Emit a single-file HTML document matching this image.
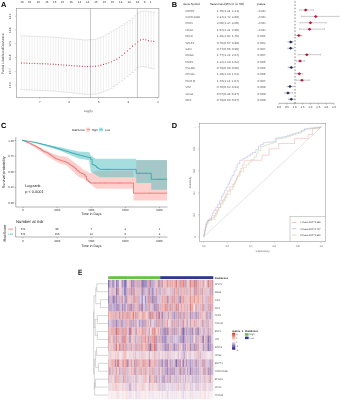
<!DOCTYPE html>
<html><head><meta charset="utf-8"><title>Figure</title>
<style>html,body{margin:0;padding:0;background:#fff;} svg{display:block;}</style></head>
<body><svg width="340" height="400" viewBox="0 0 340 400" text-rendering="geometricPrecision" style="font-family:'Liberation Sans','DejaVu Sans',sans-serif">
<rect x="0" y="0" width="340" height="400" fill="#fff"/>
<text x="0.90" y="7.10" font-size="7.4" text-anchor="start" fill="#000" font-weight="bold">A</text>
<text x="171.70" y="6.90" font-size="7.4" text-anchor="start" fill="#000" font-weight="bold">B</text>
<text x="1.10" y="127.80" font-size="7.4" text-anchor="start" fill="#000" font-weight="bold">C</text>
<text x="171.80" y="128.10" font-size="7.4" text-anchor="start" fill="#000" font-weight="bold">D</text>
<text x="77.90" y="274.80" font-size="7.8" text-anchor="start" fill="#111" font-weight="bold" textLength="4.3" lengthAdjust="spacingAndGlyphs">E</text>
<line x1="21.50" y1="35.75" x2="21.50" y2="89.60" stroke="#d8d8d8" stroke-width="0.4"/>
<line x1="20.20" y1="35.75" x2="22.80" y2="35.75" stroke="#c8c8c8" stroke-width="0.45"/>
<line x1="20.20" y1="89.60" x2="22.80" y2="89.60" stroke="#c8c8c8" stroke-width="0.45"/>
<line x1="24.14" y1="35.87" x2="24.14" y2="89.71" stroke="#d8d8d8" stroke-width="0.4"/>
<line x1="22.84" y1="35.87" x2="25.45" y2="35.87" stroke="#c8c8c8" stroke-width="0.45"/>
<line x1="22.84" y1="89.71" x2="25.45" y2="89.71" stroke="#c8c8c8" stroke-width="0.45"/>
<line x1="26.79" y1="35.98" x2="26.79" y2="89.82" stroke="#d8d8d8" stroke-width="0.4"/>
<line x1="25.49" y1="35.98" x2="28.09" y2="35.98" stroke="#c8c8c8" stroke-width="0.45"/>
<line x1="25.49" y1="89.82" x2="28.09" y2="89.82" stroke="#c8c8c8" stroke-width="0.45"/>
<line x1="29.44" y1="36.10" x2="29.44" y2="89.93" stroke="#d8d8d8" stroke-width="0.4"/>
<line x1="28.14" y1="36.10" x2="30.74" y2="36.10" stroke="#c8c8c8" stroke-width="0.45"/>
<line x1="28.14" y1="89.93" x2="30.74" y2="89.93" stroke="#c8c8c8" stroke-width="0.45"/>
<line x1="32.08" y1="36.21" x2="32.08" y2="90.05" stroke="#d8d8d8" stroke-width="0.4"/>
<line x1="30.78" y1="36.21" x2="33.38" y2="36.21" stroke="#c8c8c8" stroke-width="0.45"/>
<line x1="30.78" y1="90.05" x2="33.38" y2="90.05" stroke="#c8c8c8" stroke-width="0.45"/>
<line x1="34.73" y1="36.33" x2="34.73" y2="90.16" stroke="#d8d8d8" stroke-width="0.4"/>
<line x1="33.43" y1="36.33" x2="36.02" y2="36.33" stroke="#c8c8c8" stroke-width="0.45"/>
<line x1="33.43" y1="90.16" x2="36.02" y2="90.16" stroke="#c8c8c8" stroke-width="0.45"/>
<line x1="37.37" y1="36.45" x2="37.37" y2="90.27" stroke="#d8d8d8" stroke-width="0.4"/>
<line x1="36.07" y1="36.45" x2="38.67" y2="36.45" stroke="#c8c8c8" stroke-width="0.45"/>
<line x1="36.07" y1="90.27" x2="38.67" y2="90.27" stroke="#c8c8c8" stroke-width="0.45"/>
<line x1="40.02" y1="36.56" x2="40.02" y2="90.38" stroke="#d8d8d8" stroke-width="0.4"/>
<line x1="38.72" y1="36.56" x2="41.31" y2="36.56" stroke="#c8c8c8" stroke-width="0.45"/>
<line x1="38.72" y1="90.38" x2="41.31" y2="90.38" stroke="#c8c8c8" stroke-width="0.45"/>
<line x1="42.66" y1="36.68" x2="42.66" y2="90.49" stroke="#d8d8d8" stroke-width="0.4"/>
<line x1="41.36" y1="36.68" x2="43.96" y2="36.68" stroke="#c8c8c8" stroke-width="0.45"/>
<line x1="41.36" y1="90.49" x2="43.96" y2="90.49" stroke="#c8c8c8" stroke-width="0.45"/>
<line x1="45.30" y1="36.79" x2="45.30" y2="90.60" stroke="#d8d8d8" stroke-width="0.4"/>
<line x1="44.01" y1="36.79" x2="46.60" y2="36.79" stroke="#c8c8c8" stroke-width="0.45"/>
<line x1="44.01" y1="90.60" x2="46.60" y2="90.60" stroke="#c8c8c8" stroke-width="0.45"/>
<line x1="47.95" y1="36.91" x2="47.95" y2="90.71" stroke="#d8d8d8" stroke-width="0.4"/>
<line x1="46.65" y1="36.91" x2="49.25" y2="36.91" stroke="#c8c8c8" stroke-width="0.45"/>
<line x1="46.65" y1="90.71" x2="49.25" y2="90.71" stroke="#c8c8c8" stroke-width="0.45"/>
<line x1="50.59" y1="37.04" x2="50.59" y2="90.85" stroke="#d8d8d8" stroke-width="0.4"/>
<line x1="49.30" y1="37.04" x2="51.89" y2="37.04" stroke="#c8c8c8" stroke-width="0.45"/>
<line x1="49.30" y1="90.85" x2="51.89" y2="90.85" stroke="#c8c8c8" stroke-width="0.45"/>
<line x1="53.24" y1="37.24" x2="53.24" y2="91.08" stroke="#d8d8d8" stroke-width="0.4"/>
<line x1="51.94" y1="37.24" x2="54.54" y2="37.24" stroke="#c8c8c8" stroke-width="0.45"/>
<line x1="51.94" y1="91.08" x2="54.54" y2="91.08" stroke="#c8c8c8" stroke-width="0.45"/>
<line x1="55.88" y1="37.44" x2="55.88" y2="91.30" stroke="#d8d8d8" stroke-width="0.4"/>
<line x1="54.59" y1="37.44" x2="57.18" y2="37.44" stroke="#c8c8c8" stroke-width="0.45"/>
<line x1="54.59" y1="91.30" x2="57.18" y2="91.30" stroke="#c8c8c8" stroke-width="0.45"/>
<line x1="58.53" y1="37.64" x2="58.53" y2="91.53" stroke="#d8d8d8" stroke-width="0.4"/>
<line x1="57.23" y1="37.64" x2="59.83" y2="37.64" stroke="#c8c8c8" stroke-width="0.45"/>
<line x1="57.23" y1="91.53" x2="59.83" y2="91.53" stroke="#c8c8c8" stroke-width="0.45"/>
<line x1="61.17" y1="37.84" x2="61.17" y2="91.75" stroke="#d8d8d8" stroke-width="0.4"/>
<line x1="59.88" y1="37.84" x2="62.47" y2="37.84" stroke="#c8c8c8" stroke-width="0.45"/>
<line x1="59.88" y1="91.75" x2="62.47" y2="91.75" stroke="#c8c8c8" stroke-width="0.45"/>
<line x1="63.82" y1="38.04" x2="63.82" y2="91.97" stroke="#d8d8d8" stroke-width="0.4"/>
<line x1="62.52" y1="38.04" x2="65.12" y2="38.04" stroke="#c8c8c8" stroke-width="0.45"/>
<line x1="62.52" y1="91.97" x2="65.12" y2="91.97" stroke="#c8c8c8" stroke-width="0.45"/>
<line x1="66.47" y1="38.23" x2="66.47" y2="92.20" stroke="#d8d8d8" stroke-width="0.4"/>
<line x1="65.17" y1="38.23" x2="67.77" y2="38.23" stroke="#c8c8c8" stroke-width="0.45"/>
<line x1="65.17" y1="92.20" x2="67.77" y2="92.20" stroke="#c8c8c8" stroke-width="0.45"/>
<line x1="69.11" y1="38.43" x2="69.11" y2="92.42" stroke="#d8d8d8" stroke-width="0.4"/>
<line x1="67.81" y1="38.43" x2="70.41" y2="38.43" stroke="#c8c8c8" stroke-width="0.45"/>
<line x1="67.81" y1="92.42" x2="70.41" y2="92.42" stroke="#c8c8c8" stroke-width="0.45"/>
<line x1="71.75" y1="38.68" x2="71.75" y2="92.71" stroke="#d8d8d8" stroke-width="0.4"/>
<line x1="70.45" y1="38.68" x2="73.05" y2="38.68" stroke="#c8c8c8" stroke-width="0.45"/>
<line x1="70.45" y1="92.71" x2="73.05" y2="92.71" stroke="#c8c8c8" stroke-width="0.45"/>
<line x1="74.40" y1="38.94" x2="74.40" y2="93.03" stroke="#d8d8d8" stroke-width="0.4"/>
<line x1="73.10" y1="38.94" x2="75.70" y2="38.94" stroke="#c8c8c8" stroke-width="0.45"/>
<line x1="73.10" y1="93.03" x2="75.70" y2="93.03" stroke="#c8c8c8" stroke-width="0.45"/>
<line x1="77.05" y1="39.20" x2="77.05" y2="93.35" stroke="#d8d8d8" stroke-width="0.4"/>
<line x1="75.75" y1="39.20" x2="78.34" y2="39.20" stroke="#c8c8c8" stroke-width="0.45"/>
<line x1="75.75" y1="93.35" x2="78.34" y2="93.35" stroke="#c8c8c8" stroke-width="0.45"/>
<line x1="79.69" y1="39.47" x2="79.69" y2="93.66" stroke="#d8d8d8" stroke-width="0.4"/>
<line x1="78.39" y1="39.47" x2="80.99" y2="39.47" stroke="#c8c8c8" stroke-width="0.45"/>
<line x1="78.39" y1="93.66" x2="80.99" y2="93.66" stroke="#c8c8c8" stroke-width="0.45"/>
<line x1="82.34" y1="39.73" x2="82.34" y2="93.98" stroke="#d8d8d8" stroke-width="0.4"/>
<line x1="81.04" y1="39.73" x2="83.64" y2="39.73" stroke="#c8c8c8" stroke-width="0.45"/>
<line x1="81.04" y1="93.98" x2="83.64" y2="93.98" stroke="#c8c8c8" stroke-width="0.45"/>
<line x1="84.98" y1="40.00" x2="84.98" y2="94.30" stroke="#d8d8d8" stroke-width="0.4"/>
<line x1="83.68" y1="40.00" x2="86.28" y2="40.00" stroke="#c8c8c8" stroke-width="0.45"/>
<line x1="83.68" y1="94.30" x2="86.28" y2="94.30" stroke="#c8c8c8" stroke-width="0.45"/>
<line x1="87.62" y1="39.82" x2="87.62" y2="94.30" stroke="#d8d8d8" stroke-width="0.4"/>
<line x1="86.33" y1="39.82" x2="88.92" y2="39.82" stroke="#c8c8c8" stroke-width="0.45"/>
<line x1="86.33" y1="94.30" x2="88.92" y2="94.30" stroke="#c8c8c8" stroke-width="0.45"/>
<line x1="90.27" y1="39.63" x2="90.27" y2="94.30" stroke="#d8d8d8" stroke-width="0.4"/>
<line x1="88.97" y1="39.63" x2="91.57" y2="39.63" stroke="#c8c8c8" stroke-width="0.45"/>
<line x1="88.97" y1="94.30" x2="91.57" y2="94.30" stroke="#c8c8c8" stroke-width="0.45"/>
<line x1="92.92" y1="39.45" x2="92.92" y2="94.30" stroke="#d8d8d8" stroke-width="0.4"/>
<line x1="91.62" y1="39.45" x2="94.22" y2="39.45" stroke="#c8c8c8" stroke-width="0.45"/>
<line x1="91.62" y1="94.30" x2="94.22" y2="94.30" stroke="#c8c8c8" stroke-width="0.45"/>
<line x1="95.56" y1="39.12" x2="95.56" y2="94.16" stroke="#d8d8d8" stroke-width="0.4"/>
<line x1="94.26" y1="39.12" x2="96.86" y2="39.12" stroke="#c8c8c8" stroke-width="0.45"/>
<line x1="94.26" y1="94.16" x2="96.86" y2="94.16" stroke="#c8c8c8" stroke-width="0.45"/>
<line x1="98.20" y1="38.25" x2="98.20" y2="93.48" stroke="#d8d8d8" stroke-width="0.4"/>
<line x1="96.91" y1="38.25" x2="99.50" y2="38.25" stroke="#c8c8c8" stroke-width="0.45"/>
<line x1="96.91" y1="93.48" x2="99.50" y2="93.48" stroke="#c8c8c8" stroke-width="0.45"/>
<line x1="100.85" y1="37.38" x2="100.85" y2="92.80" stroke="#d8d8d8" stroke-width="0.4"/>
<line x1="99.55" y1="37.38" x2="102.15" y2="37.38" stroke="#c8c8c8" stroke-width="0.45"/>
<line x1="99.55" y1="92.80" x2="102.15" y2="92.80" stroke="#c8c8c8" stroke-width="0.45"/>
<line x1="103.50" y1="36.22" x2="103.50" y2="91.90" stroke="#d8d8d8" stroke-width="0.4"/>
<line x1="102.20" y1="36.22" x2="104.80" y2="36.22" stroke="#c8c8c8" stroke-width="0.45"/>
<line x1="102.20" y1="91.90" x2="104.80" y2="91.90" stroke="#c8c8c8" stroke-width="0.45"/>
<line x1="106.14" y1="34.83" x2="106.14" y2="90.84" stroke="#d8d8d8" stroke-width="0.4"/>
<line x1="104.84" y1="34.83" x2="107.44" y2="34.83" stroke="#c8c8c8" stroke-width="0.45"/>
<line x1="104.84" y1="90.84" x2="107.44" y2="90.84" stroke="#c8c8c8" stroke-width="0.45"/>
<line x1="108.78" y1="33.44" x2="108.78" y2="89.79" stroke="#d8d8d8" stroke-width="0.4"/>
<line x1="107.48" y1="33.44" x2="110.08" y2="33.44" stroke="#c8c8c8" stroke-width="0.45"/>
<line x1="107.48" y1="89.79" x2="110.08" y2="89.79" stroke="#c8c8c8" stroke-width="0.45"/>
<line x1="111.43" y1="31.93" x2="111.43" y2="88.29" stroke="#d8d8d8" stroke-width="0.4"/>
<line x1="110.13" y1="31.93" x2="112.73" y2="31.93" stroke="#c8c8c8" stroke-width="0.45"/>
<line x1="110.13" y1="88.29" x2="112.73" y2="88.29" stroke="#c8c8c8" stroke-width="0.45"/>
<line x1="114.08" y1="30.32" x2="114.08" y2="86.43" stroke="#d8d8d8" stroke-width="0.4"/>
<line x1="112.78" y1="30.32" x2="115.38" y2="30.32" stroke="#c8c8c8" stroke-width="0.45"/>
<line x1="112.78" y1="86.43" x2="115.38" y2="86.43" stroke="#c8c8c8" stroke-width="0.45"/>
<line x1="116.72" y1="28.71" x2="116.72" y2="84.57" stroke="#d8d8d8" stroke-width="0.4"/>
<line x1="115.42" y1="28.71" x2="118.02" y2="28.71" stroke="#c8c8c8" stroke-width="0.45"/>
<line x1="115.42" y1="84.57" x2="118.02" y2="84.57" stroke="#c8c8c8" stroke-width="0.45"/>
<line x1="119.36" y1="27.11" x2="119.36" y2="82.71" stroke="#d8d8d8" stroke-width="0.4"/>
<line x1="118.06" y1="27.11" x2="120.66" y2="27.11" stroke="#c8c8c8" stroke-width="0.45"/>
<line x1="118.06" y1="82.71" x2="120.66" y2="82.71" stroke="#c8c8c8" stroke-width="0.45"/>
<line x1="122.01" y1="25.50" x2="122.01" y2="80.84" stroke="#d8d8d8" stroke-width="0.4"/>
<line x1="120.71" y1="25.50" x2="123.31" y2="25.50" stroke="#c8c8c8" stroke-width="0.45"/>
<line x1="120.71" y1="80.84" x2="123.31" y2="80.84" stroke="#c8c8c8" stroke-width="0.45"/>
<line x1="124.66" y1="23.85" x2="124.66" y2="78.78" stroke="#d8d8d8" stroke-width="0.4"/>
<line x1="123.36" y1="23.85" x2="125.95" y2="23.85" stroke="#c8c8c8" stroke-width="0.45"/>
<line x1="123.36" y1="78.78" x2="125.95" y2="78.78" stroke="#c8c8c8" stroke-width="0.45"/>
<line x1="127.30" y1="22.19" x2="127.30" y2="76.66" stroke="#d8d8d8" stroke-width="0.4"/>
<line x1="126.00" y1="22.19" x2="128.60" y2="22.19" stroke="#c8c8c8" stroke-width="0.45"/>
<line x1="126.00" y1="76.66" x2="128.60" y2="76.66" stroke="#c8c8c8" stroke-width="0.45"/>
<line x1="129.94" y1="20.53" x2="129.94" y2="74.54" stroke="#d8d8d8" stroke-width="0.4"/>
<line x1="128.64" y1="20.53" x2="131.25" y2="20.53" stroke="#c8c8c8" stroke-width="0.45"/>
<line x1="128.64" y1="74.54" x2="131.25" y2="74.54" stroke="#c8c8c8" stroke-width="0.45"/>
<line x1="132.59" y1="18.43" x2="132.59" y2="72.43" stroke="#d8d8d8" stroke-width="0.4"/>
<line x1="131.29" y1="18.43" x2="133.89" y2="18.43" stroke="#c8c8c8" stroke-width="0.45"/>
<line x1="131.29" y1="72.43" x2="133.89" y2="72.43" stroke="#c8c8c8" stroke-width="0.45"/>
<line x1="135.24" y1="15.80" x2="135.24" y2="70.15" stroke="#d8d8d8" stroke-width="0.4"/>
<line x1="133.94" y1="15.80" x2="136.54" y2="15.80" stroke="#c8c8c8" stroke-width="0.45"/>
<line x1="133.94" y1="70.15" x2="136.54" y2="70.15" stroke="#c8c8c8" stroke-width="0.45"/>
<line x1="137.88" y1="13.00" x2="137.88" y2="67.74" stroke="#d8d8d8" stroke-width="0.4"/>
<line x1="136.58" y1="13.00" x2="139.18" y2="13.00" stroke="#c8c8c8" stroke-width="0.45"/>
<line x1="136.58" y1="67.74" x2="139.18" y2="67.74" stroke="#c8c8c8" stroke-width="0.45"/>
<line x1="140.53" y1="11.64" x2="140.53" y2="66.67" stroke="#d8d8d8" stroke-width="0.4"/>
<line x1="139.22" y1="11.64" x2="141.83" y2="11.64" stroke="#c8c8c8" stroke-width="0.45"/>
<line x1="139.22" y1="66.67" x2="141.83" y2="66.67" stroke="#c8c8c8" stroke-width="0.45"/>
<line x1="143.17" y1="11.27" x2="143.17" y2="66.55" stroke="#d8d8d8" stroke-width="0.4"/>
<line x1="141.87" y1="11.27" x2="144.47" y2="11.27" stroke="#c8c8c8" stroke-width="0.45"/>
<line x1="141.87" y1="66.55" x2="144.47" y2="66.55" stroke="#c8c8c8" stroke-width="0.45"/>
<line x1="145.81" y1="11.11" x2="145.81" y2="67.12" stroke="#d8d8d8" stroke-width="0.4"/>
<line x1="144.51" y1="11.11" x2="147.12" y2="11.11" stroke="#c8c8c8" stroke-width="0.45"/>
<line x1="144.51" y1="67.12" x2="147.12" y2="67.12" stroke="#c8c8c8" stroke-width="0.45"/>
<line x1="148.46" y1="11.44" x2="148.46" y2="67.70" stroke="#d8d8d8" stroke-width="0.4"/>
<line x1="147.16" y1="11.44" x2="149.76" y2="11.44" stroke="#c8c8c8" stroke-width="0.45"/>
<line x1="147.16" y1="67.70" x2="149.76" y2="67.70" stroke="#c8c8c8" stroke-width="0.45"/>
<line x1="151.10" y1="11.80" x2="151.10" y2="68.27" stroke="#d8d8d8" stroke-width="0.4"/>
<line x1="149.80" y1="11.80" x2="152.41" y2="11.80" stroke="#c8c8c8" stroke-width="0.45"/>
<line x1="149.80" y1="68.27" x2="152.41" y2="68.27" stroke="#c8c8c8" stroke-width="0.45"/>
<line x1="153.75" y1="12.17" x2="153.75" y2="68.85" stroke="#d8d8d8" stroke-width="0.4"/>
<line x1="152.45" y1="12.17" x2="155.05" y2="12.17" stroke="#c8c8c8" stroke-width="0.45"/>
<line x1="152.45" y1="68.85" x2="155.05" y2="68.85" stroke="#c8c8c8" stroke-width="0.45"/>
<ellipse cx="21.50" cy="63.00" rx="0.5" ry="0.65" fill="#c42a3a"/>
<ellipse cx="24.14" cy="63.09" rx="0.5" ry="0.65" fill="#c42a3a"/>
<ellipse cx="26.79" cy="63.19" rx="0.5" ry="0.65" fill="#c42a3a"/>
<ellipse cx="29.44" cy="63.28" rx="0.5" ry="0.65" fill="#c42a3a"/>
<ellipse cx="32.08" cy="63.37" rx="0.5" ry="0.65" fill="#c42a3a"/>
<ellipse cx="34.73" cy="63.46" rx="0.5" ry="0.65" fill="#c42a3a"/>
<ellipse cx="37.37" cy="63.56" rx="0.5" ry="0.65" fill="#c42a3a"/>
<ellipse cx="40.02" cy="63.65" rx="0.5" ry="0.65" fill="#c42a3a"/>
<ellipse cx="42.66" cy="63.74" rx="0.5" ry="0.65" fill="#c42a3a"/>
<ellipse cx="45.30" cy="63.84" rx="0.5" ry="0.65" fill="#c42a3a"/>
<ellipse cx="47.95" cy="63.93" rx="0.5" ry="0.65" fill="#c42a3a"/>
<ellipse cx="50.59" cy="64.04" rx="0.5" ry="0.65" fill="#c42a3a"/>
<ellipse cx="53.24" cy="64.24" rx="0.5" ry="0.65" fill="#c42a3a"/>
<ellipse cx="55.88" cy="64.44" rx="0.5" ry="0.65" fill="#c42a3a"/>
<ellipse cx="58.53" cy="64.64" rx="0.5" ry="0.65" fill="#c42a3a"/>
<ellipse cx="61.17" cy="64.84" rx="0.5" ry="0.65" fill="#c42a3a"/>
<ellipse cx="63.82" cy="65.04" rx="0.5" ry="0.65" fill="#c42a3a"/>
<ellipse cx="66.47" cy="65.23" rx="0.5" ry="0.65" fill="#c42a3a"/>
<ellipse cx="69.11" cy="65.43" rx="0.5" ry="0.65" fill="#c42a3a"/>
<ellipse cx="71.75" cy="65.63" rx="0.5" ry="0.65" fill="#c42a3a"/>
<ellipse cx="74.40" cy="65.82" rx="0.5" ry="0.65" fill="#c42a3a"/>
<ellipse cx="77.05" cy="66.02" rx="0.5" ry="0.65" fill="#c42a3a"/>
<ellipse cx="79.69" cy="66.21" rx="0.5" ry="0.65" fill="#c42a3a"/>
<ellipse cx="82.34" cy="66.40" rx="0.5" ry="0.65" fill="#c42a3a"/>
<ellipse cx="84.98" cy="66.60" rx="0.5" ry="0.65" fill="#c42a3a"/>
<ellipse cx="87.62" cy="66.52" rx="0.5" ry="0.65" fill="#c42a3a"/>
<ellipse cx="90.27" cy="66.44" rx="0.5" ry="0.65" fill="#c42a3a"/>
<ellipse cx="92.92" cy="66.36" rx="0.5" ry="0.65" fill="#c42a3a"/>
<ellipse cx="95.56" cy="66.21" rx="0.5" ry="0.65" fill="#c42a3a"/>
<ellipse cx="98.20" cy="65.79" rx="0.5" ry="0.65" fill="#c42a3a"/>
<ellipse cx="100.85" cy="65.25" rx="0.5" ry="0.65" fill="#c42a3a"/>
<ellipse cx="103.50" cy="64.45" rx="0.5" ry="0.65" fill="#c42a3a"/>
<ellipse cx="106.14" cy="63.66" rx="0.5" ry="0.65" fill="#c42a3a"/>
<ellipse cx="108.78" cy="62.86" rx="0.5" ry="0.65" fill="#c42a3a"/>
<ellipse cx="111.43" cy="61.78" rx="0.5" ry="0.65" fill="#c42a3a"/>
<ellipse cx="114.08" cy="60.46" rx="0.5" ry="0.65" fill="#c42a3a"/>
<ellipse cx="116.72" cy="59.14" rx="0.5" ry="0.65" fill="#c42a3a"/>
<ellipse cx="119.36" cy="57.32" rx="0.5" ry="0.65" fill="#c42a3a"/>
<ellipse cx="122.01" cy="55.29" rx="0.5" ry="0.65" fill="#c42a3a"/>
<ellipse cx="124.66" cy="53.26" rx="0.5" ry="0.65" fill="#c42a3a"/>
<ellipse cx="127.30" cy="50.95" rx="0.5" ry="0.65" fill="#c42a3a"/>
<ellipse cx="129.94" cy="48.58" rx="0.5" ry="0.65" fill="#c42a3a"/>
<ellipse cx="132.59" cy="46.23" rx="0.5" ry="0.65" fill="#c42a3a"/>
<ellipse cx="135.24" cy="44.05" rx="0.5" ry="0.65" fill="#c42a3a"/>
<ellipse cx="137.88" cy="41.78" rx="0.5" ry="0.65" fill="#c42a3a"/>
<ellipse cx="140.53" cy="39.99" rx="0.5" ry="0.65" fill="#c42a3a"/>
<ellipse cx="143.17" cy="39.31" rx="0.5" ry="0.65" fill="#c42a3a"/>
<ellipse cx="145.81" cy="39.80" rx="0.5" ry="0.65" fill="#c42a3a"/>
<ellipse cx="148.46" cy="40.73" rx="0.5" ry="0.65" fill="#c42a3a"/>
<ellipse cx="151.10" cy="41.04" rx="0.5" ry="0.65" fill="#c42a3a"/>
<ellipse cx="153.75" cy="41.40" rx="0.5" ry="0.65" fill="#c42a3a"/>
<line x1="90.50" y1="8.40" x2="90.50" y2="97.40" stroke="#888" stroke-width="0.45"/>
<line x1="137.40" y1="8.40" x2="137.40" y2="97.40" stroke="#888" stroke-width="0.45"/>
<rect x="16.30" y="8.40" width="142.60" height="89.00" fill="none" stroke="#888" stroke-width="0.55"/>
<text x="22.10" y="3.10" font-size="3.0" text-anchor="middle" fill="#333">16</text>
<text x="29.60" y="3.10" font-size="3.0" text-anchor="middle" fill="#333">16</text>
<text x="38.20" y="3.10" font-size="3.0" text-anchor="middle" fill="#333">16</text>
<text x="46.80" y="3.10" font-size="3.0" text-anchor="middle" fill="#333">15</text>
<text x="54.70" y="3.10" font-size="3.0" text-anchor="middle" fill="#333">15</text>
<text x="62.40" y="3.10" font-size="3.0" text-anchor="middle" fill="#333">15</text>
<text x="71.10" y="3.10" font-size="3.0" text-anchor="middle" fill="#333">15</text>
<text x="79.50" y="3.10" font-size="3.0" text-anchor="middle" fill="#333">14</text>
<text x="87.50" y="3.10" font-size="3.0" text-anchor="middle" fill="#333">14</text>
<text x="96.00" y="3.10" font-size="3.0" text-anchor="middle" fill="#333">15</text>
<text x="104.40" y="3.10" font-size="3.0" text-anchor="middle" fill="#333">15</text>
<text x="112.60" y="3.10" font-size="3.0" text-anchor="middle" fill="#333">15</text>
<text x="120.70" y="3.10" font-size="3.0" text-anchor="middle" fill="#333">14</text>
<text x="129.10" y="3.10" font-size="3.0" text-anchor="middle" fill="#333">14</text>
<text x="137.50" y="3.10" font-size="3.0" text-anchor="middle" fill="#333">12</text>
<text x="144.60" y="3.10" font-size="3.0" text-anchor="middle" fill="#333">3</text>
<text x="150.50" y="3.10" font-size="3.0" text-anchor="middle" fill="#333">1</text>
<line x1="14.80" y1="16.25" x2="16.30" y2="16.25" stroke="#888" stroke-width="0.4"/>
<text x="11.10" y="16.25" font-size="3.0" text-anchor="middle" fill="#333" transform="rotate(-90 11.1 16.25)">13.1</text>
<line x1="14.80" y1="30.00" x2="16.30" y2="30.00" stroke="#888" stroke-width="0.4"/>
<text x="11.10" y="30.00" font-size="3.0" text-anchor="middle" fill="#333" transform="rotate(-90 11.1 30.0)">13.0</text>
<line x1="14.80" y1="43.75" x2="16.30" y2="43.75" stroke="#888" stroke-width="0.4"/>
<text x="11.10" y="43.75" font-size="3.0" text-anchor="middle" fill="#333" transform="rotate(-90 11.1 43.75)">12.9</text>
<line x1="14.80" y1="57.50" x2="16.30" y2="57.50" stroke="#888" stroke-width="0.4"/>
<text x="11.10" y="57.50" font-size="3.0" text-anchor="middle" fill="#333" transform="rotate(-90 11.1 57.5)">12.8</text>
<line x1="14.80" y1="71.25" x2="16.30" y2="71.25" stroke="#888" stroke-width="0.4"/>
<text x="11.10" y="71.25" font-size="3.0" text-anchor="middle" fill="#333" transform="rotate(-90 11.1 71.25)">12.7</text>
<line x1="14.80" y1="85.00" x2="16.30" y2="85.00" stroke="#888" stroke-width="0.4"/>
<text x="11.10" y="85.00" font-size="3.0" text-anchor="middle" fill="#333" transform="rotate(-90 11.1 85.0)">12.6</text>
<text x="4.20" y="53.80" font-size="3.4" text-anchor="middle" fill="#333" transform="rotate(-90 4.2 53.8)">Partial Likelihood Deviance</text>
<line x1="39.40" y1="97.40" x2="39.40" y2="98.90" stroke="#888" stroke-width="0.4"/>
<text x="39.40" y="102.90" font-size="2.9" text-anchor="middle" fill="#333">-7</text>
<line x1="68.90" y1="97.40" x2="68.90" y2="98.90" stroke="#888" stroke-width="0.4"/>
<text x="68.90" y="102.90" font-size="2.9" text-anchor="middle" fill="#333">-6</text>
<line x1="98.40" y1="97.40" x2="98.40" y2="98.90" stroke="#888" stroke-width="0.4"/>
<text x="98.40" y="102.90" font-size="2.9" text-anchor="middle" fill="#333">-5</text>
<line x1="127.90" y1="97.40" x2="127.90" y2="98.90" stroke="#888" stroke-width="0.4"/>
<text x="127.90" y="102.90" font-size="2.9" text-anchor="middle" fill="#333">-4</text>
<line x1="157.40" y1="97.40" x2="157.40" y2="98.90" stroke="#888" stroke-width="0.4"/>
<text x="157.40" y="102.90" font-size="2.9" text-anchor="middle" fill="#333">-3</text>
<text x="88.20" y="111.60" font-size="3.0" text-anchor="middle" fill="#444">Log(λ)</text>
<text x="183.20" y="5.00" font-size="3.0" text-anchor="start" fill="#222" textLength="16.8" lengthAdjust="spacingAndGlyphs">Gene Symbol</text>
<text x="209.70" y="5.00" font-size="3.0" text-anchor="start" fill="#222" textLength="34.1" lengthAdjust="spacingAndGlyphs">Hazard ratio(95% CI for HR)</text>
<text x="256.80" y="5.00" font-size="3.0" text-anchor="start" fill="#222" textLength="8.5" lengthAdjust="spacingAndGlyphs">pvalue</text>
<text x="185.50" y="11.60" font-size="2.8" text-anchor="start" fill="#555">ENPP1</text>
<text x="216.80" y="11.60" font-size="2.8" text-anchor="start" fill="#555" textLength="22.3" lengthAdjust="spacingAndGlyphs">1.70(1.31-2.21)</text>
<text x="257.60" y="11.60" font-size="2.8" text-anchor="start" fill="#555" textLength="8.0" lengthAdjust="spacingAndGlyphs">&lt;0.001</text>
<line x1="299.59" y1="10.00" x2="313.74" y2="10.00" stroke="#8a8a8a" stroke-width="0.45"/>
<line x1="299.59" y1="9.20" x2="299.59" y2="10.80" stroke="#8a8a8a" stroke-width="0.4"/>
<line x1="313.74" y1="9.20" x2="313.74" y2="10.80" stroke="#8a8a8a" stroke-width="0.4"/>
<polygon points="303.82,10.00 305.72,8.50 307.62,10.00 305.72,11.50" fill="#b8173a"/>
<text x="185.50" y="17.98" font-size="2.8" text-anchor="start" fill="#555">CCDC183B</text>
<text x="216.80" y="17.98" font-size="2.8" text-anchor="start" fill="#555" textLength="22.3" lengthAdjust="spacingAndGlyphs">2.34(1.42-3.80)</text>
<text x="257.60" y="17.98" font-size="2.8" text-anchor="start" fill="#555" textLength="8.0" lengthAdjust="spacingAndGlyphs">&lt;0.001</text>
<line x1="301.32" y1="16.38" x2="338.74" y2="16.38" stroke="#8a8a8a" stroke-width="0.45"/>
<line x1="301.32" y1="15.58" x2="301.32" y2="17.18" stroke="#8a8a8a" stroke-width="0.4"/>
<line x1="338.74" y1="15.58" x2="338.74" y2="17.18" stroke="#8a8a8a" stroke-width="0.4"/>
<polygon points="313.88,16.38 315.78,14.88 317.68,16.38 315.78,17.88" fill="#b8173a"/>
<text x="185.50" y="24.36" font-size="2.8" text-anchor="start" fill="#555">PKD1</text>
<text x="216.80" y="24.36" font-size="2.8" text-anchor="start" fill="#555" textLength="22.3" lengthAdjust="spacingAndGlyphs">2.00(1.34-3.00)</text>
<text x="257.60" y="24.36" font-size="2.8" text-anchor="start" fill="#555" textLength="8.0" lengthAdjust="spacingAndGlyphs">&lt;0.001</text>
<line x1="300.06" y1="22.76" x2="326.16" y2="22.76" stroke="#8a8a8a" stroke-width="0.45"/>
<line x1="300.06" y1="21.96" x2="300.06" y2="23.56" stroke="#8a8a8a" stroke-width="0.4"/>
<line x1="326.16" y1="21.96" x2="326.16" y2="23.56" stroke="#8a8a8a" stroke-width="0.4"/>
<polygon points="308.54,22.76 310.44,21.26 312.34,22.76 310.44,24.26" fill="#b8173a"/>
<text x="185.50" y="30.74" font-size="2.8" text-anchor="start" fill="#555">NOS2</text>
<text x="216.80" y="30.74" font-size="2.8" text-anchor="start" fill="#555" textLength="22.3" lengthAdjust="spacingAndGlyphs">1.94(1.31-2.90)</text>
<text x="257.60" y="30.74" font-size="2.8" text-anchor="start" fill="#555" textLength="8.0" lengthAdjust="spacingAndGlyphs">&lt;0.001</text>
<line x1="299.59" y1="29.14" x2="324.59" y2="29.14" stroke="#8a8a8a" stroke-width="0.45"/>
<line x1="299.59" y1="28.34" x2="299.59" y2="29.94" stroke="#8a8a8a" stroke-width="0.4"/>
<line x1="324.59" y1="28.34" x2="324.59" y2="29.94" stroke="#8a8a8a" stroke-width="0.4"/>
<polygon points="307.60,29.14 309.50,27.64 311.40,29.14 309.50,30.64" fill="#b8173a"/>
<text x="185.50" y="37.12" font-size="2.8" text-anchor="start" fill="#555">RELB</text>
<text x="216.80" y="37.12" font-size="2.8" text-anchor="start" fill="#555" textLength="22.3" lengthAdjust="spacingAndGlyphs">1.26(1.02-1.46)</text>
<text x="257.60" y="37.12" font-size="2.8" text-anchor="start" fill="#555" textLength="8.0" lengthAdjust="spacingAndGlyphs">0.001</text>
<line x1="295.03" y1="35.52" x2="301.95" y2="35.52" stroke="#8a8a8a" stroke-width="0.45"/>
<line x1="295.03" y1="34.72" x2="295.03" y2="36.32" stroke="#8a8a8a" stroke-width="0.4"/>
<line x1="301.95" y1="34.72" x2="301.95" y2="36.32" stroke="#8a8a8a" stroke-width="0.4"/>
<polygon points="296.91,35.52 298.81,34.02 300.71,35.52 298.81,37.02" fill="#b8173a"/>
<text x="185.50" y="43.50" font-size="2.8" text-anchor="start" fill="#555">SPLP2</text>
<text x="216.80" y="43.50" font-size="2.8" text-anchor="start" fill="#555" textLength="22.3" lengthAdjust="spacingAndGlyphs">0.75(0.57-0.89)</text>
<text x="257.60" y="43.50" font-size="2.8" text-anchor="start" fill="#555" textLength="8.0" lengthAdjust="spacingAndGlyphs">0.002</text>
<line x1="287.96" y1="41.90" x2="292.99" y2="41.90" stroke="#8a8a8a" stroke-width="0.45"/>
<line x1="287.96" y1="41.10" x2="287.96" y2="42.70" stroke="#8a8a8a" stroke-width="0.4"/>
<line x1="292.99" y1="41.10" x2="292.99" y2="42.70" stroke="#8a8a8a" stroke-width="0.4"/>
<polygon points="288.89,41.90 290.79,40.40 292.69,41.90 290.79,43.40" fill="#243063"/>
<text x="185.50" y="49.88" font-size="2.8" text-anchor="start" fill="#555">GFI1</text>
<text x="216.80" y="49.88" font-size="2.8" text-anchor="start" fill="#555" textLength="22.3" lengthAdjust="spacingAndGlyphs">0.74(0.56-0.90)</text>
<text x="257.60" y="49.88" font-size="2.8" text-anchor="start" fill="#555" textLength="8.0" lengthAdjust="spacingAndGlyphs">0.004</text>
<line x1="287.80" y1="48.28" x2="293.15" y2="48.28" stroke="#8a8a8a" stroke-width="0.45"/>
<line x1="287.80" y1="47.48" x2="287.80" y2="49.08" stroke="#8a8a8a" stroke-width="0.4"/>
<line x1="293.15" y1="47.48" x2="293.15" y2="49.08" stroke="#8a8a8a" stroke-width="0.4"/>
<polygon points="288.73,48.28 290.63,46.78 292.53,48.28 290.63,49.78" fill="#243063"/>
<text x="185.50" y="56.26" font-size="2.8" text-anchor="start" fill="#555">ROGS</text>
<text x="216.80" y="56.26" font-size="2.8" text-anchor="start" fill="#555" textLength="22.3" lengthAdjust="spacingAndGlyphs">1.77(1.21-2.64)</text>
<text x="257.60" y="56.26" font-size="2.8" text-anchor="start" fill="#555" textLength="8.0" lengthAdjust="spacingAndGlyphs">0.004</text>
<line x1="298.02" y1="54.66" x2="320.50" y2="54.66" stroke="#8a8a8a" stroke-width="0.45"/>
<line x1="298.02" y1="53.86" x2="298.02" y2="55.46" stroke="#8a8a8a" stroke-width="0.4"/>
<line x1="320.50" y1="53.86" x2="320.50" y2="55.46" stroke="#8a8a8a" stroke-width="0.4"/>
<polygon points="304.92,54.66 306.82,53.16 308.72,54.66 306.82,56.16" fill="#b8173a"/>
<text x="185.50" y="62.64" font-size="2.8" text-anchor="start" fill="#555">EMP1</text>
<text x="216.80" y="62.64" font-size="2.8" text-anchor="start" fill="#555" textLength="22.3" lengthAdjust="spacingAndGlyphs">1.34(1.10-1.62)</text>
<text x="257.60" y="62.64" font-size="2.8" text-anchor="start" fill="#555" textLength="8.0" lengthAdjust="spacingAndGlyphs">0.005</text>
<line x1="296.29" y1="61.04" x2="304.47" y2="61.04" stroke="#8a8a8a" stroke-width="0.45"/>
<line x1="296.29" y1="60.24" x2="296.29" y2="61.84" stroke="#8a8a8a" stroke-width="0.4"/>
<line x1="304.47" y1="60.24" x2="304.47" y2="61.84" stroke="#8a8a8a" stroke-width="0.4"/>
<polygon points="298.16,61.04 300.06,59.54 301.96,61.04 300.06,62.54" fill="#b8173a"/>
<text x="185.50" y="69.02" font-size="2.8" text-anchor="start" fill="#555">PSLMA</text>
<text x="216.80" y="69.02" font-size="2.8" text-anchor="start" fill="#555" textLength="22.3" lengthAdjust="spacingAndGlyphs">0.78(0.58-0.96)</text>
<text x="257.60" y="69.02" font-size="2.8" text-anchor="start" fill="#555" textLength="8.0" lengthAdjust="spacingAndGlyphs">0.005</text>
<line x1="288.12" y1="67.42" x2="294.09" y2="67.42" stroke="#8a8a8a" stroke-width="0.45"/>
<line x1="288.12" y1="66.62" x2="288.12" y2="68.22" stroke="#8a8a8a" stroke-width="0.4"/>
<line x1="294.09" y1="66.62" x2="294.09" y2="68.22" stroke="#8a8a8a" stroke-width="0.4"/>
<polygon points="289.36,67.42 291.26,65.92 293.16,67.42 291.26,68.92" fill="#243063"/>
<text x="185.50" y="75.40" font-size="2.8" text-anchor="start" fill="#555">EPHA3</text>
<text x="216.80" y="75.40" font-size="2.8" text-anchor="start" fill="#555" textLength="22.3" lengthAdjust="spacingAndGlyphs">1.29(1.10-1.51)</text>
<text x="257.60" y="75.40" font-size="2.8" text-anchor="start" fill="#555" textLength="8.0" lengthAdjust="spacingAndGlyphs">0.006</text>
<line x1="296.29" y1="73.80" x2="302.74" y2="73.80" stroke="#8a8a8a" stroke-width="0.45"/>
<line x1="296.29" y1="73.00" x2="296.29" y2="74.60" stroke="#8a8a8a" stroke-width="0.4"/>
<line x1="302.74" y1="73.00" x2="302.74" y2="74.60" stroke="#8a8a8a" stroke-width="0.4"/>
<polygon points="297.38,73.80 299.28,72.30 301.18,73.80 299.28,75.30" fill="#b8173a"/>
<text x="185.50" y="81.78" font-size="2.8" text-anchor="start" fill="#555">PCDH9</text>
<text x="216.80" y="81.78" font-size="2.8" text-anchor="start" fill="#555" textLength="22.3" lengthAdjust="spacingAndGlyphs">1.46(1.11-1.94)</text>
<text x="257.60" y="81.78" font-size="2.8" text-anchor="start" fill="#555" textLength="8.0" lengthAdjust="spacingAndGlyphs">0.007</text>
<line x1="296.45" y1="80.18" x2="309.50" y2="80.18" stroke="#8a8a8a" stroke-width="0.45"/>
<line x1="296.45" y1="79.38" x2="296.45" y2="80.98" stroke="#8a8a8a" stroke-width="0.4"/>
<line x1="309.50" y1="79.38" x2="309.50" y2="80.98" stroke="#8a8a8a" stroke-width="0.4"/>
<polygon points="300.05,80.18 301.95,78.68 303.85,80.18 301.95,81.68" fill="#b8173a"/>
<text x="185.50" y="88.16" font-size="2.8" text-anchor="start" fill="#555">VIM</text>
<text x="216.80" y="88.16" font-size="2.8" text-anchor="start" fill="#555" textLength="22.3" lengthAdjust="spacingAndGlyphs">0.70(0.52-0.91)</text>
<text x="257.60" y="88.16" font-size="2.8" text-anchor="start" fill="#555" textLength="8.0" lengthAdjust="spacingAndGlyphs">0.008</text>
<line x1="287.17" y1="86.56" x2="293.31" y2="86.56" stroke="#8a8a8a" stroke-width="0.45"/>
<line x1="287.17" y1="85.76" x2="287.17" y2="87.36" stroke="#8a8a8a" stroke-width="0.4"/>
<line x1="293.31" y1="85.76" x2="293.31" y2="87.36" stroke="#8a8a8a" stroke-width="0.4"/>
<polygon points="288.10,86.56 290.00,85.06 291.90,86.56 290.00,88.06" fill="#243063"/>
<text x="185.50" y="94.54" font-size="2.8" text-anchor="start" fill="#555">SCG3</text>
<text x="216.80" y="94.54" font-size="2.8" text-anchor="start" fill="#555" textLength="22.3" lengthAdjust="spacingAndGlyphs">0.57(0.36-0.87)</text>
<text x="257.60" y="94.54" font-size="2.8" text-anchor="start" fill="#555" textLength="8.0" lengthAdjust="spacingAndGlyphs">0.009</text>
<line x1="284.66" y1="92.94" x2="292.68" y2="92.94" stroke="#8a8a8a" stroke-width="0.45"/>
<line x1="284.66" y1="92.14" x2="284.66" y2="93.74" stroke="#8a8a8a" stroke-width="0.4"/>
<line x1="292.68" y1="92.14" x2="292.68" y2="93.74" stroke="#8a8a8a" stroke-width="0.4"/>
<polygon points="286.06,92.94 287.96,91.44 289.86,92.94 287.96,94.44" fill="#243063"/>
<text x="185.50" y="100.92" font-size="2.8" text-anchor="start" fill="#555">IRF1</text>
<text x="216.80" y="100.92" font-size="2.8" text-anchor="start" fill="#555" textLength="22.3" lengthAdjust="spacingAndGlyphs">0.78(0.60-0.97)</text>
<text x="257.60" y="100.92" font-size="2.8" text-anchor="start" fill="#555" textLength="8.0" lengthAdjust="spacingAndGlyphs">0.009</text>
<line x1="288.43" y1="99.32" x2="294.25" y2="99.32" stroke="#8a8a8a" stroke-width="0.45"/>
<line x1="288.43" y1="98.52" x2="288.43" y2="100.12" stroke="#8a8a8a" stroke-width="0.4"/>
<line x1="294.25" y1="98.52" x2="294.25" y2="100.12" stroke="#8a8a8a" stroke-width="0.4"/>
<polygon points="289.36,99.32 291.26,97.82 293.16,99.32 291.26,100.82" fill="#243063"/>
<line x1="295.00" y1="1.20" x2="295.00" y2="103.20" stroke="#777" stroke-width="0.9" stroke-dasharray="1.5,1.75"/>
<line x1="279.00" y1="103.30" x2="334.02" y2="103.30" stroke="#555" stroke-width="0.45"/>
<line x1="279.00" y1="103.30" x2="279.00" y2="104.60" stroke="#555" stroke-width="0.4"/>
<text x="279.00" y="108.20" font-size="2.8" text-anchor="middle" fill="#333">0.0</text>
<line x1="286.86" y1="103.30" x2="286.86" y2="104.60" stroke="#555" stroke-width="0.4"/>
<text x="286.86" y="108.20" font-size="2.8" text-anchor="middle" fill="#333">0.5</text>
<line x1="294.72" y1="103.30" x2="294.72" y2="104.60" stroke="#555" stroke-width="0.4"/>
<text x="294.72" y="108.20" font-size="2.8" text-anchor="middle" fill="#333">1.0</text>
<line x1="302.58" y1="103.30" x2="302.58" y2="104.60" stroke="#555" stroke-width="0.4"/>
<text x="302.58" y="108.20" font-size="2.8" text-anchor="middle" fill="#333">1.5</text>
<line x1="310.44" y1="103.30" x2="310.44" y2="104.60" stroke="#555" stroke-width="0.4"/>
<text x="310.44" y="108.20" font-size="2.8" text-anchor="middle" fill="#333">2.0</text>
<line x1="318.30" y1="103.30" x2="318.30" y2="104.60" stroke="#555" stroke-width="0.4"/>
<text x="318.30" y="108.20" font-size="2.8" text-anchor="middle" fill="#333">2.5</text>
<line x1="326.16" y1="103.30" x2="326.16" y2="104.60" stroke="#555" stroke-width="0.4"/>
<text x="326.16" y="108.20" font-size="2.8" text-anchor="middle" fill="#333">3.0</text>
<line x1="334.02" y1="103.30" x2="334.02" y2="104.60" stroke="#555" stroke-width="0.4"/>
<text x="334.02" y="108.20" font-size="2.8" text-anchor="middle" fill="#333">3.5</text>
<polygon points="22.00,140.30 35.00,144.80 50.00,152.50 60.00,156.00 66.80,156.80 78.50,165.60 84.40,170.30 90.30,173.20 96.00,171.00 133.50,170.50 133.50,177.00 136.20,177.00 136.20,160.20 167.00,160.20 167.00,200.60 133.50,200.60 133.50,188.80 96.00,188.80 90.30,183.80 84.40,179.10 78.50,176.80 66.80,165.60 60.00,163.50 50.00,158.00 35.00,147.50 22.00,140.30" fill="#F8766D" fill-opacity="0.34"/>
<polygon points="22.00,140.30 35.00,142.00 50.00,145.20 60.00,147.00 66.80,148.80 78.50,151.50 89.00,152.00 91.00,155.60 95.60,158.80 136.20,158.80 136.20,160.00 167.00,160.00 167.00,189.70 151.20,189.70 151.20,183.00 136.20,183.00 136.20,177.20 100.00,177.20 91.00,172.00 89.00,160.30 78.50,158.50 66.80,153.60 60.00,150.50 50.00,147.60 35.00,143.00 22.00,140.30" fill="#4DBDC1" fill-opacity="0.50"/>
<polyline points="22.00,140.30 22.99,140.30 22.99,140.70 23.77,140.70 23.77,141.01 25.15,141.01 25.15,141.56 25.84,141.56 25.84,141.84 27.08,141.84 27.08,142.33 28.12,142.33 28.12,142.75 28.79,142.75 28.79,143.02 30.00,143.02 30.00,143.50 30.64,143.50 30.64,143.85 31.76,143.85 31.76,144.45 32.45,144.45 32.45,144.82 33.16,144.82 33.16,145.20 34.27,145.20 34.27,145.80 35.86,145.80 35.86,146.68 36.61,146.68 36.61,147.10 37.47,147.10 37.47,147.59 38.83,147.59 38.83,148.34 40.56,148.34 40.56,149.44 41.86,149.44 41.86,150.45 42.93,150.45 42.93,151.29 44.70,151.29 44.70,151.94 45.36,151.94 45.36,152.13 46.99,152.13 46.99,152.60 47.94,152.60 47.94,153.28 48.71,153.28 48.71,153.84 49.45,153.84 49.45,154.38 50.42,154.38 50.42,155.09 52.00,155.09 52.00,156.27 52.82,156.27 52.82,156.88 54.12,156.88 54.12,157.84 55.48,157.84 55.48,158.67 56.53,158.67 56.53,159.02 57.79,159.02 57.79,159.46 58.46,159.46 58.46,159.69 59.13,159.69 59.13,159.92 59.98,159.92 59.98,160.21 61.40,160.21 61.40,160.69 62.51,160.69 62.51,161.08 63.49,161.08 63.49,161.43 64.79,161.43 64.79,161.89 65.93,161.89 65.93,162.29 66.89,162.29 66.89,162.66 68.45,162.66 68.45,163.73 69.89,163.73 69.89,164.72 70.78,164.72 70.78,165.33 72.07,165.33 72.07,166.21 73.30,166.21 73.30,167.06 74.95,167.06 74.95,168.52 76.42,168.52 76.42,169.97 77.37,169.97 77.37,170.89 79.15,170.89 79.15,172.33 79.89,172.33 79.89,172.71 80.99,172.71 80.99,173.28 82.50,173.28 82.50,173.92 83.28,173.92 83.28,174.12 84.47,174.12 84.47,174.57 85.11,174.57 85.11,176.22 86.52,176.22 86.52,179.78 88.03,179.78 88.03,181.38 89.32,181.38 89.32,182.30 90.30,182.30 90.30,183.00 133.50,183.00 133.50,193.20 167.00,193.20" fill="none" stroke="#E0605A" stroke-width="0.7"/>
<polyline points="22.00,140.30 22.98,140.30 22.98,140.47 24.41,140.47 24.41,140.71 25.72,140.71 25.72,140.93 27.02,140.93 27.02,141.15 28.17,141.15 28.17,141.34 29.78,141.34 29.78,141.62 31.51,141.62 31.51,141.91 32.68,141.91 32.68,142.11 34.07,142.11 34.07,142.34 34.75,142.34 34.75,142.46 36.19,142.46 36.19,142.79 37.57,142.79 37.57,143.13 39.36,143.13 39.36,143.57 40.94,143.57 40.94,143.97 41.89,143.97 41.89,144.20 42.95,144.20 42.95,144.46 44.35,144.46 44.35,144.81 44.98,144.81 44.98,144.96 46.13,144.96 46.13,145.25 46.93,145.25 46.93,145.44 47.67,145.44 47.67,145.63 48.34,145.63 48.34,145.79 49.87,145.79 49.87,146.17 50.62,146.17 50.62,146.41 51.52,146.41 51.52,146.72 52.59,146.72 52.59,147.08 54.23,147.08 54.23,147.64 54.93,147.64 54.93,147.88 56.07,147.88 56.07,148.23 57.33,148.23 57.33,148.61 58.99,148.61 58.99,149.12 60.57,149.12 60.57,149.60 62.21,149.60 62.21,150.10 63.14,150.10 63.14,150.38 64.24,150.38 64.24,150.72 65.27,150.72 65.27,151.03 66.93,151.03 66.93,151.54 68.68,151.54 68.68,152.06 69.46,152.06 69.46,152.30 70.27,152.30 70.27,152.54 71.15,152.54 71.15,152.80 72.03,152.80 72.03,153.07 73.22,153.07 73.22,153.42 74.52,153.42 74.52,153.81 75.44,153.81 75.44,154.08 76.04,154.08 76.04,154.26 77.15,154.26 77.15,154.59 78.19,154.59 78.19,154.91 79.47,154.91 79.47,155.25 81.21,155.25 81.21,155.69 82.64,155.69 82.64,156.05 83.86,156.05 83.86,156.36 85.20,156.36 85.20,156.70 86.61,156.70 86.61,157.04 87.28,157.04 87.28,157.19 88.96,157.19 88.96,157.59 90.49,157.59 90.49,159.21 92.14,159.21 92.14,164.60 93.70,164.60 93.70,165.09 94.77,165.09 94.77,165.43 95.85,165.43 95.85,166.52 96.57,166.52 96.57,167.39 97.93,167.39 97.93,168.37 98.61,168.37 98.61,168.70 99.29,168.70 99.29,169.04 100.00,169.04 100.00,169.40 136.20,169.40 136.20,173.30 151.20,173.30 151.20,179.30 167.00,179.30" fill="none" stroke="#169EA2" stroke-width="0.7"/>
<line x1="95.00" y1="182.30" x2="95.00" y2="183.70" stroke="#E8675F" stroke-width="0.35"/>
<line x1="100.00" y1="182.30" x2="100.00" y2="183.70" stroke="#E8675F" stroke-width="0.35"/>
<line x1="105.00" y1="182.30" x2="105.00" y2="183.70" stroke="#E8675F" stroke-width="0.35"/>
<line x1="118.00" y1="182.30" x2="118.00" y2="183.70" stroke="#E8675F" stroke-width="0.35"/>
<line x1="120.00" y1="182.30" x2="120.00" y2="183.70" stroke="#E8675F" stroke-width="0.35"/>
<line x1="150.00" y1="192.50" x2="150.00" y2="193.90" stroke="#E8675F" stroke-width="0.35"/>
<line x1="104.00" y1="168.70" x2="104.00" y2="170.10" stroke="#13A8AC" stroke-width="0.35"/>
<line x1="106.00" y1="168.70" x2="106.00" y2="170.10" stroke="#13A8AC" stroke-width="0.35"/>
<line x1="108.00" y1="168.70" x2="108.00" y2="170.10" stroke="#13A8AC" stroke-width="0.35"/>
<line x1="110.00" y1="168.70" x2="110.00" y2="170.10" stroke="#13A8AC" stroke-width="0.35"/>
<line x1="140.00" y1="172.60" x2="140.00" y2="174.00" stroke="#13A8AC" stroke-width="0.35"/>
<line x1="146.00" y1="172.60" x2="146.00" y2="174.00" stroke="#13A8AC" stroke-width="0.35"/>
<line x1="158.00" y1="178.60" x2="158.00" y2="180.00" stroke="#13A8AC" stroke-width="0.35"/>
<line x1="160.00" y1="178.60" x2="160.00" y2="180.00" stroke="#13A8AC" stroke-width="0.35"/>
<line x1="15.80" y1="137.00" x2="15.80" y2="207.00" stroke="#555" stroke-width="0.45"/>
<line x1="15.80" y1="207.00" x2="167.50" y2="207.00" stroke="#555" stroke-width="0.45"/>
<line x1="14.60" y1="140.50" x2="15.80" y2="140.50" stroke="#555" stroke-width="0.4"/>
<text x="13.80" y="141.50" font-size="2.8" text-anchor="end" fill="#333">1.00</text>
<line x1="14.60" y1="156.12" x2="15.80" y2="156.12" stroke="#555" stroke-width="0.4"/>
<text x="13.80" y="157.12" font-size="2.8" text-anchor="end" fill="#333">0.75</text>
<line x1="14.60" y1="171.74" x2="15.80" y2="171.74" stroke="#555" stroke-width="0.4"/>
<text x="13.80" y="172.74" font-size="2.8" text-anchor="end" fill="#333">0.50</text>
<line x1="14.60" y1="187.36" x2="15.80" y2="187.36" stroke="#555" stroke-width="0.4"/>
<text x="13.80" y="188.36" font-size="2.8" text-anchor="end" fill="#333">0.25</text>
<line x1="14.60" y1="202.98" x2="15.80" y2="202.98" stroke="#555" stroke-width="0.4"/>
<text x="13.80" y="203.98" font-size="2.8" text-anchor="end" fill="#333">0.00</text>
<line x1="23.00" y1="207.00" x2="23.00" y2="208.20" stroke="#555" stroke-width="0.4"/>
<text x="23.00" y="211.20" font-size="2.8" text-anchor="middle" fill="#333">0</text>
<line x1="57.12" y1="207.00" x2="57.12" y2="208.20" stroke="#555" stroke-width="0.4"/>
<text x="57.12" y="211.20" font-size="2.8" text-anchor="middle" fill="#333">2000</text>
<line x1="91.24" y1="207.00" x2="91.24" y2="208.20" stroke="#555" stroke-width="0.4"/>
<text x="91.24" y="211.20" font-size="2.8" text-anchor="middle" fill="#333">4000</text>
<line x1="125.36" y1="207.00" x2="125.36" y2="208.20" stroke="#555" stroke-width="0.4"/>
<text x="125.36" y="211.20" font-size="2.8" text-anchor="middle" fill="#333">6000</text>
<line x1="159.48" y1="207.00" x2="159.48" y2="208.20" stroke="#555" stroke-width="0.4"/>
<text x="159.48" y="211.20" font-size="2.8" text-anchor="middle" fill="#333">8000</text>
<text x="91.30" y="215.00" font-size="3.5" text-anchor="middle" fill="#222">Time in Days</text>
<text x="4.90" y="172.30" font-size="3.8" text-anchor="middle" fill="#222" transform="rotate(-90 4.9 172.3)">Survival probability</text>
<text x="25.20" y="186.90" font-size="3.9" text-anchor="start" fill="#111">Log-rank</text>
<text x="25.20" y="192.50" font-size="3.9" text-anchor="start" fill="#111">p &lt; 0.0001</text>
<text x="72.00" y="130.80" font-size="2.9" text-anchor="start" fill="#222" textLength="12.9" lengthAdjust="spacingAndGlyphs">RiskScore</text>
<rect x="86.30" y="127.70" width="3.70" height="3.80" fill="#F8766D" stroke="none" stroke-width="0.5" fill-opacity="0.32"/>
<line x1="86.30" y1="129.60" x2="90.00" y2="129.60" stroke="#E8675F" stroke-width="0.5"/>
<text x="91.80" y="130.80" font-size="2.9" text-anchor="start" fill="#222">High</text>
<rect x="99.10" y="127.70" width="3.80" height="3.80" fill="#00BFC4" stroke="none" stroke-width="0.5" fill-opacity="0.32"/>
<line x1="99.10" y1="129.60" x2="102.90" y2="129.60" stroke="#13A8AC" stroke-width="0.5"/>
<text x="104.70" y="130.80" font-size="2.9" text-anchor="start" fill="#222">Low</text>
<text x="16.10" y="223.20" font-size="4.2" text-anchor="start" fill="#111">Number at risk</text>
<line x1="15.60" y1="226.50" x2="15.60" y2="237.00" stroke="#555" stroke-width="0.45"/>
<line x1="15.60" y1="237.00" x2="167.50" y2="237.00" stroke="#555" stroke-width="0.45"/>
<text x="13.30" y="229.80" font-size="2.7" text-anchor="end" fill="#E8675F">High</text>
<text x="13.30" y="234.80" font-size="2.7" text-anchor="end" fill="#13A8AC">Low</text>
<text x="23.00" y="229.80" font-size="2.8" text-anchor="middle" fill="#222">541</text>
<text x="23.00" y="234.80" font-size="2.8" text-anchor="middle" fill="#222">541</text>
<line x1="23.00" y1="237.00" x2="23.00" y2="238.20" stroke="#555" stroke-width="0.4"/>
<text x="23.00" y="242.10" font-size="2.8" text-anchor="middle" fill="#333">0</text>
<text x="57.12" y="229.80" font-size="2.8" text-anchor="middle" fill="#222">96</text>
<text x="57.12" y="234.80" font-size="2.8" text-anchor="middle" fill="#222">156</text>
<line x1="57.12" y1="237.00" x2="57.12" y2="238.20" stroke="#555" stroke-width="0.4"/>
<text x="57.12" y="242.10" font-size="2.8" text-anchor="middle" fill="#333">2000</text>
<text x="91.24" y="229.80" font-size="2.8" text-anchor="middle" fill="#222">7</text>
<text x="91.24" y="234.80" font-size="2.8" text-anchor="middle" fill="#222">23</text>
<line x1="91.24" y1="237.00" x2="91.24" y2="238.20" stroke="#555" stroke-width="0.4"/>
<text x="91.24" y="242.10" font-size="2.8" text-anchor="middle" fill="#333">4000</text>
<text x="125.36" y="229.80" font-size="2.8" text-anchor="middle" fill="#222">3</text>
<text x="125.36" y="234.80" font-size="2.8" text-anchor="middle" fill="#222">6</text>
<line x1="125.36" y1="237.00" x2="125.36" y2="238.20" stroke="#555" stroke-width="0.4"/>
<text x="125.36" y="242.10" font-size="2.8" text-anchor="middle" fill="#333">6000</text>
<text x="159.48" y="229.80" font-size="2.8" text-anchor="middle" fill="#222">1</text>
<text x="159.48" y="234.80" font-size="2.8" text-anchor="middle" fill="#222">3</text>
<line x1="159.48" y1="237.00" x2="159.48" y2="238.20" stroke="#555" stroke-width="0.4"/>
<text x="159.48" y="242.10" font-size="2.8" text-anchor="middle" fill="#333">8000</text>
<text x="91.30" y="246.80" font-size="3.5" text-anchor="middle" fill="#222">Time in Days</text>
<text x="5.90" y="233.00" font-size="3.7" text-anchor="middle" fill="#111" transform="rotate(-90 5.9 233.0)">RiskScore</text>
<rect x="199.25" y="123.40" width="126.50" height="118.10" fill="none" stroke="#888" stroke-width="0.5"/>
<line x1="203.75" y1="236.75" x2="321.25" y2="127.00" stroke="#c8c8c8" stroke-width="0.5"/>
<line x1="197.90" y1="236.75" x2="199.25" y2="236.75" stroke="#999" stroke-width="0.4"/>
<text x="195.50" y="236.75" font-size="2.6" text-anchor="middle" fill="#555" transform="rotate(-90 195.5 236.75)">0</text>
<line x1="197.90" y1="214.80" x2="199.25" y2="214.80" stroke="#999" stroke-width="0.4"/>
<text x="195.50" y="214.80" font-size="2.6" text-anchor="middle" fill="#555" transform="rotate(-90 195.5 214.8)">0.2</text>
<line x1="197.90" y1="192.85" x2="199.25" y2="192.85" stroke="#999" stroke-width="0.4"/>
<text x="195.50" y="192.85" font-size="2.6" text-anchor="middle" fill="#555" transform="rotate(-90 195.5 192.85)">0.4</text>
<line x1="197.90" y1="170.90" x2="199.25" y2="170.90" stroke="#999" stroke-width="0.4"/>
<text x="195.50" y="170.90" font-size="2.6" text-anchor="middle" fill="#555" transform="rotate(-90 195.5 170.89999999999998)">0.6</text>
<line x1="197.90" y1="148.95" x2="199.25" y2="148.95" stroke="#999" stroke-width="0.4"/>
<text x="195.50" y="148.95" font-size="2.6" text-anchor="middle" fill="#555" transform="rotate(-90 195.5 148.95)">0.8</text>
<line x1="197.90" y1="127.00" x2="199.25" y2="127.00" stroke="#999" stroke-width="0.4"/>
<text x="195.50" y="127.00" font-size="2.6" text-anchor="middle" fill="#555" transform="rotate(-90 195.5 127.0)">1</text>
<line x1="203.75" y1="241.50" x2="203.75" y2="242.80" stroke="#999" stroke-width="0.4"/>
<text x="203.75" y="246.90" font-size="2.6" text-anchor="middle" fill="#555">0.0</text>
<line x1="227.25" y1="241.50" x2="227.25" y2="242.80" stroke="#999" stroke-width="0.4"/>
<text x="227.25" y="246.90" font-size="2.6" text-anchor="middle" fill="#555">0.2</text>
<line x1="250.75" y1="241.50" x2="250.75" y2="242.80" stroke="#999" stroke-width="0.4"/>
<text x="250.75" y="246.90" font-size="2.6" text-anchor="middle" fill="#555">0.4</text>
<line x1="274.25" y1="241.50" x2="274.25" y2="242.80" stroke="#999" stroke-width="0.4"/>
<text x="274.25" y="246.90" font-size="2.6" text-anchor="middle" fill="#555">0.6</text>
<line x1="297.75" y1="241.50" x2="297.75" y2="242.80" stroke="#999" stroke-width="0.4"/>
<text x="297.75" y="246.90" font-size="2.6" text-anchor="middle" fill="#555">0.8</text>
<line x1="321.25" y1="241.50" x2="321.25" y2="242.80" stroke="#999" stroke-width="0.4"/>
<text x="321.25" y="246.90" font-size="2.6" text-anchor="middle" fill="#555">1.0</text>
<text x="262.50" y="251.60" font-size="2.6" text-anchor="middle" fill="#555">1-Specificity</text>
<text x="190.60" y="182.50" font-size="2.6" text-anchor="middle" fill="#555" transform="rotate(-90 190.6 182.5)">Sensitivity</text>
<polyline points="203.75,236.75 204.06,236.75 204.06,233.38 204.38,233.38 204.69,233.38 204.69,230.00 205.00,230.00 205.42,230.00 205.42,227.33 205.83,227.33 206.25,227.33 206.25,224.67 206.67,224.67 207.08,224.67 207.08,222.00 207.50,222.00 208.75,222.00 208.75,219.50 210.00,219.50 211.50,219.50 211.50,218.00 213.00,218.00 213.75,218.00 213.75,215.50 214.50,215.50 215.25,215.50 215.25,213.00 216.00,213.00 216.75,213.00 216.75,210.25 217.50,210.25 218.25,210.25 218.25,207.50 219.00,207.50 220.50,207.50 220.50,203.00 222.00,203.00 222.75,203.00 222.75,200.00 223.50,200.00 224.25,200.00 224.25,197.00 225.00,197.00 225.75,197.00 225.75,194.00 226.50,194.00 227.25,194.00 227.25,191.00 228.00,191.00 229.75,191.00 229.75,187.00 231.50,187.00 232.95,187.00 232.95,184.00 234.40,184.00 235.05,184.00 235.05,181.00 235.70,181.00 236.35,181.00 236.35,178.00 237.00,178.00 237.75,178.00 237.75,175.00 238.50,175.00 239.25,175.00 239.25,172.00 240.00,172.00 240.75,172.00 240.75,168.50 241.50,168.50 242.25,168.50 242.25,165.00 243.00,165.00 244.15,165.00 244.15,160.30 245.30,160.30 262.00,160.30 262.00,155.20 269.10,155.20 269.10,148.80 278.80,148.80 278.80,143.50 294.70,143.50 294.70,138.40 308.00,138.40 308.00,134.50 312.40,134.50 312.40,128.60 318.00,128.60 319.62,128.60 319.62,127.00 321.25,127.00" fill="none" stroke="#F09898" stroke-width="0.42"/>
<polyline points="203.75,236.75 204.06,236.75 204.06,233.38 204.38,233.38 204.69,233.38 204.69,230.00 205.00,230.00 205.50,230.00 205.50,227.00 206.00,227.00 206.50,227.00 206.50,224.00 207.00,224.00 208.12,224.00 208.12,220.50 209.25,220.50 211.62,220.50 211.62,219.60 214.00,219.60 214.69,219.60 214.69,216.75 215.38,216.75 216.06,216.75 216.06,213.90 216.75,213.90 217.46,213.90 217.46,210.65 218.18,210.65 218.89,210.65 218.89,207.40 219.60,207.40 220.76,207.40 220.76,204.10 221.93,204.10 223.09,204.10 223.09,200.80 224.25,200.80 225.19,200.80 225.19,197.53 226.12,197.53 227.06,197.53 227.06,194.25 228.00,194.25 230.35,194.25 230.35,189.60 232.70,189.60 233.12,189.60 233.12,186.85 233.55,186.85 233.98,186.85 233.98,184.10 234.40,184.10 234.98,184.10 234.98,181.47 235.57,181.47 236.15,181.47 236.15,178.83 236.73,178.83 237.32,178.83 237.32,176.20 237.90,176.20 240.00,176.20 240.00,171.75 242.10,171.75 243.55,171.75 243.55,167.40 245.00,167.40 246.32,167.40 246.32,164.70 247.65,164.70 248.98,164.70 248.98,162.00 250.30,162.00 251.62,162.00 251.62,159.40 252.95,159.40 254.27,159.40 254.27,156.80 255.60,156.80 256.48,156.80 256.48,153.65 257.35,153.65 258.23,153.65 258.23,150.50 259.10,150.50 260.85,150.50 260.85,146.60 262.60,146.60 263.95,146.60 263.95,145.60 265.30,145.60 266.65,145.60 266.65,144.60 268.00,144.60 269.75,144.60 269.75,143.45 271.50,143.45 273.25,143.45 273.25,142.30 275.00,142.30 276.50,142.30 276.50,139.00 278.00,139.00 279.50,139.00 279.50,138.43 281.00,138.43 282.50,138.43 282.50,137.87 284.00,137.87 285.50,137.87 285.50,137.30 287.00,137.30 288.25,137.30 288.25,136.40 289.50,136.40 290.75,136.40 290.75,135.50 292.00,135.50 293.33,135.50 293.33,134.67 294.67,134.67 296.00,134.67 296.00,133.83 297.33,133.83 298.67,133.83 298.67,133.00 300.00,133.00 301.43,133.00 301.43,131.30 302.85,131.30 304.27,131.30 304.27,129.60 305.70,129.60 307.38,129.60 307.38,129.10 309.05,129.10 310.72,129.10 310.72,128.60 312.40,128.60 313.88,128.60 313.88,128.07 315.35,128.07 316.82,128.07 316.82,127.53 318.30,127.53 319.77,127.53 319.77,127.00 321.25,127.00" fill="none" stroke="#B8D098" stroke-width="0.42"/>
<polyline points="203.75,236.75 204.18,236.75 204.18,233.60 204.60,233.60 204.82,233.60 204.82,230.80 205.05,230.80 205.28,230.80 205.28,228.00 205.50,228.00 205.72,228.00 205.72,225.20 205.95,225.20 206.18,225.20 206.18,222.40 206.40,222.40 207.35,222.40 207.35,220.50 208.30,220.50 209.70,220.50 209.70,218.60 211.10,218.60 211.57,218.60 211.57,215.80 212.05,215.80 212.53,215.80 212.53,213.00 213.00,213.00 213.94,213.00 213.94,210.20 214.88,210.20 215.81,210.20 215.81,207.40 216.75,207.40 217.69,207.40 217.69,204.10 218.62,204.10 219.56,204.10 219.56,200.80 220.50,200.80 221.45,200.80 221.45,196.10 222.40,196.10 223.10,196.10 223.10,193.30 223.80,193.30 224.50,193.30 224.50,190.50 225.20,190.50 226.12,190.50 226.12,187.20 227.05,187.20 227.98,187.20 227.98,183.90 228.90,183.90 229.53,183.90 229.53,181.07 230.17,181.07 230.80,181.07 230.80,178.23 231.43,178.23 232.07,178.23 232.07,175.40 232.70,175.40 234.10,175.40 234.10,170.80 235.50,170.80 236.10,170.80 236.10,167.30 236.70,167.30 237.30,167.30 237.30,163.80 237.90,163.80 239.70,163.80 239.70,160.30 241.50,160.30 242.72,160.30 242.72,158.83 243.93,158.83 245.15,158.83 245.15,157.37 246.37,157.37 247.58,157.37 247.58,155.90 248.80,155.90 250.10,155.90 250.10,154.20 251.40,154.20 252.70,154.20 252.70,152.50 254.00,152.50 255.80,152.50 255.80,149.70 257.60,149.70 258.50,149.70 258.50,146.20 259.40,146.20 260.72,146.20 260.72,144.40 262.05,144.40 263.38,144.40 263.38,142.60 264.70,142.60 266.17,142.60 266.17,142.33 267.63,142.33 269.10,142.33 269.10,142.07 270.57,142.07 272.03,142.07 272.03,141.80 273.50,141.80 275.25,141.80 275.25,138.20 277.00,138.20 278.48,138.20 278.48,137.63 279.97,137.63 281.45,137.63 281.45,137.07 282.93,137.07 284.42,137.07 284.42,136.50 285.90,136.50 287.22,136.50 287.22,135.60 288.55,135.60 289.88,135.60 289.88,134.70 291.20,134.70 292.67,134.70 292.67,133.80 294.13,133.80 295.60,133.80 295.60,132.90 297.07,132.90 298.53,132.90 298.53,132.00 300.00,132.00 301.43,132.00 301.43,130.40 302.85,130.40 304.27,130.40 304.27,128.80 305.70,128.80 307.38,128.80 307.38,128.35 309.05,128.35 310.72,128.35 310.72,127.90 312.40,127.90 313.88,127.90 313.88,127.60 315.35,127.60 316.82,127.60 316.82,127.30 318.30,127.30 319.77,127.30 319.77,127.00 321.25,127.00" fill="none" stroke="#A0A4E0" stroke-width="0.42"/>
<rect x="290.00" y="216.30" width="35.75" height="25.20" fill="#fff" stroke="#999" stroke-width="0.45"/>
<line x1="292.00" y1="222.50" x2="296.30" y2="222.50" stroke="#F09898" stroke-width="0.6"/>
<text x="300.20" y="223.40" font-size="2.5" text-anchor="start" fill="#333" textLength="20.5" lengthAdjust="spacingAndGlyphs">1 Years AUC=0.686</text>
<line x1="292.00" y1="228.75" x2="296.30" y2="228.75" stroke="#A0A4E0" stroke-width="0.6"/>
<text x="300.20" y="229.65" font-size="2.5" text-anchor="start" fill="#333" textLength="20.5" lengthAdjust="spacingAndGlyphs">3 Years AUC=0.717</text>
<line x1="292.00" y1="235.00" x2="296.30" y2="235.00" stroke="#B8D098" stroke-width="0.6"/>
<text x="300.20" y="235.90" font-size="2.5" text-anchor="start" fill="#333" textLength="20.5" lengthAdjust="spacingAndGlyphs">5 Years AUC=0.690</text>
<rect x="108.20" y="279.80" width="1.17" height="8.01" fill="#604fa5" stroke="none" stroke-width="0.5"/>
<rect x="109.31" y="279.80" width="1.40" height="8.01" fill="#af8dba" stroke="none" stroke-width="0.5"/>
<rect x="110.65" y="279.80" width="1.03" height="8.01" fill="#d9bfd3" stroke="none" stroke-width="0.5"/>
<rect x="111.62" y="279.80" width="0.96" height="8.01" fill="#b59bc2" stroke="none" stroke-width="0.5"/>
<rect x="112.52" y="279.80" width="1.16" height="8.01" fill="#7d69b6" stroke="none" stroke-width="0.5"/>
<rect x="113.62" y="279.80" width="1.09" height="8.01" fill="#a08cc4" stroke="none" stroke-width="0.5"/>
<rect x="114.65" y="279.80" width="1.43" height="8.01" fill="#e7ced9" stroke="none" stroke-width="0.5"/>
<rect x="116.02" y="279.80" width="0.99" height="8.01" fill="#8976bb" stroke="none" stroke-width="0.5"/>
<rect x="116.96" y="279.80" width="2.10" height="8.01" fill="#af98ca" stroke="none" stroke-width="0.5"/>
<rect x="118.99" y="279.80" width="1.76" height="8.01" fill="#eedae1" stroke="none" stroke-width="0.5"/>
<rect x="120.69" y="279.80" width="1.15" height="8.01" fill="#eabfc4" stroke="none" stroke-width="0.5"/>
<rect x="121.78" y="279.80" width="1.29" height="8.01" fill="#a591c5" stroke="none" stroke-width="0.5"/>
<rect x="123.01" y="279.80" width="1.41" height="8.01" fill="#c7adce" stroke="none" stroke-width="0.5"/>
<rect x="124.36" y="279.80" width="1.43" height="8.01" fill="#5844a3" stroke="none" stroke-width="0.5"/>
<rect x="125.74" y="279.80" width="1.12" height="8.01" fill="#9e7eb6" stroke="none" stroke-width="0.5"/>
<rect x="126.80" y="279.80" width="2.06" height="8.01" fill="#e0cee0" stroke="none" stroke-width="0.5"/>
<rect x="128.80" y="279.80" width="2.25" height="8.01" fill="#eebebe" stroke="none" stroke-width="0.5"/>
<rect x="130.99" y="279.80" width="1.57" height="8.01" fill="#a380b2" stroke="none" stroke-width="0.5"/>
<rect x="132.50" y="279.80" width="1.59" height="8.01" fill="#ab90c1" stroke="none" stroke-width="0.5"/>
<rect x="134.03" y="279.80" width="1.07" height="8.01" fill="#c1a6ca" stroke="none" stroke-width="0.5"/>
<rect x="135.04" y="279.80" width="1.09" height="8.01" fill="#d7b2c4" stroke="none" stroke-width="0.5"/>
<rect x="136.07" y="279.80" width="1.41" height="8.01" fill="#e4a6a8" stroke="none" stroke-width="0.5"/>
<rect x="137.42" y="279.80" width="1.30" height="8.01" fill="#b693bb" stroke="none" stroke-width="0.5"/>
<rect x="138.66" y="279.80" width="2.04" height="8.01" fill="#c9aac9" stroke="none" stroke-width="0.5"/>
<rect x="140.64" y="279.80" width="1.17" height="8.01" fill="#dd949a" stroke="none" stroke-width="0.5"/>
<rect x="141.75" y="279.80" width="0.99" height="8.01" fill="#5f49a5" stroke="none" stroke-width="0.5"/>
<rect x="142.68" y="279.80" width="2.20" height="8.01" fill="#9a82ba" stroke="none" stroke-width="0.5"/>
<rect x="144.81" y="279.80" width="1.65" height="8.01" fill="#a490c9" stroke="none" stroke-width="0.5"/>
<rect x="146.40" y="279.80" width="1.15" height="8.01" fill="#8e76b0" stroke="none" stroke-width="0.5"/>
<rect x="147.49" y="279.80" width="1.67" height="8.01" fill="#c6abcc" stroke="none" stroke-width="0.5"/>
<rect x="149.10" y="279.80" width="1.00" height="8.01" fill="#e5847f" stroke="none" stroke-width="0.5"/>
<rect x="150.03" y="279.80" width="1.65" height="8.01" fill="#ad85b0" stroke="none" stroke-width="0.5"/>
<rect x="151.62" y="279.80" width="2.23" height="8.01" fill="#b8a8d1" stroke="none" stroke-width="0.5"/>
<rect x="153.79" y="279.80" width="2.08" height="8.01" fill="#ccb5d2" stroke="none" stroke-width="0.5"/>
<rect x="155.81" y="279.80" width="1.87" height="8.01" fill="#fac8c0" stroke="none" stroke-width="0.5"/>
<rect x="157.62" y="279.80" width="1.30" height="8.01" fill="#ac8dbc" stroke="none" stroke-width="0.5"/>
<rect x="158.86" y="279.80" width="1.44" height="8.01" fill="#cc94a6" stroke="none" stroke-width="0.5"/>
<rect x="160.23" y="279.80" width="1.18" height="8.01" fill="#c4a3c0" stroke="none" stroke-width="0.5"/>
<rect x="161.35" y="279.80" width="1.96" height="8.01" fill="#d194a3" stroke="none" stroke-width="0.5"/>
<rect x="163.26" y="279.80" width="1.65" height="8.01" fill="#f0bdbc" stroke="none" stroke-width="0.5"/>
<rect x="164.85" y="279.80" width="1.97" height="8.01" fill="#f2bdb9" stroke="none" stroke-width="0.5"/>
<rect x="166.76" y="279.80" width="1.39" height="8.01" fill="#d8959f" stroke="none" stroke-width="0.5"/>
<rect x="168.09" y="279.80" width="1.25" height="8.01" fill="#e6aeb2" stroke="none" stroke-width="0.5"/>
<rect x="169.28" y="279.80" width="2.01" height="8.01" fill="#e5a9ac" stroke="none" stroke-width="0.5"/>
<rect x="171.23" y="279.80" width="2.24" height="8.01" fill="#eaa9a8" stroke="none" stroke-width="0.5"/>
<rect x="173.41" y="279.80" width="2.07" height="8.01" fill="#f1afa9" stroke="none" stroke-width="0.5"/>
<rect x="175.42" y="279.80" width="2.01" height="8.01" fill="#de7f7f" stroke="none" stroke-width="0.5"/>
<rect x="177.37" y="279.80" width="2.02" height="8.01" fill="#e7b6bb" stroke="none" stroke-width="0.5"/>
<rect x="179.33" y="279.80" width="1.92" height="8.01" fill="#d798a2" stroke="none" stroke-width="0.5"/>
<rect x="181.20" y="279.80" width="1.25" height="8.01" fill="#e29697" stroke="none" stroke-width="0.5"/>
<rect x="182.39" y="279.80" width="1.63" height="8.01" fill="#e9867f" stroke="none" stroke-width="0.5"/>
<rect x="183.96" y="279.80" width="1.42" height="8.01" fill="#c8acca" stroke="none" stroke-width="0.5"/>
<rect x="185.33" y="279.80" width="1.00" height="8.01" fill="#d47f85" stroke="none" stroke-width="0.5"/>
<rect x="186.26" y="279.80" width="1.00" height="8.01" fill="#d59fae" stroke="none" stroke-width="0.5"/>
<rect x="187.20" y="279.80" width="1.32" height="8.01" fill="#e7c5ce" stroke="none" stroke-width="0.5"/>
<rect x="188.46" y="279.80" width="1.30" height="8.01" fill="#e4bdc7" stroke="none" stroke-width="0.5"/>
<rect x="189.70" y="279.80" width="1.86" height="8.01" fill="#de7f80" stroke="none" stroke-width="0.5"/>
<rect x="191.50" y="279.80" width="2.20" height="8.01" fill="#f1a9a0" stroke="none" stroke-width="0.5"/>
<rect x="193.64" y="279.80" width="1.54" height="8.01" fill="#ca8698" stroke="none" stroke-width="0.5"/>
<rect x="195.13" y="279.80" width="2.18" height="8.01" fill="#d48c98" stroke="none" stroke-width="0.5"/>
<rect x="197.24" y="279.80" width="2.24" height="8.01" fill="#e0a9ae" stroke="none" stroke-width="0.5"/>
<rect x="199.43" y="279.80" width="2.20" height="8.01" fill="#edb5b4" stroke="none" stroke-width="0.5"/>
<rect x="201.57" y="279.80" width="1.43" height="8.01" fill="#d7bfd6" stroke="none" stroke-width="0.5"/>
<rect x="202.94" y="279.80" width="1.25" height="8.01" fill="#e8a4a2" stroke="none" stroke-width="0.5"/>
<rect x="204.13" y="279.80" width="1.25" height="8.01" fill="#e9bdc1" stroke="none" stroke-width="0.5"/>
<rect x="205.33" y="279.80" width="1.22" height="8.01" fill="#edd8e0" stroke="none" stroke-width="0.5"/>
<rect x="206.48" y="279.80" width="1.23" height="8.01" fill="#e2a9ad" stroke="none" stroke-width="0.5"/>
<rect x="207.65" y="279.80" width="1.77" height="8.01" fill="#d48590" stroke="none" stroke-width="0.5"/>
<rect x="209.36" y="279.80" width="2.13" height="8.01" fill="#e8a6a4" stroke="none" stroke-width="0.5"/>
<rect x="211.43" y="279.80" width="1.93" height="8.01" fill="#db979f" stroke="none" stroke-width="0.5"/>
<text x="214.70" y="284.68" font-size="2.5" text-anchor="start" fill="#555">SPLP2</text>
<rect x="108.20" y="287.75" width="1.17" height="8.01" fill="#8f76bb" stroke="none" stroke-width="0.5"/>
<rect x="109.31" y="287.75" width="1.40" height="8.01" fill="#e3c1cd" stroke="none" stroke-width="0.5"/>
<rect x="110.65" y="287.75" width="1.03" height="8.01" fill="#e2b7c0" stroke="none" stroke-width="0.5"/>
<rect x="111.62" y="287.75" width="0.96" height="8.01" fill="#d6a5b3" stroke="none" stroke-width="0.5"/>
<rect x="112.52" y="287.75" width="1.16" height="8.01" fill="#cda5be" stroke="none" stroke-width="0.5"/>
<rect x="113.62" y="287.75" width="1.09" height="8.01" fill="#ccb1ce" stroke="none" stroke-width="0.5"/>
<rect x="114.65" y="287.75" width="1.43" height="8.01" fill="#e0c3d2" stroke="none" stroke-width="0.5"/>
<rect x="116.02" y="287.75" width="0.99" height="8.01" fill="#8a70b1" stroke="none" stroke-width="0.5"/>
<rect x="116.96" y="287.75" width="2.10" height="8.01" fill="#ca95ad" stroke="none" stroke-width="0.5"/>
<rect x="118.99" y="287.75" width="1.76" height="8.01" fill="#e7c5ce" stroke="none" stroke-width="0.5"/>
<rect x="120.69" y="287.75" width="1.15" height="8.01" fill="#e8c9d2" stroke="none" stroke-width="0.5"/>
<rect x="121.78" y="287.75" width="1.29" height="8.01" fill="#c7b3d5" stroke="none" stroke-width="0.5"/>
<rect x="123.01" y="287.75" width="1.41" height="8.01" fill="#d7bfd5" stroke="none" stroke-width="0.5"/>
<rect x="124.36" y="287.75" width="1.43" height="8.01" fill="#6555ab" stroke="none" stroke-width="0.5"/>
<rect x="125.74" y="287.75" width="1.12" height="8.01" fill="#b2a6d4" stroke="none" stroke-width="0.5"/>
<rect x="126.80" y="287.75" width="2.06" height="8.01" fill="#d4b2c8" stroke="none" stroke-width="0.5"/>
<rect x="128.80" y="287.75" width="2.25" height="8.01" fill="#e3acb2" stroke="none" stroke-width="0.5"/>
<rect x="130.99" y="287.75" width="1.57" height="8.01" fill="#b095c1" stroke="none" stroke-width="0.5"/>
<rect x="132.50" y="287.75" width="1.59" height="8.01" fill="#ce9cac" stroke="none" stroke-width="0.5"/>
<rect x="134.03" y="287.75" width="1.07" height="8.01" fill="#cd9fb6" stroke="none" stroke-width="0.5"/>
<rect x="135.04" y="287.75" width="1.09" height="8.01" fill="#e5c3cd" stroke="none" stroke-width="0.5"/>
<rect x="136.07" y="287.75" width="1.41" height="8.01" fill="#f6b8ae" stroke="none" stroke-width="0.5"/>
<rect x="137.42" y="287.75" width="1.30" height="8.01" fill="#c2abd0" stroke="none" stroke-width="0.5"/>
<rect x="138.66" y="287.75" width="2.04" height="8.01" fill="#d9bdcf" stroke="none" stroke-width="0.5"/>
<rect x="140.64" y="287.75" width="1.17" height="8.01" fill="#e5abae" stroke="none" stroke-width="0.5"/>
<rect x="141.75" y="287.75" width="0.99" height="8.01" fill="#745ba8" stroke="none" stroke-width="0.5"/>
<rect x="142.68" y="287.75" width="2.20" height="8.01" fill="#c4a2c2" stroke="none" stroke-width="0.5"/>
<rect x="144.81" y="287.75" width="1.65" height="8.01" fill="#d4bed6" stroke="none" stroke-width="0.5"/>
<rect x="146.40" y="287.75" width="1.15" height="8.01" fill="#cab2d1" stroke="none" stroke-width="0.5"/>
<rect x="147.49" y="287.75" width="1.67" height="8.01" fill="#b6a2cd" stroke="none" stroke-width="0.5"/>
<rect x="149.10" y="287.75" width="1.00" height="8.01" fill="#e57b73" stroke="none" stroke-width="0.5"/>
<rect x="150.03" y="287.75" width="1.65" height="8.01" fill="#c9b2d2" stroke="none" stroke-width="0.5"/>
<rect x="151.62" y="287.75" width="2.23" height="8.01" fill="#9c8dc6" stroke="none" stroke-width="0.5"/>
<rect x="153.79" y="287.75" width="2.08" height="8.01" fill="#d9c4da" stroke="none" stroke-width="0.5"/>
<rect x="155.81" y="287.75" width="1.87" height="8.01" fill="#dd9ca2" stroke="none" stroke-width="0.5"/>
<rect x="157.62" y="287.75" width="1.30" height="8.01" fill="#d1bed8" stroke="none" stroke-width="0.5"/>
<rect x="158.86" y="287.75" width="1.44" height="8.01" fill="#c7b2d3" stroke="none" stroke-width="0.5"/>
<rect x="160.23" y="287.75" width="1.18" height="8.01" fill="#c5a0bd" stroke="none" stroke-width="0.5"/>
<rect x="161.35" y="287.75" width="1.96" height="8.01" fill="#dec0d0" stroke="none" stroke-width="0.5"/>
<rect x="163.26" y="287.75" width="1.65" height="8.01" fill="#deabb6" stroke="none" stroke-width="0.5"/>
<rect x="164.85" y="287.75" width="1.97" height="8.01" fill="#debecc" stroke="none" stroke-width="0.5"/>
<rect x="166.76" y="287.75" width="1.39" height="8.01" fill="#e7cad4" stroke="none" stroke-width="0.5"/>
<rect x="168.09" y="287.75" width="1.25" height="8.01" fill="#ecced5" stroke="none" stroke-width="0.5"/>
<rect x="169.28" y="287.75" width="2.01" height="8.01" fill="#dec1d0" stroke="none" stroke-width="0.5"/>
<rect x="171.23" y="287.75" width="2.24" height="8.01" fill="#d9b9cd" stroke="none" stroke-width="0.5"/>
<rect x="173.41" y="287.75" width="2.07" height="8.01" fill="#d9a1ad" stroke="none" stroke-width="0.5"/>
<rect x="175.42" y="287.75" width="2.01" height="8.01" fill="#f2aaa1" stroke="none" stroke-width="0.5"/>
<rect x="177.37" y="287.75" width="2.02" height="8.01" fill="#d5a5b7" stroke="none" stroke-width="0.5"/>
<rect x="179.33" y="287.75" width="1.92" height="8.01" fill="#d4bad0" stroke="none" stroke-width="0.5"/>
<rect x="181.20" y="287.75" width="1.25" height="8.01" fill="#ec9f9a" stroke="none" stroke-width="0.5"/>
<rect x="182.39" y="287.75" width="1.63" height="8.01" fill="#e7bbc2" stroke="none" stroke-width="0.5"/>
<rect x="183.96" y="287.75" width="1.42" height="8.01" fill="#eaafaf" stroke="none" stroke-width="0.5"/>
<rect x="185.33" y="287.75" width="1.00" height="8.01" fill="#ebb4b5" stroke="none" stroke-width="0.5"/>
<rect x="186.26" y="287.75" width="1.00" height="8.01" fill="#cfa2b6" stroke="none" stroke-width="0.5"/>
<rect x="187.20" y="287.75" width="1.32" height="8.01" fill="#d4afc1" stroke="none" stroke-width="0.5"/>
<rect x="188.46" y="287.75" width="1.30" height="8.01" fill="#d6bed6" stroke="none" stroke-width="0.5"/>
<rect x="189.70" y="287.75" width="1.86" height="8.01" fill="#eb9d98" stroke="none" stroke-width="0.5"/>
<rect x="191.50" y="287.75" width="2.20" height="8.01" fill="#e4c7d3" stroke="none" stroke-width="0.5"/>
<rect x="193.64" y="287.75" width="1.54" height="8.01" fill="#ca99b3" stroke="none" stroke-width="0.5"/>
<rect x="195.13" y="287.75" width="2.18" height="8.01" fill="#d798a4" stroke="none" stroke-width="0.5"/>
<rect x="197.24" y="287.75" width="2.24" height="8.01" fill="#e1a8ae" stroke="none" stroke-width="0.5"/>
<rect x="199.43" y="287.75" width="2.20" height="8.01" fill="#ddb0bb" stroke="none" stroke-width="0.5"/>
<rect x="201.57" y="287.75" width="1.43" height="8.01" fill="#c99fbb" stroke="none" stroke-width="0.5"/>
<rect x="202.94" y="287.75" width="1.25" height="8.01" fill="#fac6bc" stroke="none" stroke-width="0.5"/>
<rect x="204.13" y="287.75" width="1.25" height="8.01" fill="#e7b5b8" stroke="none" stroke-width="0.5"/>
<rect x="205.33" y="287.75" width="1.22" height="8.01" fill="#e6b5ba" stroke="none" stroke-width="0.5"/>
<rect x="206.48" y="287.75" width="1.23" height="8.01" fill="#d5b5cb" stroke="none" stroke-width="0.5"/>
<rect x="207.65" y="287.75" width="1.77" height="8.01" fill="#dfcbde" stroke="none" stroke-width="0.5"/>
<rect x="209.36" y="287.75" width="2.13" height="8.01" fill="#dda4ac" stroke="none" stroke-width="0.5"/>
<rect x="211.43" y="287.75" width="1.93" height="8.01" fill="#c5a1bf" stroke="none" stroke-width="0.5"/>
<text x="214.70" y="292.62" font-size="2.5" text-anchor="start" fill="#555">RELB</text>
<rect x="108.20" y="295.70" width="1.17" height="8.01" fill="#7b6ab3" stroke="none" stroke-width="0.5"/>
<rect x="109.31" y="295.70" width="1.40" height="8.01" fill="#c69cb8" stroke="none" stroke-width="0.5"/>
<rect x="110.65" y="295.70" width="1.03" height="8.01" fill="#c9afca" stroke="none" stroke-width="0.5"/>
<rect x="111.62" y="295.70" width="0.96" height="8.01" fill="#a89acc" stroke="none" stroke-width="0.5"/>
<rect x="112.52" y="295.70" width="1.16" height="8.01" fill="#9a7fba" stroke="none" stroke-width="0.5"/>
<rect x="113.62" y="295.70" width="1.09" height="8.01" fill="#6a4a9b" stroke="none" stroke-width="0.5"/>
<rect x="114.65" y="295.70" width="1.43" height="8.01" fill="#d3a8bc" stroke="none" stroke-width="0.5"/>
<rect x="116.02" y="295.70" width="0.99" height="8.01" fill="#9685c0" stroke="none" stroke-width="0.5"/>
<rect x="116.96" y="295.70" width="2.10" height="8.01" fill="#d4b5cb" stroke="none" stroke-width="0.5"/>
<rect x="118.99" y="295.70" width="1.76" height="8.01" fill="#caafcd" stroke="none" stroke-width="0.5"/>
<rect x="120.69" y="295.70" width="1.15" height="8.01" fill="#e4a7a9" stroke="none" stroke-width="0.5"/>
<rect x="121.78" y="295.70" width="1.29" height="8.01" fill="#bc9ec1" stroke="none" stroke-width="0.5"/>
<rect x="123.01" y="295.70" width="1.41" height="8.01" fill="#eec6c8" stroke="none" stroke-width="0.5"/>
<rect x="124.36" y="295.70" width="1.43" height="8.01" fill="#a590c8" stroke="none" stroke-width="0.5"/>
<rect x="125.74" y="295.70" width="1.12" height="8.01" fill="#9578b7" stroke="none" stroke-width="0.5"/>
<rect x="126.80" y="295.70" width="2.06" height="8.01" fill="#e5b7bd" stroke="none" stroke-width="0.5"/>
<rect x="128.80" y="295.70" width="2.25" height="8.01" fill="#f2c3c2" stroke="none" stroke-width="0.5"/>
<rect x="130.99" y="295.70" width="1.57" height="8.01" fill="#d2bdd8" stroke="none" stroke-width="0.5"/>
<rect x="132.50" y="295.70" width="1.59" height="8.01" fill="#dda4ae" stroke="none" stroke-width="0.5"/>
<rect x="134.03" y="295.70" width="1.07" height="8.01" fill="#d19dae" stroke="none" stroke-width="0.5"/>
<rect x="135.04" y="295.70" width="1.09" height="8.01" fill="#eba9a6" stroke="none" stroke-width="0.5"/>
<rect x="136.07" y="295.70" width="1.41" height="8.01" fill="#e7aeb0" stroke="none" stroke-width="0.5"/>
<rect x="137.42" y="295.70" width="1.30" height="8.01" fill="#d195a4" stroke="none" stroke-width="0.5"/>
<rect x="138.66" y="295.70" width="2.04" height="8.01" fill="#c3b8db" stroke="none" stroke-width="0.5"/>
<rect x="140.64" y="295.70" width="1.17" height="8.01" fill="#e4cfdd" stroke="none" stroke-width="0.5"/>
<rect x="141.75" y="295.70" width="0.99" height="8.01" fill="#55419a" stroke="none" stroke-width="0.5"/>
<rect x="142.68" y="295.70" width="2.20" height="8.01" fill="#e5d5e5" stroke="none" stroke-width="0.5"/>
<rect x="144.81" y="295.70" width="1.65" height="8.01" fill="#a68cbe" stroke="none" stroke-width="0.5"/>
<rect x="146.40" y="295.70" width="1.15" height="8.01" fill="#cbb7d4" stroke="none" stroke-width="0.5"/>
<rect x="147.49" y="295.70" width="1.67" height="8.01" fill="#c297b5" stroke="none" stroke-width="0.5"/>
<rect x="149.10" y="295.70" width="1.00" height="8.01" fill="#ec938b" stroke="none" stroke-width="0.5"/>
<rect x="150.03" y="295.70" width="1.65" height="8.01" fill="#bfa2c3" stroke="none" stroke-width="0.5"/>
<rect x="151.62" y="295.70" width="2.23" height="8.01" fill="#a783af" stroke="none" stroke-width="0.5"/>
<rect x="153.79" y="295.70" width="2.08" height="8.01" fill="#b99cc2" stroke="none" stroke-width="0.5"/>
<rect x="155.81" y="295.70" width="1.87" height="8.01" fill="#be99b8" stroke="none" stroke-width="0.5"/>
<rect x="157.62" y="295.70" width="1.30" height="8.01" fill="#d0c5e3" stroke="none" stroke-width="0.5"/>
<rect x="158.86" y="295.70" width="1.44" height="8.01" fill="#d1bfdb" stroke="none" stroke-width="0.5"/>
<rect x="160.23" y="295.70" width="1.18" height="8.01" fill="#d0c0dd" stroke="none" stroke-width="0.5"/>
<rect x="161.35" y="295.70" width="1.96" height="8.01" fill="#eca49f" stroke="none" stroke-width="0.5"/>
<rect x="163.26" y="295.70" width="1.65" height="8.01" fill="#f2aca4" stroke="none" stroke-width="0.5"/>
<rect x="164.85" y="295.70" width="1.97" height="8.01" fill="#d4b4ca" stroke="none" stroke-width="0.5"/>
<rect x="166.76" y="295.70" width="1.39" height="8.01" fill="#cc8698" stroke="none" stroke-width="0.5"/>
<rect x="168.09" y="295.70" width="1.25" height="8.01" fill="#cb9eb7" stroke="none" stroke-width="0.5"/>
<rect x="169.28" y="295.70" width="2.01" height="8.01" fill="#e2b9c3" stroke="none" stroke-width="0.5"/>
<rect x="171.23" y="295.70" width="2.24" height="8.01" fill="#df9ea3" stroke="none" stroke-width="0.5"/>
<rect x="173.41" y="295.70" width="2.07" height="8.01" fill="#d799a3" stroke="none" stroke-width="0.5"/>
<rect x="175.42" y="295.70" width="2.01" height="8.01" fill="#e7b1b4" stroke="none" stroke-width="0.5"/>
<rect x="177.37" y="295.70" width="2.02" height="8.01" fill="#ccaac5" stroke="none" stroke-width="0.5"/>
<rect x="179.33" y="295.70" width="1.92" height="8.01" fill="#ab88b1" stroke="none" stroke-width="0.5"/>
<rect x="181.20" y="295.70" width="1.25" height="8.01" fill="#dfa1a8" stroke="none" stroke-width="0.5"/>
<rect x="182.39" y="295.70" width="1.63" height="8.01" fill="#ed9d94" stroke="none" stroke-width="0.5"/>
<rect x="183.96" y="295.70" width="1.42" height="8.01" fill="#dfbdcc" stroke="none" stroke-width="0.5"/>
<rect x="185.33" y="295.70" width="1.00" height="8.01" fill="#f0aea7" stroke="none" stroke-width="0.5"/>
<rect x="186.26" y="295.70" width="1.00" height="8.01" fill="#eaaead" stroke="none" stroke-width="0.5"/>
<rect x="187.20" y="295.70" width="1.32" height="8.01" fill="#e0c0ce" stroke="none" stroke-width="0.5"/>
<rect x="188.46" y="295.70" width="1.30" height="8.01" fill="#ebb6b7" stroke="none" stroke-width="0.5"/>
<rect x="189.70" y="295.70" width="1.86" height="8.01" fill="#e9908a" stroke="none" stroke-width="0.5"/>
<rect x="191.50" y="295.70" width="2.20" height="8.01" fill="#ebb6b7" stroke="none" stroke-width="0.5"/>
<rect x="193.64" y="295.70" width="1.54" height="8.01" fill="#ec968d" stroke="none" stroke-width="0.5"/>
<rect x="195.13" y="295.70" width="2.18" height="8.01" fill="#f4bab4" stroke="none" stroke-width="0.5"/>
<rect x="197.24" y="295.70" width="2.24" height="8.01" fill="#e9a4a2" stroke="none" stroke-width="0.5"/>
<rect x="199.43" y="295.70" width="2.20" height="8.01" fill="#efbfbe" stroke="none" stroke-width="0.5"/>
<rect x="201.57" y="295.70" width="1.43" height="8.01" fill="#dfa8b1" stroke="none" stroke-width="0.5"/>
<rect x="202.94" y="295.70" width="1.25" height="8.01" fill="#ebc1c5" stroke="none" stroke-width="0.5"/>
<rect x="204.13" y="295.70" width="1.25" height="8.01" fill="#e0c9da" stroke="none" stroke-width="0.5"/>
<rect x="205.33" y="295.70" width="1.22" height="8.01" fill="#d6abbb" stroke="none" stroke-width="0.5"/>
<rect x="206.48" y="295.70" width="1.23" height="8.01" fill="#c4b0d4" stroke="none" stroke-width="0.5"/>
<rect x="207.65" y="295.70" width="1.77" height="8.01" fill="#eaaaa9" stroke="none" stroke-width="0.5"/>
<rect x="209.36" y="295.70" width="2.13" height="8.01" fill="#e9a5a3" stroke="none" stroke-width="0.5"/>
<rect x="211.43" y="295.70" width="1.93" height="8.01" fill="#e3b0b7" stroke="none" stroke-width="0.5"/>
<text x="214.70" y="300.57" font-size="2.5" text-anchor="start" fill="#555">GFI1</text>
<rect x="108.20" y="303.65" width="1.17" height="8.01" fill="#b199c8" stroke="none" stroke-width="0.5"/>
<rect x="109.31" y="303.65" width="1.40" height="8.01" fill="#c390a9" stroke="none" stroke-width="0.5"/>
<rect x="110.65" y="303.65" width="1.03" height="8.01" fill="#ac94c2" stroke="none" stroke-width="0.5"/>
<rect x="111.62" y="303.65" width="0.96" height="8.01" fill="#ae93c0" stroke="none" stroke-width="0.5"/>
<rect x="112.52" y="303.65" width="1.16" height="8.01" fill="#c8b6d8" stroke="none" stroke-width="0.5"/>
<rect x="113.62" y="303.65" width="1.09" height="8.01" fill="#9382c1" stroke="none" stroke-width="0.5"/>
<rect x="114.65" y="303.65" width="1.43" height="8.01" fill="#bfadd4" stroke="none" stroke-width="0.5"/>
<rect x="116.02" y="303.65" width="0.99" height="8.01" fill="#a594cb" stroke="none" stroke-width="0.5"/>
<rect x="116.96" y="303.65" width="2.10" height="8.01" fill="#b296c1" stroke="none" stroke-width="0.5"/>
<rect x="118.99" y="303.65" width="1.76" height="8.01" fill="#d0a5bb" stroke="none" stroke-width="0.5"/>
<rect x="120.69" y="303.65" width="1.15" height="8.01" fill="#d1bed8" stroke="none" stroke-width="0.5"/>
<rect x="121.78" y="303.65" width="1.29" height="8.01" fill="#a38ec1" stroke="none" stroke-width="0.5"/>
<rect x="123.01" y="303.65" width="1.41" height="8.01" fill="#d3afc5" stroke="none" stroke-width="0.5"/>
<rect x="124.36" y="303.65" width="1.43" height="8.01" fill="#8c7cbe" stroke="none" stroke-width="0.5"/>
<rect x="125.74" y="303.65" width="1.12" height="8.01" fill="#eacad2" stroke="none" stroke-width="0.5"/>
<rect x="126.80" y="303.65" width="2.06" height="8.01" fill="#c7a5c5" stroke="none" stroke-width="0.5"/>
<rect x="128.80" y="303.65" width="2.25" height="8.01" fill="#ce98a9" stroke="none" stroke-width="0.5"/>
<rect x="130.99" y="303.65" width="1.57" height="8.01" fill="#b386ac" stroke="none" stroke-width="0.5"/>
<rect x="132.50" y="303.65" width="1.59" height="8.01" fill="#bdaace" stroke="none" stroke-width="0.5"/>
<rect x="134.03" y="303.65" width="1.07" height="8.01" fill="#cab2d2" stroke="none" stroke-width="0.5"/>
<rect x="135.04" y="303.65" width="1.09" height="8.01" fill="#f1b4af" stroke="none" stroke-width="0.5"/>
<rect x="136.07" y="303.65" width="1.41" height="8.01" fill="#eeb7b4" stroke="none" stroke-width="0.5"/>
<rect x="137.42" y="303.65" width="1.30" height="8.01" fill="#cd9db3" stroke="none" stroke-width="0.5"/>
<rect x="138.66" y="303.65" width="2.04" height="8.01" fill="#c59cb7" stroke="none" stroke-width="0.5"/>
<rect x="140.64" y="303.65" width="1.17" height="8.01" fill="#c29bba" stroke="none" stroke-width="0.5"/>
<rect x="141.75" y="303.65" width="0.99" height="8.01" fill="#47379c" stroke="none" stroke-width="0.5"/>
<rect x="142.68" y="303.65" width="2.20" height="8.01" fill="#e5bec7" stroke="none" stroke-width="0.5"/>
<rect x="144.81" y="303.65" width="1.65" height="8.01" fill="#b7abd6" stroke="none" stroke-width="0.5"/>
<rect x="146.40" y="303.65" width="1.15" height="8.01" fill="#ae8cba" stroke="none" stroke-width="0.5"/>
<rect x="147.49" y="303.65" width="1.67" height="8.01" fill="#d0b2c7" stroke="none" stroke-width="0.5"/>
<rect x="149.10" y="303.65" width="1.00" height="8.01" fill="#e39495" stroke="none" stroke-width="0.5"/>
<rect x="150.03" y="303.65" width="1.65" height="8.01" fill="#dabdd0" stroke="none" stroke-width="0.5"/>
<rect x="151.62" y="303.65" width="2.23" height="8.01" fill="#d0b8d4" stroke="none" stroke-width="0.5"/>
<rect x="153.79" y="303.65" width="2.08" height="8.01" fill="#b08bb8" stroke="none" stroke-width="0.5"/>
<rect x="155.81" y="303.65" width="1.87" height="8.01" fill="#c096b5" stroke="none" stroke-width="0.5"/>
<rect x="157.62" y="303.65" width="1.30" height="8.01" fill="#a690c5" stroke="none" stroke-width="0.5"/>
<rect x="158.86" y="303.65" width="1.44" height="8.01" fill="#f6bcb3" stroke="none" stroke-width="0.5"/>
<rect x="160.23" y="303.65" width="1.18" height="8.01" fill="#c5a4c0" stroke="none" stroke-width="0.5"/>
<rect x="161.35" y="303.65" width="1.96" height="8.01" fill="#eaacac" stroke="none" stroke-width="0.5"/>
<rect x="163.26" y="303.65" width="1.65" height="8.01" fill="#e8afb1" stroke="none" stroke-width="0.5"/>
<rect x="164.85" y="303.65" width="1.97" height="8.01" fill="#e78e86" stroke="none" stroke-width="0.5"/>
<rect x="166.76" y="303.65" width="1.39" height="8.01" fill="#e09fa5" stroke="none" stroke-width="0.5"/>
<rect x="168.09" y="303.65" width="1.25" height="8.01" fill="#d5b5c9" stroke="none" stroke-width="0.5"/>
<rect x="169.28" y="303.65" width="2.01" height="8.01" fill="#cca1b6" stroke="none" stroke-width="0.5"/>
<rect x="171.23" y="303.65" width="2.24" height="8.01" fill="#e5a4a4" stroke="none" stroke-width="0.5"/>
<rect x="173.41" y="303.65" width="2.07" height="8.01" fill="#dfb4c0" stroke="none" stroke-width="0.5"/>
<rect x="175.42" y="303.65" width="2.01" height="8.01" fill="#e28c8a" stroke="none" stroke-width="0.5"/>
<rect x="177.37" y="303.65" width="2.02" height="8.01" fill="#d197a8" stroke="none" stroke-width="0.5"/>
<rect x="179.33" y="303.65" width="1.92" height="8.01" fill="#e7c1c9" stroke="none" stroke-width="0.5"/>
<rect x="181.20" y="303.65" width="1.25" height="8.01" fill="#e29497" stroke="none" stroke-width="0.5"/>
<rect x="182.39" y="303.65" width="1.63" height="8.01" fill="#f5bfba" stroke="none" stroke-width="0.5"/>
<rect x="183.96" y="303.65" width="1.42" height="8.01" fill="#dab9cb" stroke="none" stroke-width="0.5"/>
<rect x="185.33" y="303.65" width="1.00" height="8.01" fill="#f0a49b" stroke="none" stroke-width="0.5"/>
<rect x="186.26" y="303.65" width="1.00" height="8.01" fill="#deb8c5" stroke="none" stroke-width="0.5"/>
<rect x="187.20" y="303.65" width="1.32" height="8.01" fill="#c6a6c4" stroke="none" stroke-width="0.5"/>
<rect x="188.46" y="303.65" width="1.30" height="8.01" fill="#f8c5bd" stroke="none" stroke-width="0.5"/>
<rect x="189.70" y="303.65" width="1.86" height="8.01" fill="#de7e7c" stroke="none" stroke-width="0.5"/>
<rect x="191.50" y="303.65" width="2.20" height="8.01" fill="#eda9a5" stroke="none" stroke-width="0.5"/>
<rect x="193.64" y="303.65" width="1.54" height="8.01" fill="#fae1df" stroke="none" stroke-width="0.5"/>
<rect x="195.13" y="303.65" width="2.18" height="8.01" fill="#dea9b2" stroke="none" stroke-width="0.5"/>
<rect x="197.24" y="303.65" width="2.24" height="8.01" fill="#ecbbbd" stroke="none" stroke-width="0.5"/>
<rect x="199.43" y="303.65" width="2.20" height="8.01" fill="#d3b7d0" stroke="none" stroke-width="0.5"/>
<rect x="201.57" y="303.65" width="1.43" height="8.01" fill="#e5a4a7" stroke="none" stroke-width="0.5"/>
<rect x="202.94" y="303.65" width="1.25" height="8.01" fill="#df9ca0" stroke="none" stroke-width="0.5"/>
<rect x="204.13" y="303.65" width="1.25" height="8.01" fill="#d1b6cf" stroke="none" stroke-width="0.5"/>
<rect x="205.33" y="303.65" width="1.22" height="8.01" fill="#d4abc0" stroke="none" stroke-width="0.5"/>
<rect x="206.48" y="303.65" width="1.23" height="8.01" fill="#ceb1ce" stroke="none" stroke-width="0.5"/>
<rect x="207.65" y="303.65" width="1.77" height="8.01" fill="#d6a9bb" stroke="none" stroke-width="0.5"/>
<rect x="209.36" y="303.65" width="2.13" height="8.01" fill="#d798a3" stroke="none" stroke-width="0.5"/>
<rect x="211.43" y="303.65" width="1.93" height="8.01" fill="#dcaebb" stroke="none" stroke-width="0.5"/>
<text x="214.70" y="308.53" font-size="2.5" text-anchor="start" fill="#555">IRF1</text>
<rect x="108.20" y="311.60" width="1.17" height="8.01" fill="#e4918f" stroke="none" stroke-width="0.5"/>
<rect x="109.31" y="311.60" width="1.40" height="8.01" fill="#f7c1b9" stroke="none" stroke-width="0.5"/>
<rect x="110.65" y="311.60" width="1.03" height="8.01" fill="#e49a9a" stroke="none" stroke-width="0.5"/>
<rect x="111.62" y="311.60" width="0.96" height="8.01" fill="#e8aeb0" stroke="none" stroke-width="0.5"/>
<rect x="112.52" y="311.60" width="1.16" height="8.01" fill="#dda6b1" stroke="none" stroke-width="0.5"/>
<rect x="113.62" y="311.60" width="1.09" height="8.01" fill="#e6a1a1" stroke="none" stroke-width="0.5"/>
<rect x="114.65" y="311.60" width="1.43" height="8.01" fill="#d7aec0" stroke="none" stroke-width="0.5"/>
<rect x="116.02" y="311.60" width="0.99" height="8.01" fill="#eab0b1" stroke="none" stroke-width="0.5"/>
<rect x="116.96" y="311.60" width="2.10" height="8.01" fill="#efbbba" stroke="none" stroke-width="0.5"/>
<rect x="118.99" y="311.60" width="1.76" height="8.01" fill="#c19bb7" stroke="none" stroke-width="0.5"/>
<rect x="120.69" y="311.60" width="1.15" height="8.01" fill="#efc0c1" stroke="none" stroke-width="0.5"/>
<rect x="121.78" y="311.60" width="1.29" height="8.01" fill="#e49b9c" stroke="none" stroke-width="0.5"/>
<rect x="123.01" y="311.60" width="1.41" height="8.01" fill="#dcaab6" stroke="none" stroke-width="0.5"/>
<rect x="124.36" y="311.60" width="1.43" height="8.01" fill="#eba09c" stroke="none" stroke-width="0.5"/>
<rect x="125.74" y="311.60" width="1.12" height="8.01" fill="#ea9f9a" stroke="none" stroke-width="0.5"/>
<rect x="126.80" y="311.60" width="2.06" height="8.01" fill="#d2a2b6" stroke="none" stroke-width="0.5"/>
<rect x="128.80" y="311.60" width="2.25" height="8.01" fill="#ecaaa6" stroke="none" stroke-width="0.5"/>
<rect x="130.99" y="311.60" width="1.57" height="8.01" fill="#f4c4c1" stroke="none" stroke-width="0.5"/>
<rect x="132.50" y="311.60" width="1.59" height="8.01" fill="#e17e78" stroke="none" stroke-width="0.5"/>
<rect x="134.03" y="311.60" width="1.07" height="8.01" fill="#e0c4d4" stroke="none" stroke-width="0.5"/>
<rect x="135.04" y="311.60" width="1.09" height="8.01" fill="#df989d" stroke="none" stroke-width="0.5"/>
<rect x="136.07" y="311.60" width="1.41" height="8.01" fill="#cfadc1" stroke="none" stroke-width="0.5"/>
<rect x="137.42" y="311.60" width="1.30" height="8.01" fill="#e6918c" stroke="none" stroke-width="0.5"/>
<rect x="138.66" y="311.60" width="2.04" height="8.01" fill="#f3c3bf" stroke="none" stroke-width="0.5"/>
<rect x="140.64" y="311.60" width="1.17" height="8.01" fill="#e6cbd6" stroke="none" stroke-width="0.5"/>
<rect x="141.75" y="311.60" width="0.99" height="8.01" fill="#eb8e85" stroke="none" stroke-width="0.5"/>
<rect x="142.68" y="311.60" width="2.20" height="8.01" fill="#e8aaab" stroke="none" stroke-width="0.5"/>
<rect x="144.81" y="311.60" width="1.65" height="8.01" fill="#f3b8b2" stroke="none" stroke-width="0.5"/>
<rect x="146.40" y="311.60" width="1.15" height="8.01" fill="#f0c8ca" stroke="none" stroke-width="0.5"/>
<rect x="147.49" y="311.60" width="1.67" height="8.01" fill="#edafac" stroke="none" stroke-width="0.5"/>
<rect x="149.10" y="311.60" width="1.00" height="8.01" fill="#af95be" stroke="none" stroke-width="0.5"/>
<rect x="150.03" y="311.60" width="1.65" height="8.01" fill="#c9899e" stroke="none" stroke-width="0.5"/>
<rect x="151.62" y="311.60" width="2.23" height="8.01" fill="#e8948f" stroke="none" stroke-width="0.5"/>
<rect x="153.79" y="311.60" width="2.08" height="8.01" fill="#e3bbc5" stroke="none" stroke-width="0.5"/>
<rect x="155.81" y="311.60" width="1.87" height="8.01" fill="#cb99b2" stroke="none" stroke-width="0.5"/>
<rect x="157.62" y="311.60" width="1.30" height="8.01" fill="#d18e9d" stroke="none" stroke-width="0.5"/>
<rect x="158.86" y="311.60" width="1.44" height="8.01" fill="#b37b9c" stroke="none" stroke-width="0.5"/>
<rect x="160.23" y="311.60" width="1.18" height="8.01" fill="#eab5b6" stroke="none" stroke-width="0.5"/>
<rect x="161.35" y="311.60" width="1.96" height="8.01" fill="#aa86b3" stroke="none" stroke-width="0.5"/>
<rect x="163.26" y="311.60" width="1.65" height="8.01" fill="#d0b1ca" stroke="none" stroke-width="0.5"/>
<rect x="164.85" y="311.60" width="1.97" height="8.01" fill="#e2b9c3" stroke="none" stroke-width="0.5"/>
<rect x="166.76" y="311.60" width="1.39" height="8.01" fill="#dbbed2" stroke="none" stroke-width="0.5"/>
<rect x="168.09" y="311.60" width="1.25" height="8.01" fill="#bd9bb6" stroke="none" stroke-width="0.5"/>
<rect x="169.28" y="311.60" width="2.01" height="8.01" fill="#eebcbc" stroke="none" stroke-width="0.5"/>
<rect x="171.23" y="311.60" width="2.24" height="8.01" fill="#ccaeca" stroke="none" stroke-width="0.5"/>
<rect x="173.41" y="311.60" width="2.07" height="8.01" fill="#af92c0" stroke="none" stroke-width="0.5"/>
<rect x="175.42" y="311.60" width="2.01" height="8.01" fill="#bcacd2" stroke="none" stroke-width="0.5"/>
<rect x="177.37" y="311.60" width="2.02" height="8.01" fill="#d69daa" stroke="none" stroke-width="0.5"/>
<rect x="179.33" y="311.60" width="1.92" height="8.01" fill="#cf9bad" stroke="none" stroke-width="0.5"/>
<rect x="181.20" y="311.60" width="1.25" height="8.01" fill="#cfa6be" stroke="none" stroke-width="0.5"/>
<rect x="182.39" y="311.60" width="1.63" height="8.01" fill="#caa8c0" stroke="none" stroke-width="0.5"/>
<rect x="183.96" y="311.60" width="1.42" height="8.01" fill="#daa0ac" stroke="none" stroke-width="0.5"/>
<rect x="185.33" y="311.60" width="1.00" height="8.01" fill="#d6b2c3" stroke="none" stroke-width="0.5"/>
<rect x="186.26" y="311.60" width="1.00" height="8.01" fill="#cda8c2" stroke="none" stroke-width="0.5"/>
<rect x="187.20" y="311.60" width="1.32" height="8.01" fill="#e7a09e" stroke="none" stroke-width="0.5"/>
<rect x="188.46" y="311.60" width="1.30" height="8.01" fill="#dac5d9" stroke="none" stroke-width="0.5"/>
<rect x="189.70" y="311.60" width="1.86" height="8.01" fill="#b58eb4" stroke="none" stroke-width="0.5"/>
<rect x="191.50" y="311.60" width="2.20" height="8.01" fill="#c9a7c4" stroke="none" stroke-width="0.5"/>
<rect x="193.64" y="311.60" width="1.54" height="8.01" fill="#d0b6d1" stroke="none" stroke-width="0.5"/>
<rect x="195.13" y="311.60" width="2.18" height="8.01" fill="#ba9abe" stroke="none" stroke-width="0.5"/>
<rect x="197.24" y="311.60" width="2.24" height="8.01" fill="#c4a6c8" stroke="none" stroke-width="0.5"/>
<rect x="199.43" y="311.60" width="2.20" height="8.01" fill="#e9b1b3" stroke="none" stroke-width="0.5"/>
<rect x="201.57" y="311.60" width="1.43" height="8.01" fill="#eeb8b6" stroke="none" stroke-width="0.5"/>
<rect x="202.94" y="311.60" width="1.25" height="8.01" fill="#e9ced7" stroke="none" stroke-width="0.5"/>
<rect x="204.13" y="311.60" width="1.25" height="8.01" fill="#e3cddb" stroke="none" stroke-width="0.5"/>
<rect x="205.33" y="311.60" width="1.22" height="8.01" fill="#daacbb" stroke="none" stroke-width="0.5"/>
<rect x="206.48" y="311.60" width="1.23" height="8.01" fill="#bc7992" stroke="none" stroke-width="0.5"/>
<rect x="207.65" y="311.60" width="1.77" height="8.01" fill="#d6bacf" stroke="none" stroke-width="0.5"/>
<rect x="209.36" y="311.60" width="2.13" height="8.01" fill="#b69cbe" stroke="none" stroke-width="0.5"/>
<rect x="211.43" y="311.60" width="1.93" height="8.01" fill="#e0cbdd" stroke="none" stroke-width="0.5"/>
<text x="214.70" y="316.48" font-size="2.5" text-anchor="start" fill="#555">PKD1</text>
<rect x="108.20" y="319.55" width="1.17" height="8.01" fill="#9b8ac1" stroke="none" stroke-width="0.5"/>
<rect x="109.31" y="319.55" width="1.40" height="8.01" fill="#dfc5d4" stroke="none" stroke-width="0.5"/>
<rect x="110.65" y="319.55" width="1.03" height="8.01" fill="#dbaebe" stroke="none" stroke-width="0.5"/>
<rect x="111.62" y="319.55" width="0.96" height="8.01" fill="#b69cc7" stroke="none" stroke-width="0.5"/>
<rect x="112.52" y="319.55" width="1.16" height="8.01" fill="#b895bd" stroke="none" stroke-width="0.5"/>
<rect x="113.62" y="319.55" width="1.09" height="8.01" fill="#ac8ebf" stroke="none" stroke-width="0.5"/>
<rect x="114.65" y="319.55" width="1.43" height="8.01" fill="#d3abc0" stroke="none" stroke-width="0.5"/>
<rect x="116.02" y="319.55" width="0.99" height="8.01" fill="#937ebe" stroke="none" stroke-width="0.5"/>
<rect x="116.96" y="319.55" width="2.10" height="8.01" fill="#c4afd0" stroke="none" stroke-width="0.5"/>
<rect x="118.99" y="319.55" width="1.76" height="8.01" fill="#ddb6c4" stroke="none" stroke-width="0.5"/>
<rect x="120.69" y="319.55" width="1.15" height="8.01" fill="#b888a7" stroke="none" stroke-width="0.5"/>
<rect x="121.78" y="319.55" width="1.29" height="8.01" fill="#b1a2d1" stroke="none" stroke-width="0.5"/>
<rect x="123.01" y="319.55" width="1.41" height="8.01" fill="#d4b6ce" stroke="none" stroke-width="0.5"/>
<rect x="124.36" y="319.55" width="1.43" height="8.01" fill="#c1abcf" stroke="none" stroke-width="0.5"/>
<rect x="125.74" y="319.55" width="1.12" height="8.01" fill="#cf9fb1" stroke="none" stroke-width="0.5"/>
<rect x="126.80" y="319.55" width="2.06" height="8.01" fill="#efb5b3" stroke="none" stroke-width="0.5"/>
<rect x="128.80" y="319.55" width="2.25" height="8.01" fill="#d5aabd" stroke="none" stroke-width="0.5"/>
<rect x="130.99" y="319.55" width="1.57" height="8.01" fill="#bca3c5" stroke="none" stroke-width="0.5"/>
<rect x="132.50" y="319.55" width="1.59" height="8.01" fill="#bda5c9" stroke="none" stroke-width="0.5"/>
<rect x="134.03" y="319.55" width="1.07" height="8.01" fill="#ceb5cc" stroke="none" stroke-width="0.5"/>
<rect x="135.04" y="319.55" width="1.09" height="8.01" fill="#daa7b4" stroke="none" stroke-width="0.5"/>
<rect x="136.07" y="319.55" width="1.41" height="8.01" fill="#cfabc1" stroke="none" stroke-width="0.5"/>
<rect x="137.42" y="319.55" width="1.30" height="8.01" fill="#e6d0dd" stroke="none" stroke-width="0.5"/>
<rect x="138.66" y="319.55" width="2.04" height="8.01" fill="#b59cc6" stroke="none" stroke-width="0.5"/>
<rect x="140.64" y="319.55" width="1.17" height="8.01" fill="#d9bbd0" stroke="none" stroke-width="0.5"/>
<rect x="141.75" y="319.55" width="0.99" height="8.01" fill="#8e7bbf" stroke="none" stroke-width="0.5"/>
<rect x="142.68" y="319.55" width="2.20" height="8.01" fill="#c0a3c5" stroke="none" stroke-width="0.5"/>
<rect x="144.81" y="319.55" width="1.65" height="8.01" fill="#cea3b8" stroke="none" stroke-width="0.5"/>
<rect x="146.40" y="319.55" width="1.15" height="8.01" fill="#d8aab9" stroke="none" stroke-width="0.5"/>
<rect x="147.49" y="319.55" width="1.67" height="8.01" fill="#d6b8cd" stroke="none" stroke-width="0.5"/>
<rect x="149.10" y="319.55" width="1.00" height="8.01" fill="#f6bfb6" stroke="none" stroke-width="0.5"/>
<rect x="150.03" y="319.55" width="1.65" height="8.01" fill="#c4a1be" stroke="none" stroke-width="0.5"/>
<rect x="151.62" y="319.55" width="2.23" height="8.01" fill="#e7d0dd" stroke="none" stroke-width="0.5"/>
<rect x="153.79" y="319.55" width="2.08" height="8.01" fill="#c8bbda" stroke="none" stroke-width="0.5"/>
<rect x="155.81" y="319.55" width="1.87" height="8.01" fill="#d69fad" stroke="none" stroke-width="0.5"/>
<rect x="157.62" y="319.55" width="1.30" height="8.01" fill="#cc9eb4" stroke="none" stroke-width="0.5"/>
<rect x="158.86" y="319.55" width="1.44" height="8.01" fill="#e5a7ab" stroke="none" stroke-width="0.5"/>
<rect x="160.23" y="319.55" width="1.18" height="8.01" fill="#c4afd1" stroke="none" stroke-width="0.5"/>
<rect x="161.35" y="319.55" width="1.96" height="8.01" fill="#c4a1bc" stroke="none" stroke-width="0.5"/>
<rect x="163.26" y="319.55" width="1.65" height="8.01" fill="#e4aaaf" stroke="none" stroke-width="0.5"/>
<rect x="164.85" y="319.55" width="1.97" height="8.01" fill="#e1c1ce" stroke="none" stroke-width="0.5"/>
<rect x="166.76" y="319.55" width="1.39" height="8.01" fill="#ea9b96" stroke="none" stroke-width="0.5"/>
<rect x="168.09" y="319.55" width="1.25" height="8.01" fill="#e5d6e7" stroke="none" stroke-width="0.5"/>
<rect x="169.28" y="319.55" width="2.01" height="8.01" fill="#e7cdd9" stroke="none" stroke-width="0.5"/>
<rect x="171.23" y="319.55" width="2.24" height="8.01" fill="#d7a6b5" stroke="none" stroke-width="0.5"/>
<rect x="173.41" y="319.55" width="2.07" height="8.01" fill="#dca8b4" stroke="none" stroke-width="0.5"/>
<rect x="175.42" y="319.55" width="2.01" height="8.01" fill="#d8adbe" stroke="none" stroke-width="0.5"/>
<rect x="177.37" y="319.55" width="2.02" height="8.01" fill="#d1a3b6" stroke="none" stroke-width="0.5"/>
<rect x="179.33" y="319.55" width="1.92" height="8.01" fill="#dbbccf" stroke="none" stroke-width="0.5"/>
<rect x="181.20" y="319.55" width="1.25" height="8.01" fill="#ceaec8" stroke="none" stroke-width="0.5"/>
<rect x="182.39" y="319.55" width="1.63" height="8.01" fill="#d99098" stroke="none" stroke-width="0.5"/>
<rect x="183.96" y="319.55" width="1.42" height="8.01" fill="#ebc6ca" stroke="none" stroke-width="0.5"/>
<rect x="185.33" y="319.55" width="1.00" height="8.01" fill="#dcbdce" stroke="none" stroke-width="0.5"/>
<rect x="186.26" y="319.55" width="1.00" height="8.01" fill="#dea8b1" stroke="none" stroke-width="0.5"/>
<rect x="187.20" y="319.55" width="1.32" height="8.01" fill="#bf9dbf" stroke="none" stroke-width="0.5"/>
<rect x="188.46" y="319.55" width="1.30" height="8.01" fill="#e5d2df" stroke="none" stroke-width="0.5"/>
<rect x="189.70" y="319.55" width="1.86" height="8.01" fill="#d49da9" stroke="none" stroke-width="0.5"/>
<rect x="191.50" y="319.55" width="2.20" height="8.01" fill="#edc2c5" stroke="none" stroke-width="0.5"/>
<rect x="193.64" y="319.55" width="1.54" height="8.01" fill="#dca9b5" stroke="none" stroke-width="0.5"/>
<rect x="195.13" y="319.55" width="2.18" height="8.01" fill="#e7b3b6" stroke="none" stroke-width="0.5"/>
<rect x="197.24" y="319.55" width="2.24" height="8.01" fill="#e0bfcc" stroke="none" stroke-width="0.5"/>
<rect x="199.43" y="319.55" width="2.20" height="8.01" fill="#ecc5c9" stroke="none" stroke-width="0.5"/>
<rect x="201.57" y="319.55" width="1.43" height="8.01" fill="#c3a3c5" stroke="none" stroke-width="0.5"/>
<rect x="202.94" y="319.55" width="1.25" height="8.01" fill="#e7acae" stroke="none" stroke-width="0.5"/>
<rect x="204.13" y="319.55" width="1.25" height="8.01" fill="#e5b8c0" stroke="none" stroke-width="0.5"/>
<rect x="205.33" y="319.55" width="1.22" height="8.01" fill="#ceb1cb" stroke="none" stroke-width="0.5"/>
<rect x="206.48" y="319.55" width="1.23" height="8.01" fill="#c2a9c6" stroke="none" stroke-width="0.5"/>
<rect x="207.65" y="319.55" width="1.77" height="8.01" fill="#e8aaac" stroke="none" stroke-width="0.5"/>
<rect x="209.36" y="319.55" width="2.13" height="8.01" fill="#dfcbdc" stroke="none" stroke-width="0.5"/>
<rect x="211.43" y="319.55" width="1.93" height="8.01" fill="#e5c3cc" stroke="none" stroke-width="0.5"/>
<text x="214.70" y="324.43" font-size="2.5" text-anchor="start" fill="#555">PSLMA</text>
<rect x="108.20" y="327.50" width="1.17" height="8.01" fill="#ef9a91" stroke="none" stroke-width="0.5"/>
<rect x="109.31" y="327.50" width="1.40" height="8.01" fill="#e3b6bc" stroke="none" stroke-width="0.5"/>
<rect x="110.65" y="327.50" width="1.03" height="8.01" fill="#d2a6b7" stroke="none" stroke-width="0.5"/>
<rect x="111.62" y="327.50" width="0.96" height="8.01" fill="#ed9b93" stroke="none" stroke-width="0.5"/>
<rect x="112.52" y="327.50" width="1.16" height="8.01" fill="#dd99a3" stroke="none" stroke-width="0.5"/>
<rect x="113.62" y="327.50" width="1.09" height="8.01" fill="#ed9e96" stroke="none" stroke-width="0.5"/>
<rect x="114.65" y="327.50" width="1.43" height="8.01" fill="#d3a6b9" stroke="none" stroke-width="0.5"/>
<rect x="116.02" y="327.50" width="0.99" height="8.01" fill="#da6c6c" stroke="none" stroke-width="0.5"/>
<rect x="116.96" y="327.50" width="2.10" height="8.01" fill="#db9faa" stroke="none" stroke-width="0.5"/>
<rect x="118.99" y="327.50" width="1.76" height="8.01" fill="#e8acad" stroke="none" stroke-width="0.5"/>
<rect x="120.69" y="327.50" width="1.15" height="8.01" fill="#eaa29e" stroke="none" stroke-width="0.5"/>
<rect x="121.78" y="327.50" width="1.29" height="8.01" fill="#d8a6b4" stroke="none" stroke-width="0.5"/>
<rect x="123.01" y="327.50" width="1.41" height="8.01" fill="#d2a6ba" stroke="none" stroke-width="0.5"/>
<rect x="124.36" y="327.50" width="1.43" height="8.01" fill="#ee948b" stroke="none" stroke-width="0.5"/>
<rect x="125.74" y="327.50" width="1.12" height="8.01" fill="#dd8d90" stroke="none" stroke-width="0.5"/>
<rect x="126.80" y="327.50" width="2.06" height="8.01" fill="#e3c3cf" stroke="none" stroke-width="0.5"/>
<rect x="128.80" y="327.50" width="2.25" height="8.01" fill="#b07ea7" stroke="none" stroke-width="0.5"/>
<rect x="130.99" y="327.50" width="1.57" height="8.01" fill="#e9a29f" stroke="none" stroke-width="0.5"/>
<rect x="132.50" y="327.50" width="1.59" height="8.01" fill="#ecc3c6" stroke="none" stroke-width="0.5"/>
<rect x="134.03" y="327.50" width="1.07" height="8.01" fill="#e8c4cb" stroke="none" stroke-width="0.5"/>
<rect x="135.04" y="327.50" width="1.09" height="8.01" fill="#cfabc2" stroke="none" stroke-width="0.5"/>
<rect x="136.07" y="327.50" width="1.41" height="8.01" fill="#cc9bb0" stroke="none" stroke-width="0.5"/>
<rect x="137.42" y="327.50" width="1.30" height="8.01" fill="#e4bec8" stroke="none" stroke-width="0.5"/>
<rect x="138.66" y="327.50" width="2.04" height="8.01" fill="#f3b7b1" stroke="none" stroke-width="0.5"/>
<rect x="140.64" y="327.50" width="1.17" height="8.01" fill="#f3c4c0" stroke="none" stroke-width="0.5"/>
<rect x="141.75" y="327.50" width="0.99" height="8.01" fill="#e47269" stroke="none" stroke-width="0.5"/>
<rect x="142.68" y="327.50" width="2.20" height="8.01" fill="#dbafbe" stroke="none" stroke-width="0.5"/>
<rect x="144.81" y="327.50" width="1.65" height="8.01" fill="#e0a6ae" stroke="none" stroke-width="0.5"/>
<rect x="146.40" y="327.50" width="1.15" height="8.01" fill="#f0b2ad" stroke="none" stroke-width="0.5"/>
<rect x="147.49" y="327.50" width="1.67" height="8.01" fill="#ddbecd" stroke="none" stroke-width="0.5"/>
<rect x="149.10" y="327.50" width="1.00" height="8.01" fill="#b89fc8" stroke="none" stroke-width="0.5"/>
<rect x="150.03" y="327.50" width="1.65" height="8.01" fill="#f8d6d3" stroke="none" stroke-width="0.5"/>
<rect x="151.62" y="327.50" width="2.23" height="8.01" fill="#e39b9b" stroke="none" stroke-width="0.5"/>
<rect x="153.79" y="327.50" width="2.08" height="8.01" fill="#e6918d" stroke="none" stroke-width="0.5"/>
<rect x="155.81" y="327.50" width="1.87" height="8.01" fill="#eccbd1" stroke="none" stroke-width="0.5"/>
<rect x="157.62" y="327.50" width="1.30" height="8.01" fill="#eb9d98" stroke="none" stroke-width="0.5"/>
<rect x="158.86" y="327.50" width="1.44" height="8.01" fill="#e5c8d3" stroke="none" stroke-width="0.5"/>
<rect x="160.23" y="327.50" width="1.18" height="8.01" fill="#bc92b2" stroke="none" stroke-width="0.5"/>
<rect x="161.35" y="327.50" width="1.96" height="8.01" fill="#b5a5cf" stroke="none" stroke-width="0.5"/>
<rect x="163.26" y="327.50" width="1.65" height="8.01" fill="#a581b4" stroke="none" stroke-width="0.5"/>
<rect x="164.85" y="327.50" width="1.97" height="8.01" fill="#b18db3" stroke="none" stroke-width="0.5"/>
<rect x="166.76" y="327.50" width="1.39" height="8.01" fill="#b188b4" stroke="none" stroke-width="0.5"/>
<rect x="168.09" y="327.50" width="1.25" height="8.01" fill="#c09ab6" stroke="none" stroke-width="0.5"/>
<rect x="169.28" y="327.50" width="2.01" height="8.01" fill="#e1b3bc" stroke="none" stroke-width="0.5"/>
<rect x="171.23" y="327.50" width="2.24" height="8.01" fill="#cea2b8" stroke="none" stroke-width="0.5"/>
<rect x="173.41" y="327.50" width="2.07" height="8.01" fill="#b297c3" stroke="none" stroke-width="0.5"/>
<rect x="175.42" y="327.50" width="2.01" height="8.01" fill="#cea1b7" stroke="none" stroke-width="0.5"/>
<rect x="177.37" y="327.50" width="2.02" height="8.01" fill="#cab0cc" stroke="none" stroke-width="0.5"/>
<rect x="179.33" y="327.50" width="1.92" height="8.01" fill="#e5bec7" stroke="none" stroke-width="0.5"/>
<rect x="181.20" y="327.50" width="1.25" height="8.01" fill="#b98ba7" stroke="none" stroke-width="0.5"/>
<rect x="182.39" y="327.50" width="1.63" height="8.01" fill="#7f68af" stroke="none" stroke-width="0.5"/>
<rect x="183.96" y="327.50" width="1.42" height="8.01" fill="#b397c0" stroke="none" stroke-width="0.5"/>
<rect x="185.33" y="327.50" width="1.00" height="8.01" fill="#bfabd1" stroke="none" stroke-width="0.5"/>
<rect x="186.26" y="327.50" width="1.00" height="8.01" fill="#ae85ab" stroke="none" stroke-width="0.5"/>
<rect x="187.20" y="327.50" width="1.32" height="8.01" fill="#c8a8c1" stroke="none" stroke-width="0.5"/>
<rect x="188.46" y="327.50" width="1.30" height="8.01" fill="#af9dcd" stroke="none" stroke-width="0.5"/>
<rect x="189.70" y="327.50" width="1.86" height="8.01" fill="#c79bb6" stroke="none" stroke-width="0.5"/>
<rect x="191.50" y="327.50" width="2.20" height="8.01" fill="#a88bb9" stroke="none" stroke-width="0.5"/>
<rect x="193.64" y="327.50" width="1.54" height="8.01" fill="#ddcade" stroke="none" stroke-width="0.5"/>
<rect x="195.13" y="327.50" width="2.18" height="8.01" fill="#c79ab4" stroke="none" stroke-width="0.5"/>
<rect x="197.24" y="327.50" width="2.24" height="8.01" fill="#a786b6" stroke="none" stroke-width="0.5"/>
<rect x="199.43" y="327.50" width="2.20" height="8.01" fill="#dbbacb" stroke="none" stroke-width="0.5"/>
<rect x="201.57" y="327.50" width="1.43" height="8.01" fill="#e0c5d4" stroke="none" stroke-width="0.5"/>
<rect x="202.94" y="327.50" width="1.25" height="8.01" fill="#d2b5cc" stroke="none" stroke-width="0.5"/>
<rect x="204.13" y="327.50" width="1.25" height="8.01" fill="#cbaac2" stroke="none" stroke-width="0.5"/>
<rect x="205.33" y="327.50" width="1.22" height="8.01" fill="#d8c2d9" stroke="none" stroke-width="0.5"/>
<rect x="206.48" y="327.50" width="1.23" height="8.01" fill="#ddacb7" stroke="none" stroke-width="0.5"/>
<rect x="207.65" y="327.50" width="1.77" height="8.01" fill="#c7aaca" stroke="none" stroke-width="0.5"/>
<rect x="209.36" y="327.50" width="2.13" height="8.01" fill="#ddb4c1" stroke="none" stroke-width="0.5"/>
<rect x="211.43" y="327.50" width="1.93" height="8.01" fill="#e3c3cf" stroke="none" stroke-width="0.5"/>
<text x="214.70" y="332.38" font-size="2.5" text-anchor="start" fill="#555">EMP1</text>
<rect x="108.20" y="335.45" width="1.17" height="8.01" fill="#d394a1" stroke="none" stroke-width="0.5"/>
<rect x="109.31" y="335.45" width="1.40" height="8.01" fill="#e6a7aa" stroke="none" stroke-width="0.5"/>
<rect x="110.65" y="335.45" width="1.03" height="8.01" fill="#e1b7c1" stroke="none" stroke-width="0.5"/>
<rect x="111.62" y="335.45" width="0.96" height="8.01" fill="#efd0d3" stroke="none" stroke-width="0.5"/>
<rect x="112.52" y="335.45" width="1.16" height="8.01" fill="#e5a1a2" stroke="none" stroke-width="0.5"/>
<rect x="113.62" y="335.45" width="1.09" height="8.01" fill="#c8879e" stroke="none" stroke-width="0.5"/>
<rect x="114.65" y="335.45" width="1.43" height="8.01" fill="#cebad6" stroke="none" stroke-width="0.5"/>
<rect x="116.02" y="335.45" width="0.99" height="8.01" fill="#e7928e" stroke="none" stroke-width="0.5"/>
<rect x="116.96" y="335.45" width="2.10" height="8.01" fill="#e3b3bb" stroke="none" stroke-width="0.5"/>
<rect x="118.99" y="335.45" width="1.76" height="8.01" fill="#ddc1d2" stroke="none" stroke-width="0.5"/>
<rect x="120.69" y="335.45" width="1.15" height="8.01" fill="#d7a6b7" stroke="none" stroke-width="0.5"/>
<rect x="121.78" y="335.45" width="1.29" height="8.01" fill="#e79592" stroke="none" stroke-width="0.5"/>
<rect x="123.01" y="335.45" width="1.41" height="8.01" fill="#bf9cc0" stroke="none" stroke-width="0.5"/>
<rect x="124.36" y="335.45" width="1.43" height="8.01" fill="#e26d63" stroke="none" stroke-width="0.5"/>
<rect x="125.74" y="335.45" width="1.12" height="8.01" fill="#eeafab" stroke="none" stroke-width="0.5"/>
<rect x="126.80" y="335.45" width="2.06" height="8.01" fill="#ddc4d6" stroke="none" stroke-width="0.5"/>
<rect x="128.80" y="335.45" width="2.25" height="8.01" fill="#bc9ec2" stroke="none" stroke-width="0.5"/>
<rect x="130.99" y="335.45" width="1.57" height="8.01" fill="#eec7c9" stroke="none" stroke-width="0.5"/>
<rect x="132.50" y="335.45" width="1.59" height="8.01" fill="#ebc2c6" stroke="none" stroke-width="0.5"/>
<rect x="134.03" y="335.45" width="1.07" height="8.01" fill="#dfc5d6" stroke="none" stroke-width="0.5"/>
<rect x="135.04" y="335.45" width="1.09" height="8.01" fill="#c5a8c8" stroke="none" stroke-width="0.5"/>
<rect x="136.07" y="335.45" width="1.41" height="8.01" fill="#d2c3e0" stroke="none" stroke-width="0.5"/>
<rect x="137.42" y="335.45" width="1.30" height="8.01" fill="#d4a7b5" stroke="none" stroke-width="0.5"/>
<rect x="138.66" y="335.45" width="2.04" height="8.01" fill="#ebb6b7" stroke="none" stroke-width="0.5"/>
<rect x="140.64" y="335.45" width="1.17" height="8.01" fill="#bf9fc0" stroke="none" stroke-width="0.5"/>
<rect x="141.75" y="335.45" width="0.99" height="8.01" fill="#ef9c92" stroke="none" stroke-width="0.5"/>
<rect x="142.68" y="335.45" width="2.20" height="8.01" fill="#e3b1ba" stroke="none" stroke-width="0.5"/>
<rect x="144.81" y="335.45" width="1.65" height="8.01" fill="#e89089" stroke="none" stroke-width="0.5"/>
<rect x="146.40" y="335.45" width="1.15" height="8.01" fill="#e8bfc5" stroke="none" stroke-width="0.5"/>
<rect x="147.49" y="335.45" width="1.67" height="8.01" fill="#cb93a6" stroke="none" stroke-width="0.5"/>
<rect x="149.10" y="335.45" width="1.00" height="8.01" fill="#dab1c1" stroke="none" stroke-width="0.5"/>
<rect x="150.03" y="335.45" width="1.65" height="8.01" fill="#d4a6b7" stroke="none" stroke-width="0.5"/>
<rect x="151.62" y="335.45" width="2.23" height="8.01" fill="#f19d92" stroke="none" stroke-width="0.5"/>
<rect x="153.79" y="335.45" width="2.08" height="8.01" fill="#ce889a" stroke="none" stroke-width="0.5"/>
<rect x="155.81" y="335.45" width="1.87" height="8.01" fill="#bf97b8" stroke="none" stroke-width="0.5"/>
<rect x="157.62" y="335.45" width="1.30" height="8.01" fill="#e9b1b2" stroke="none" stroke-width="0.5"/>
<rect x="158.86" y="335.45" width="1.44" height="8.01" fill="#caa8c4" stroke="none" stroke-width="0.5"/>
<rect x="160.23" y="335.45" width="1.18" height="8.01" fill="#d4a6b7" stroke="none" stroke-width="0.5"/>
<rect x="161.35" y="335.45" width="1.96" height="8.01" fill="#af96c7" stroke="none" stroke-width="0.5"/>
<rect x="163.26" y="335.45" width="1.65" height="8.01" fill="#a38cc4" stroke="none" stroke-width="0.5"/>
<rect x="164.85" y="335.45" width="1.97" height="8.01" fill="#a98cb8" stroke="none" stroke-width="0.5"/>
<rect x="166.76" y="335.45" width="1.39" height="8.01" fill="#c9bddf" stroke="none" stroke-width="0.5"/>
<rect x="168.09" y="335.45" width="1.25" height="8.01" fill="#d3b9d2" stroke="none" stroke-width="0.5"/>
<rect x="169.28" y="335.45" width="2.01" height="8.01" fill="#d3adc2" stroke="none" stroke-width="0.5"/>
<rect x="171.23" y="335.45" width="2.24" height="8.01" fill="#c6a9ca" stroke="none" stroke-width="0.5"/>
<rect x="173.41" y="335.45" width="2.07" height="8.01" fill="#cebfd9" stroke="none" stroke-width="0.5"/>
<rect x="175.42" y="335.45" width="2.01" height="8.01" fill="#d2c5dd" stroke="none" stroke-width="0.5"/>
<rect x="177.37" y="335.45" width="2.02" height="8.01" fill="#c8b5d2" stroke="none" stroke-width="0.5"/>
<rect x="179.33" y="335.45" width="1.92" height="8.01" fill="#b99ec5" stroke="none" stroke-width="0.5"/>
<rect x="181.20" y="335.45" width="1.25" height="8.01" fill="#a98dbc" stroke="none" stroke-width="0.5"/>
<rect x="182.39" y="335.45" width="1.63" height="8.01" fill="#8f74b2" stroke="none" stroke-width="0.5"/>
<rect x="183.96" y="335.45" width="1.42" height="8.01" fill="#baa3ce" stroke="none" stroke-width="0.5"/>
<rect x="185.33" y="335.45" width="1.00" height="8.01" fill="#bda0c8" stroke="none" stroke-width="0.5"/>
<rect x="186.26" y="335.45" width="1.00" height="8.01" fill="#d2b7d0" stroke="none" stroke-width="0.5"/>
<rect x="187.20" y="335.45" width="1.32" height="8.01" fill="#db9eaa" stroke="none" stroke-width="0.5"/>
<rect x="188.46" y="335.45" width="1.30" height="8.01" fill="#c8b6d4" stroke="none" stroke-width="0.5"/>
<rect x="189.70" y="335.45" width="1.86" height="8.01" fill="#b5a4ce" stroke="none" stroke-width="0.5"/>
<rect x="191.50" y="335.45" width="2.20" height="8.01" fill="#c1a4c6" stroke="none" stroke-width="0.5"/>
<rect x="193.64" y="335.45" width="1.54" height="8.01" fill="#efdde6" stroke="none" stroke-width="0.5"/>
<rect x="195.13" y="335.45" width="2.18" height="8.01" fill="#d9a6b2" stroke="none" stroke-width="0.5"/>
<rect x="197.24" y="335.45" width="2.24" height="8.01" fill="#cdb3cf" stroke="none" stroke-width="0.5"/>
<rect x="199.43" y="335.45" width="2.20" height="8.01" fill="#dabed2" stroke="none" stroke-width="0.5"/>
<rect x="201.57" y="335.45" width="1.43" height="8.01" fill="#cb93aa" stroke="none" stroke-width="0.5"/>
<rect x="202.94" y="335.45" width="1.25" height="8.01" fill="#9b78ae" stroke="none" stroke-width="0.5"/>
<rect x="204.13" y="335.45" width="1.25" height="8.01" fill="#e4cad7" stroke="none" stroke-width="0.5"/>
<rect x="205.33" y="335.45" width="1.22" height="8.01" fill="#be9bbf" stroke="none" stroke-width="0.5"/>
<rect x="206.48" y="335.45" width="1.23" height="8.01" fill="#cfa2ba" stroke="none" stroke-width="0.5"/>
<rect x="207.65" y="335.45" width="1.77" height="8.01" fill="#8873af" stroke="none" stroke-width="0.5"/>
<rect x="209.36" y="335.45" width="2.13" height="8.01" fill="#b692b8" stroke="none" stroke-width="0.5"/>
<rect x="211.43" y="335.45" width="1.93" height="8.01" fill="#e6cfdc" stroke="none" stroke-width="0.5"/>
<text x="214.70" y="340.32" font-size="2.5" text-anchor="start" fill="#555">VIM</text>
<rect x="108.20" y="343.40" width="1.17" height="8.01" fill="#ed958b" stroke="none" stroke-width="0.5"/>
<rect x="109.31" y="343.40" width="1.40" height="8.01" fill="#edced3" stroke="none" stroke-width="0.5"/>
<rect x="110.65" y="343.40" width="1.03" height="8.01" fill="#d4a1b2" stroke="none" stroke-width="0.5"/>
<rect x="111.62" y="343.40" width="0.96" height="8.01" fill="#eed1d7" stroke="none" stroke-width="0.5"/>
<rect x="112.52" y="343.40" width="1.16" height="8.01" fill="#ddaebc" stroke="none" stroke-width="0.5"/>
<rect x="113.62" y="343.40" width="1.09" height="8.01" fill="#e09ba1" stroke="none" stroke-width="0.5"/>
<rect x="114.65" y="343.40" width="1.43" height="8.01" fill="#dca9b5" stroke="none" stroke-width="0.5"/>
<rect x="116.02" y="343.40" width="0.99" height="8.01" fill="#e27670" stroke="none" stroke-width="0.5"/>
<rect x="116.96" y="343.40" width="2.10" height="8.01" fill="#edc0c1" stroke="none" stroke-width="0.5"/>
<rect x="118.99" y="343.40" width="1.76" height="8.01" fill="#c390a7" stroke="none" stroke-width="0.5"/>
<rect x="120.69" y="343.40" width="1.15" height="8.01" fill="#e0a6ad" stroke="none" stroke-width="0.5"/>
<rect x="121.78" y="343.40" width="1.29" height="8.01" fill="#f1a59c" stroke="none" stroke-width="0.5"/>
<rect x="123.01" y="343.40" width="1.41" height="8.01" fill="#c69ab5" stroke="none" stroke-width="0.5"/>
<rect x="124.36" y="343.40" width="1.43" height="8.01" fill="#ef9a91" stroke="none" stroke-width="0.5"/>
<rect x="125.74" y="343.40" width="1.12" height="8.01" fill="#ba99bd" stroke="none" stroke-width="0.5"/>
<rect x="126.80" y="343.40" width="2.06" height="8.01" fill="#d8bcd1" stroke="none" stroke-width="0.5"/>
<rect x="128.80" y="343.40" width="2.25" height="8.01" fill="#e5b6bc" stroke="none" stroke-width="0.5"/>
<rect x="130.99" y="343.40" width="1.57" height="8.01" fill="#cba7c1" stroke="none" stroke-width="0.5"/>
<rect x="132.50" y="343.40" width="1.59" height="8.01" fill="#e9c0c5" stroke="none" stroke-width="0.5"/>
<rect x="134.03" y="343.40" width="1.07" height="8.01" fill="#dcb9c7" stroke="none" stroke-width="0.5"/>
<rect x="135.04" y="343.40" width="1.09" height="8.01" fill="#dea9b3" stroke="none" stroke-width="0.5"/>
<rect x="136.07" y="343.40" width="1.41" height="8.01" fill="#cfa5bb" stroke="none" stroke-width="0.5"/>
<rect x="137.42" y="343.40" width="1.30" height="8.01" fill="#c89fb8" stroke="none" stroke-width="0.5"/>
<rect x="138.66" y="343.40" width="2.04" height="8.01" fill="#eaacaa" stroke="none" stroke-width="0.5"/>
<rect x="140.64" y="343.40" width="1.17" height="8.01" fill="#c7a7c4" stroke="none" stroke-width="0.5"/>
<rect x="141.75" y="343.40" width="0.99" height="8.01" fill="#e7756a" stroke="none" stroke-width="0.5"/>
<rect x="142.68" y="343.40" width="2.20" height="8.01" fill="#ebc2c6" stroke="none" stroke-width="0.5"/>
<rect x="144.81" y="343.40" width="1.65" height="8.01" fill="#f0aba6" stroke="none" stroke-width="0.5"/>
<rect x="146.40" y="343.40" width="1.15" height="8.01" fill="#d99ca7" stroke="none" stroke-width="0.5"/>
<rect x="147.49" y="343.40" width="1.67" height="8.01" fill="#cc9caf" stroke="none" stroke-width="0.5"/>
<rect x="149.10" y="343.40" width="1.00" height="8.01" fill="#a589ba" stroke="none" stroke-width="0.5"/>
<rect x="150.03" y="343.40" width="1.65" height="8.01" fill="#a2638b" stroke="none" stroke-width="0.5"/>
<rect x="151.62" y="343.40" width="2.23" height="8.01" fill="#ebaaa9" stroke="none" stroke-width="0.5"/>
<rect x="153.79" y="343.40" width="2.08" height="8.01" fill="#dd7878" stroke="none" stroke-width="0.5"/>
<rect x="155.81" y="343.40" width="1.87" height="8.01" fill="#b69ec6" stroke="none" stroke-width="0.5"/>
<rect x="157.62" y="343.40" width="1.30" height="8.01" fill="#eebebd" stroke="none" stroke-width="0.5"/>
<rect x="158.86" y="343.40" width="1.44" height="8.01" fill="#e5c9d2" stroke="none" stroke-width="0.5"/>
<rect x="160.23" y="343.40" width="1.18" height="8.01" fill="#dfacb5" stroke="none" stroke-width="0.5"/>
<rect x="161.35" y="343.40" width="1.96" height="8.01" fill="#c3b5db" stroke="none" stroke-width="0.5"/>
<rect x="163.26" y="343.40" width="1.65" height="8.01" fill="#bb9fc4" stroke="none" stroke-width="0.5"/>
<rect x="164.85" y="343.40" width="1.97" height="8.01" fill="#b987ab" stroke="none" stroke-width="0.5"/>
<rect x="166.76" y="343.40" width="1.39" height="8.01" fill="#ac9ece" stroke="none" stroke-width="0.5"/>
<rect x="168.09" y="343.40" width="1.25" height="8.01" fill="#a48dbe" stroke="none" stroke-width="0.5"/>
<rect x="169.28" y="343.40" width="2.01" height="8.01" fill="#e3b0b7" stroke="none" stroke-width="0.5"/>
<rect x="171.23" y="343.40" width="2.24" height="8.01" fill="#d4b2c7" stroke="none" stroke-width="0.5"/>
<rect x="173.41" y="343.40" width="2.07" height="8.01" fill="#a087bf" stroke="none" stroke-width="0.5"/>
<rect x="175.42" y="343.40" width="2.01" height="8.01" fill="#c0a8cf" stroke="none" stroke-width="0.5"/>
<rect x="177.37" y="343.40" width="2.02" height="8.01" fill="#cca5be" stroke="none" stroke-width="0.5"/>
<rect x="179.33" y="343.40" width="1.92" height="8.01" fill="#e9bfc5" stroke="none" stroke-width="0.5"/>
<rect x="181.20" y="343.40" width="1.25" height="8.01" fill="#e4cbd7" stroke="none" stroke-width="0.5"/>
<rect x="182.39" y="343.40" width="1.63" height="8.01" fill="#b197c2" stroke="none" stroke-width="0.5"/>
<rect x="183.96" y="343.40" width="1.42" height="8.01" fill="#d1a8be" stroke="none" stroke-width="0.5"/>
<rect x="185.33" y="343.40" width="1.00" height="8.01" fill="#927cbd" stroke="none" stroke-width="0.5"/>
<rect x="186.26" y="343.40" width="1.00" height="8.01" fill="#eacdd6" stroke="none" stroke-width="0.5"/>
<rect x="187.20" y="343.40" width="1.32" height="8.01" fill="#d6a2ad" stroke="none" stroke-width="0.5"/>
<rect x="188.46" y="343.40" width="1.30" height="8.01" fill="#eabec2" stroke="none" stroke-width="0.5"/>
<rect x="189.70" y="343.40" width="1.86" height="8.01" fill="#ae85af" stroke="none" stroke-width="0.5"/>
<rect x="191.50" y="343.40" width="2.20" height="8.01" fill="#c3b1d6" stroke="none" stroke-width="0.5"/>
<rect x="193.64" y="343.40" width="1.54" height="8.01" fill="#b98dae" stroke="none" stroke-width="0.5"/>
<rect x="195.13" y="343.40" width="2.18" height="8.01" fill="#c79db7" stroke="none" stroke-width="0.5"/>
<rect x="197.24" y="343.40" width="2.24" height="8.01" fill="#d8a4b2" stroke="none" stroke-width="0.5"/>
<rect x="199.43" y="343.40" width="2.20" height="8.01" fill="#e7c9d3" stroke="none" stroke-width="0.5"/>
<rect x="201.57" y="343.40" width="1.43" height="8.01" fill="#d7c1d7" stroke="none" stroke-width="0.5"/>
<rect x="202.94" y="343.40" width="1.25" height="8.01" fill="#b294bd" stroke="none" stroke-width="0.5"/>
<rect x="204.13" y="343.40" width="1.25" height="8.01" fill="#dbb3c0" stroke="none" stroke-width="0.5"/>
<rect x="205.33" y="343.40" width="1.22" height="8.01" fill="#b8a9d5" stroke="none" stroke-width="0.5"/>
<rect x="206.48" y="343.40" width="1.23" height="8.01" fill="#d09ead" stroke="none" stroke-width="0.5"/>
<rect x="207.65" y="343.40" width="1.77" height="8.01" fill="#8c79bd" stroke="none" stroke-width="0.5"/>
<rect x="209.36" y="343.40" width="2.13" height="8.01" fill="#ae95c4" stroke="none" stroke-width="0.5"/>
<rect x="211.43" y="343.40" width="1.93" height="8.01" fill="#d4adc0" stroke="none" stroke-width="0.5"/>
<text x="214.70" y="348.28" font-size="2.5" text-anchor="start" fill="#555">ROGS</text>
<rect x="108.20" y="351.35" width="1.17" height="8.01" fill="#f9d2cd" stroke="none" stroke-width="0.5"/>
<rect x="109.31" y="351.35" width="1.40" height="8.01" fill="#dfc6d6" stroke="none" stroke-width="0.5"/>
<rect x="110.65" y="351.35" width="1.03" height="8.01" fill="#dfd0e3" stroke="none" stroke-width="0.5"/>
<rect x="111.62" y="351.35" width="0.96" height="8.01" fill="#f7d1ce" stroke="none" stroke-width="0.5"/>
<rect x="112.52" y="351.35" width="1.16" height="8.01" fill="#f7d3cf" stroke="none" stroke-width="0.5"/>
<rect x="113.62" y="351.35" width="1.09" height="8.01" fill="#f7d2cf" stroke="none" stroke-width="0.5"/>
<rect x="114.65" y="351.35" width="1.43" height="8.01" fill="#e7d4e2" stroke="none" stroke-width="0.5"/>
<rect x="116.02" y="351.35" width="0.99" height="8.01" fill="#f9d2ce" stroke="none" stroke-width="0.5"/>
<rect x="116.96" y="351.35" width="2.10" height="8.01" fill="#f2cccd" stroke="none" stroke-width="0.5"/>
<rect x="118.99" y="351.35" width="1.76" height="8.01" fill="#eee1eb" stroke="none" stroke-width="0.5"/>
<rect x="120.69" y="351.35" width="1.15" height="8.01" fill="#f5e1e4" stroke="none" stroke-width="0.5"/>
<rect x="121.78" y="351.35" width="1.29" height="8.01" fill="#f6d2d0" stroke="none" stroke-width="0.5"/>
<rect x="123.01" y="351.35" width="1.41" height="8.01" fill="#e0cddf" stroke="none" stroke-width="0.5"/>
<rect x="124.36" y="351.35" width="1.43" height="8.01" fill="#f1aaa1" stroke="none" stroke-width="0.5"/>
<rect x="125.74" y="351.35" width="1.12" height="8.01" fill="#f6c9c4" stroke="none" stroke-width="0.5"/>
<rect x="126.80" y="351.35" width="2.06" height="8.01" fill="#f3e2e7" stroke="none" stroke-width="0.5"/>
<rect x="128.80" y="351.35" width="2.25" height="8.01" fill="#efd7de" stroke="none" stroke-width="0.5"/>
<rect x="130.99" y="351.35" width="1.57" height="8.01" fill="#f0dde4" stroke="none" stroke-width="0.5"/>
<rect x="132.50" y="351.35" width="1.59" height="8.01" fill="#ecccd2" stroke="none" stroke-width="0.5"/>
<rect x="134.03" y="351.35" width="1.07" height="8.01" fill="#f2d3d7" stroke="none" stroke-width="0.5"/>
<rect x="135.04" y="351.35" width="1.09" height="8.01" fill="#ddbfd0" stroke="none" stroke-width="0.5"/>
<rect x="136.07" y="351.35" width="1.41" height="8.01" fill="#e6d7e6" stroke="none" stroke-width="0.5"/>
<rect x="137.42" y="351.35" width="1.30" height="8.01" fill="#ecd0d7" stroke="none" stroke-width="0.5"/>
<rect x="138.66" y="351.35" width="2.04" height="8.01" fill="#ead2dc" stroke="none" stroke-width="0.5"/>
<rect x="140.64" y="351.35" width="1.17" height="8.01" fill="#e0c7d8" stroke="none" stroke-width="0.5"/>
<rect x="141.75" y="351.35" width="0.99" height="8.01" fill="#f5c0ba" stroke="none" stroke-width="0.5"/>
<rect x="142.68" y="351.35" width="2.20" height="8.01" fill="#e7ced9" stroke="none" stroke-width="0.5"/>
<rect x="144.81" y="351.35" width="1.65" height="8.01" fill="#f2d2d3" stroke="none" stroke-width="0.5"/>
<rect x="146.40" y="351.35" width="1.15" height="8.01" fill="#efdde4" stroke="none" stroke-width="0.5"/>
<rect x="147.49" y="351.35" width="1.67" height="8.01" fill="#ebd1d9" stroke="none" stroke-width="0.5"/>
<rect x="149.10" y="351.35" width="1.00" height="8.01" fill="#c2acd0" stroke="none" stroke-width="0.5"/>
<rect x="150.03" y="351.35" width="1.65" height="8.01" fill="#f7dad9" stroke="none" stroke-width="0.5"/>
<rect x="151.62" y="351.35" width="2.23" height="8.01" fill="#ebd3dc" stroke="none" stroke-width="0.5"/>
<rect x="153.79" y="351.35" width="2.08" height="8.01" fill="#e8bdc3" stroke="none" stroke-width="0.5"/>
<rect x="155.81" y="351.35" width="1.87" height="8.01" fill="#ead0da" stroke="none" stroke-width="0.5"/>
<rect x="157.62" y="351.35" width="1.30" height="8.01" fill="#ecc9ce" stroke="none" stroke-width="0.5"/>
<rect x="158.86" y="351.35" width="1.44" height="8.01" fill="#d8cbe2" stroke="none" stroke-width="0.5"/>
<rect x="160.23" y="351.35" width="1.18" height="8.01" fill="#f6dee0" stroke="none" stroke-width="0.5"/>
<rect x="161.35" y="351.35" width="1.96" height="8.01" fill="#e8d0db" stroke="none" stroke-width="0.5"/>
<rect x="163.26" y="351.35" width="1.65" height="8.01" fill="#efd0d4" stroke="none" stroke-width="0.5"/>
<rect x="164.85" y="351.35" width="1.97" height="8.01" fill="#e2d0e1" stroke="none" stroke-width="0.5"/>
<rect x="166.76" y="351.35" width="1.39" height="8.01" fill="#e7c4cc" stroke="none" stroke-width="0.5"/>
<rect x="168.09" y="351.35" width="1.25" height="8.01" fill="#e5c2cb" stroke="none" stroke-width="0.5"/>
<rect x="169.28" y="351.35" width="2.01" height="8.01" fill="#dccfe5" stroke="none" stroke-width="0.5"/>
<rect x="171.23" y="351.35" width="2.24" height="8.01" fill="#f0d5da" stroke="none" stroke-width="0.5"/>
<rect x="173.41" y="351.35" width="2.07" height="8.01" fill="#e9d4df" stroke="none" stroke-width="0.5"/>
<rect x="175.42" y="351.35" width="2.01" height="8.01" fill="#f5e1e4" stroke="none" stroke-width="0.5"/>
<rect x="177.37" y="351.35" width="2.02" height="8.01" fill="#dec8da" stroke="none" stroke-width="0.5"/>
<rect x="179.33" y="351.35" width="1.92" height="8.01" fill="#eddae3" stroke="none" stroke-width="0.5"/>
<rect x="181.20" y="351.35" width="1.25" height="8.01" fill="#d0c3e2" stroke="none" stroke-width="0.5"/>
<rect x="182.39" y="351.35" width="1.63" height="8.01" fill="#d4bcd4" stroke="none" stroke-width="0.5"/>
<rect x="183.96" y="351.35" width="1.42" height="8.01" fill="#cca9c3" stroke="none" stroke-width="0.5"/>
<rect x="185.33" y="351.35" width="1.00" height="8.01" fill="#d3c9e5" stroke="none" stroke-width="0.5"/>
<rect x="186.26" y="351.35" width="1.00" height="8.01" fill="#dfc2d2" stroke="none" stroke-width="0.5"/>
<rect x="187.20" y="351.35" width="1.32" height="8.01" fill="#f3e0e5" stroke="none" stroke-width="0.5"/>
<rect x="188.46" y="351.35" width="1.30" height="8.01" fill="#e9c5cd" stroke="none" stroke-width="0.5"/>
<rect x="189.70" y="351.35" width="1.86" height="8.01" fill="#dec9dd" stroke="none" stroke-width="0.5"/>
<rect x="191.50" y="351.35" width="2.20" height="8.01" fill="#eedee6" stroke="none" stroke-width="0.5"/>
<rect x="193.64" y="351.35" width="1.54" height="8.01" fill="#e6d2df" stroke="none" stroke-width="0.5"/>
<rect x="195.13" y="351.35" width="2.18" height="8.01" fill="#ebcbd1" stroke="none" stroke-width="0.5"/>
<rect x="197.24" y="351.35" width="2.24" height="8.01" fill="#e1bfcb" stroke="none" stroke-width="0.5"/>
<rect x="199.43" y="351.35" width="2.20" height="8.01" fill="#e3b8c1" stroke="none" stroke-width="0.5"/>
<rect x="201.57" y="351.35" width="1.43" height="8.01" fill="#e8d3e0" stroke="none" stroke-width="0.5"/>
<rect x="202.94" y="351.35" width="1.25" height="8.01" fill="#e5dbeb" stroke="none" stroke-width="0.5"/>
<rect x="204.13" y="351.35" width="1.25" height="8.01" fill="#e3d1e2" stroke="none" stroke-width="0.5"/>
<rect x="205.33" y="351.35" width="1.22" height="8.01" fill="#e9d5e1" stroke="none" stroke-width="0.5"/>
<rect x="206.48" y="351.35" width="1.23" height="8.01" fill="#f0d7dc" stroke="none" stroke-width="0.5"/>
<rect x="207.65" y="351.35" width="1.77" height="8.01" fill="#f6e7eb" stroke="none" stroke-width="0.5"/>
<rect x="209.36" y="351.35" width="2.13" height="8.01" fill="#ede0ea" stroke="none" stroke-width="0.5"/>
<rect x="211.43" y="351.35" width="1.93" height="8.01" fill="#e7cdd8" stroke="none" stroke-width="0.5"/>
<text x="214.70" y="356.23" font-size="2.5" text-anchor="start" fill="#555">NOS2</text>
<rect x="108.20" y="359.30" width="1.17" height="8.01" fill="#e8a8a8" stroke="none" stroke-width="0.5"/>
<rect x="109.31" y="359.30" width="1.40" height="8.01" fill="#e8bec4" stroke="none" stroke-width="0.5"/>
<rect x="110.65" y="359.30" width="1.03" height="8.01" fill="#ebb6b6" stroke="none" stroke-width="0.5"/>
<rect x="111.62" y="359.30" width="0.96" height="8.01" fill="#e59e9e" stroke="none" stroke-width="0.5"/>
<rect x="112.52" y="359.30" width="1.16" height="8.01" fill="#eb9791" stroke="none" stroke-width="0.5"/>
<rect x="113.62" y="359.30" width="1.09" height="8.01" fill="#f2b6b0" stroke="none" stroke-width="0.5"/>
<rect x="114.65" y="359.30" width="1.43" height="8.01" fill="#bc8bab" stroke="none" stroke-width="0.5"/>
<rect x="116.02" y="359.30" width="0.99" height="8.01" fill="#f0b2ad" stroke="none" stroke-width="0.5"/>
<rect x="116.96" y="359.30" width="2.10" height="8.01" fill="#c6899c" stroke="none" stroke-width="0.5"/>
<rect x="118.99" y="359.30" width="1.76" height="8.01" fill="#efb7b5" stroke="none" stroke-width="0.5"/>
<rect x="120.69" y="359.30" width="1.15" height="8.01" fill="#efc5c6" stroke="none" stroke-width="0.5"/>
<rect x="121.78" y="359.30" width="1.29" height="8.01" fill="#e7abac" stroke="none" stroke-width="0.5"/>
<rect x="123.01" y="359.30" width="1.41" height="8.01" fill="#d3a2b3" stroke="none" stroke-width="0.5"/>
<rect x="124.36" y="359.30" width="1.43" height="8.01" fill="#f4a59a" stroke="none" stroke-width="0.5"/>
<rect x="125.74" y="359.30" width="1.12" height="8.01" fill="#d68d95" stroke="none" stroke-width="0.5"/>
<rect x="126.80" y="359.30" width="2.06" height="8.01" fill="#c389a0" stroke="none" stroke-width="0.5"/>
<rect x="128.80" y="359.30" width="2.25" height="8.01" fill="#e1c4d1" stroke="none" stroke-width="0.5"/>
<rect x="130.99" y="359.30" width="1.57" height="8.01" fill="#de9ca3" stroke="none" stroke-width="0.5"/>
<rect x="132.50" y="359.30" width="1.59" height="8.01" fill="#eac4ca" stroke="none" stroke-width="0.5"/>
<rect x="134.03" y="359.30" width="1.07" height="8.01" fill="#ce91a3" stroke="none" stroke-width="0.5"/>
<rect x="135.04" y="359.30" width="1.09" height="8.01" fill="#cca8bf" stroke="none" stroke-width="0.5"/>
<rect x="136.07" y="359.30" width="1.41" height="8.01" fill="#cc9eb3" stroke="none" stroke-width="0.5"/>
<rect x="137.42" y="359.30" width="1.30" height="8.01" fill="#dc969d" stroke="none" stroke-width="0.5"/>
<rect x="138.66" y="359.30" width="2.04" height="8.01" fill="#ecb0ae" stroke="none" stroke-width="0.5"/>
<rect x="140.64" y="359.30" width="1.17" height="8.01" fill="#e7bfc7" stroke="none" stroke-width="0.5"/>
<rect x="141.75" y="359.30" width="0.99" height="8.01" fill="#dc9699" stroke="none" stroke-width="0.5"/>
<rect x="142.68" y="359.30" width="2.20" height="8.01" fill="#e1a1a7" stroke="none" stroke-width="0.5"/>
<rect x="144.81" y="359.30" width="1.65" height="8.01" fill="#eaabab" stroke="none" stroke-width="0.5"/>
<rect x="146.40" y="359.30" width="1.15" height="8.01" fill="#eea29c" stroke="none" stroke-width="0.5"/>
<rect x="147.49" y="359.30" width="1.67" height="8.01" fill="#eaadac" stroke="none" stroke-width="0.5"/>
<rect x="149.10" y="359.30" width="1.00" height="8.01" fill="#937ebe" stroke="none" stroke-width="0.5"/>
<rect x="150.03" y="359.30" width="1.65" height="8.01" fill="#e1a0a6" stroke="none" stroke-width="0.5"/>
<rect x="151.62" y="359.30" width="2.23" height="8.01" fill="#efbfbe" stroke="none" stroke-width="0.5"/>
<rect x="153.79" y="359.30" width="2.08" height="8.01" fill="#ebaaa7" stroke="none" stroke-width="0.5"/>
<rect x="155.81" y="359.30" width="1.87" height="8.01" fill="#d0bcd5" stroke="none" stroke-width="0.5"/>
<rect x="157.62" y="359.30" width="1.30" height="8.01" fill="#dcaab6" stroke="none" stroke-width="0.5"/>
<rect x="158.86" y="359.30" width="1.44" height="8.01" fill="#d0adc4" stroke="none" stroke-width="0.5"/>
<rect x="160.23" y="359.30" width="1.18" height="8.01" fill="#c2aacb" stroke="none" stroke-width="0.5"/>
<rect x="161.35" y="359.30" width="1.96" height="8.01" fill="#a38bbd" stroke="none" stroke-width="0.5"/>
<rect x="163.26" y="359.30" width="1.65" height="8.01" fill="#ccb6d0" stroke="none" stroke-width="0.5"/>
<rect x="164.85" y="359.30" width="1.97" height="8.01" fill="#c58ea5" stroke="none" stroke-width="0.5"/>
<rect x="166.76" y="359.30" width="1.39" height="8.01" fill="#9d88c3" stroke="none" stroke-width="0.5"/>
<rect x="168.09" y="359.30" width="1.25" height="8.01" fill="#e2c6d2" stroke="none" stroke-width="0.5"/>
<rect x="169.28" y="359.30" width="2.01" height="8.01" fill="#c7a0be" stroke="none" stroke-width="0.5"/>
<rect x="171.23" y="359.30" width="2.24" height="8.01" fill="#cdaec8" stroke="none" stroke-width="0.5"/>
<rect x="173.41" y="359.30" width="2.07" height="8.01" fill="#d3bad3" stroke="none" stroke-width="0.5"/>
<rect x="175.42" y="359.30" width="2.01" height="8.01" fill="#896baf" stroke="none" stroke-width="0.5"/>
<rect x="177.37" y="359.30" width="2.02" height="8.01" fill="#c6a0bc" stroke="none" stroke-width="0.5"/>
<rect x="179.33" y="359.30" width="1.92" height="8.01" fill="#c790a9" stroke="none" stroke-width="0.5"/>
<rect x="181.20" y="359.30" width="1.25" height="8.01" fill="#eacad1" stroke="none" stroke-width="0.5"/>
<rect x="182.39" y="359.30" width="1.63" height="8.01" fill="#9b7baf" stroke="none" stroke-width="0.5"/>
<rect x="183.96" y="359.30" width="1.42" height="8.01" fill="#dabacd" stroke="none" stroke-width="0.5"/>
<rect x="185.33" y="359.30" width="1.00" height="8.01" fill="#bfabcf" stroke="none" stroke-width="0.5"/>
<rect x="186.26" y="359.30" width="1.00" height="8.01" fill="#a081b4" stroke="none" stroke-width="0.5"/>
<rect x="187.20" y="359.30" width="1.32" height="8.01" fill="#d9adbe" stroke="none" stroke-width="0.5"/>
<rect x="188.46" y="359.30" width="1.30" height="8.01" fill="#c6a7c6" stroke="none" stroke-width="0.5"/>
<rect x="189.70" y="359.30" width="1.86" height="8.01" fill="#ab9dd0" stroke="none" stroke-width="0.5"/>
<rect x="191.50" y="359.30" width="2.20" height="8.01" fill="#c4b0d5" stroke="none" stroke-width="0.5"/>
<rect x="193.64" y="359.30" width="1.54" height="8.01" fill="#ddb7c7" stroke="none" stroke-width="0.5"/>
<rect x="195.13" y="359.30" width="2.18" height="8.01" fill="#c49ab7" stroke="none" stroke-width="0.5"/>
<rect x="197.24" y="359.30" width="2.24" height="8.01" fill="#c7b1d2" stroke="none" stroke-width="0.5"/>
<rect x="199.43" y="359.30" width="2.20" height="8.01" fill="#e6bdc4" stroke="none" stroke-width="0.5"/>
<rect x="201.57" y="359.30" width="1.43" height="8.01" fill="#c4a6c7" stroke="none" stroke-width="0.5"/>
<rect x="202.94" y="359.30" width="1.25" height="8.01" fill="#d4a8bb" stroke="none" stroke-width="0.5"/>
<rect x="204.13" y="359.30" width="1.25" height="8.01" fill="#ce98a7" stroke="none" stroke-width="0.5"/>
<rect x="205.33" y="359.30" width="1.22" height="8.01" fill="#cfacc4" stroke="none" stroke-width="0.5"/>
<rect x="206.48" y="359.30" width="1.23" height="8.01" fill="#dabcd0" stroke="none" stroke-width="0.5"/>
<rect x="207.65" y="359.30" width="1.77" height="8.01" fill="#d5c6e0" stroke="none" stroke-width="0.5"/>
<rect x="209.36" y="359.30" width="2.13" height="8.01" fill="#b8a2c9" stroke="none" stroke-width="0.5"/>
<rect x="211.43" y="359.30" width="1.93" height="8.01" fill="#dbacb9" stroke="none" stroke-width="0.5"/>
<text x="214.70" y="364.18" font-size="2.5" text-anchor="start" fill="#555">ENPP1</text>
<rect x="108.20" y="367.25" width="1.17" height="8.01" fill="#efaba4" stroke="none" stroke-width="0.5"/>
<rect x="109.31" y="367.25" width="1.40" height="8.01" fill="#b685a8" stroke="none" stroke-width="0.5"/>
<rect x="110.65" y="367.25" width="1.03" height="8.01" fill="#efd1d6" stroke="none" stroke-width="0.5"/>
<rect x="111.62" y="367.25" width="0.96" height="8.01" fill="#cba2ba" stroke="none" stroke-width="0.5"/>
<rect x="112.52" y="367.25" width="1.16" height="8.01" fill="#dea5af" stroke="none" stroke-width="0.5"/>
<rect x="113.62" y="367.25" width="1.09" height="8.01" fill="#e4bac3" stroke="none" stroke-width="0.5"/>
<rect x="114.65" y="367.25" width="1.43" height="8.01" fill="#e3c1cd" stroke="none" stroke-width="0.5"/>
<rect x="116.02" y="367.25" width="0.99" height="8.01" fill="#e89f9c" stroke="none" stroke-width="0.5"/>
<rect x="116.96" y="367.25" width="2.10" height="8.01" fill="#e7cbd6" stroke="none" stroke-width="0.5"/>
<rect x="118.99" y="367.25" width="1.76" height="8.01" fill="#cca9c2" stroke="none" stroke-width="0.5"/>
<rect x="120.69" y="367.25" width="1.15" height="8.01" fill="#dfc0cf" stroke="none" stroke-width="0.5"/>
<rect x="121.78" y="367.25" width="1.29" height="8.01" fill="#e3b2b8" stroke="none" stroke-width="0.5"/>
<rect x="123.01" y="367.25" width="1.41" height="8.01" fill="#d2b8d1" stroke="none" stroke-width="0.5"/>
<rect x="124.36" y="367.25" width="1.43" height="8.01" fill="#e79b99" stroke="none" stroke-width="0.5"/>
<rect x="125.74" y="367.25" width="1.12" height="8.01" fill="#e0b5c0" stroke="none" stroke-width="0.5"/>
<rect x="126.80" y="367.25" width="2.06" height="8.01" fill="#cfbedd" stroke="none" stroke-width="0.5"/>
<rect x="128.80" y="367.25" width="2.25" height="8.01" fill="#f0cbcd" stroke="none" stroke-width="0.5"/>
<rect x="130.99" y="367.25" width="1.57" height="8.01" fill="#ebb5b6" stroke="none" stroke-width="0.5"/>
<rect x="132.50" y="367.25" width="1.59" height="8.01" fill="#eabcc0" stroke="none" stroke-width="0.5"/>
<rect x="134.03" y="367.25" width="1.07" height="8.01" fill="#d09db0" stroke="none" stroke-width="0.5"/>
<rect x="135.04" y="367.25" width="1.09" height="8.01" fill="#cca0b8" stroke="none" stroke-width="0.5"/>
<rect x="136.07" y="367.25" width="1.41" height="8.01" fill="#d3b7ce" stroke="none" stroke-width="0.5"/>
<rect x="137.42" y="367.25" width="1.30" height="8.01" fill="#e5b1b6" stroke="none" stroke-width="0.5"/>
<rect x="138.66" y="367.25" width="2.04" height="8.01" fill="#e9b5b8" stroke="none" stroke-width="0.5"/>
<rect x="140.64" y="367.25" width="1.17" height="8.01" fill="#c792a9" stroke="none" stroke-width="0.5"/>
<rect x="141.75" y="367.25" width="0.99" height="8.01" fill="#eebcbe" stroke="none" stroke-width="0.5"/>
<rect x="142.68" y="367.25" width="2.20" height="8.01" fill="#deb8c6" stroke="none" stroke-width="0.5"/>
<rect x="144.81" y="367.25" width="1.65" height="8.01" fill="#e6a9aa" stroke="none" stroke-width="0.5"/>
<rect x="146.40" y="367.25" width="1.15" height="8.01" fill="#d2aec3" stroke="none" stroke-width="0.5"/>
<rect x="147.49" y="367.25" width="1.67" height="8.01" fill="#f1c2c0" stroke="none" stroke-width="0.5"/>
<rect x="149.10" y="367.25" width="1.00" height="8.01" fill="#ccb4d1" stroke="none" stroke-width="0.5"/>
<rect x="150.03" y="367.25" width="1.65" height="8.01" fill="#edb3b1" stroke="none" stroke-width="0.5"/>
<rect x="151.62" y="367.25" width="2.23" height="8.01" fill="#d5acbb" stroke="none" stroke-width="0.5"/>
<rect x="153.79" y="367.25" width="2.08" height="8.01" fill="#dbb6c6" stroke="none" stroke-width="0.5"/>
<rect x="155.81" y="367.25" width="1.87" height="8.01" fill="#d6bed4" stroke="none" stroke-width="0.5"/>
<rect x="157.62" y="367.25" width="1.30" height="8.01" fill="#ddb1bd" stroke="none" stroke-width="0.5"/>
<rect x="158.86" y="367.25" width="1.44" height="8.01" fill="#cfa3ba" stroke="none" stroke-width="0.5"/>
<rect x="160.23" y="367.25" width="1.18" height="8.01" fill="#eeced1" stroke="none" stroke-width="0.5"/>
<rect x="161.35" y="367.25" width="1.96" height="8.01" fill="#ccacc3" stroke="none" stroke-width="0.5"/>
<rect x="163.26" y="367.25" width="1.65" height="8.01" fill="#c7b2d4" stroke="none" stroke-width="0.5"/>
<rect x="164.85" y="367.25" width="1.97" height="8.01" fill="#c9a3be" stroke="none" stroke-width="0.5"/>
<rect x="166.76" y="367.25" width="1.39" height="8.01" fill="#9e86c0" stroke="none" stroke-width="0.5"/>
<rect x="168.09" y="367.25" width="1.25" height="8.01" fill="#c9accb" stroke="none" stroke-width="0.5"/>
<rect x="169.28" y="367.25" width="2.01" height="8.01" fill="#b59cc7" stroke="none" stroke-width="0.5"/>
<rect x="171.23" y="367.25" width="2.24" height="8.01" fill="#c695ae" stroke="none" stroke-width="0.5"/>
<rect x="173.41" y="367.25" width="2.07" height="8.01" fill="#b39bc5" stroke="none" stroke-width="0.5"/>
<rect x="175.42" y="367.25" width="2.01" height="8.01" fill="#cdbddd" stroke="none" stroke-width="0.5"/>
<rect x="177.37" y="367.25" width="2.02" height="8.01" fill="#d6bbd1" stroke="none" stroke-width="0.5"/>
<rect x="179.33" y="367.25" width="1.92" height="8.01" fill="#cc8d9b" stroke="none" stroke-width="0.5"/>
<rect x="181.20" y="367.25" width="1.25" height="8.01" fill="#c7a5c2" stroke="none" stroke-width="0.5"/>
<rect x="182.39" y="367.25" width="1.63" height="8.01" fill="#c6a6c4" stroke="none" stroke-width="0.5"/>
<rect x="183.96" y="367.25" width="1.42" height="8.01" fill="#cfa2b5" stroke="none" stroke-width="0.5"/>
<rect x="185.33" y="367.25" width="1.00" height="8.01" fill="#c8b0d1" stroke="none" stroke-width="0.5"/>
<rect x="186.26" y="367.25" width="1.00" height="8.01" fill="#dcc3d5" stroke="none" stroke-width="0.5"/>
<rect x="187.20" y="367.25" width="1.32" height="8.01" fill="#ae8dbc" stroke="none" stroke-width="0.5"/>
<rect x="188.46" y="367.25" width="1.30" height="8.01" fill="#dbc2d6" stroke="none" stroke-width="0.5"/>
<rect x="189.70" y="367.25" width="1.86" height="8.01" fill="#9f7db4" stroke="none" stroke-width="0.5"/>
<rect x="191.50" y="367.25" width="2.20" height="8.01" fill="#c2a7cb" stroke="none" stroke-width="0.5"/>
<rect x="193.64" y="367.25" width="1.54" height="8.01" fill="#d1b6cf" stroke="none" stroke-width="0.5"/>
<rect x="195.13" y="367.25" width="2.18" height="8.01" fill="#bfacd3" stroke="none" stroke-width="0.5"/>
<rect x="197.24" y="367.25" width="2.24" height="8.01" fill="#c7abc8" stroke="none" stroke-width="0.5"/>
<rect x="199.43" y="367.25" width="2.20" height="8.01" fill="#dec1d2" stroke="none" stroke-width="0.5"/>
<rect x="201.57" y="367.25" width="1.43" height="8.01" fill="#ecc4c7" stroke="none" stroke-width="0.5"/>
<rect x="202.94" y="367.25" width="1.25" height="8.01" fill="#d1a6b7" stroke="none" stroke-width="0.5"/>
<rect x="204.13" y="367.25" width="1.25" height="8.01" fill="#c89db7" stroke="none" stroke-width="0.5"/>
<rect x="205.33" y="367.25" width="1.22" height="8.01" fill="#b39dc6" stroke="none" stroke-width="0.5"/>
<rect x="206.48" y="367.25" width="1.23" height="8.01" fill="#debac8" stroke="none" stroke-width="0.5"/>
<rect x="207.65" y="367.25" width="1.77" height="8.01" fill="#c691a6" stroke="none" stroke-width="0.5"/>
<rect x="209.36" y="367.25" width="2.13" height="8.01" fill="#a597cc" stroke="none" stroke-width="0.5"/>
<rect x="211.43" y="367.25" width="1.93" height="8.01" fill="#d6b3c8" stroke="none" stroke-width="0.5"/>
<text x="214.70" y="372.12" font-size="2.5" text-anchor="start" fill="#555">CCDC183B</text>
<rect x="108.20" y="375.20" width="1.17" height="8.01" fill="#e3aaae" stroke="none" stroke-width="0.5"/>
<rect x="109.31" y="375.20" width="1.40" height="8.01" fill="#e3c4d2" stroke="none" stroke-width="0.5"/>
<rect x="110.65" y="375.20" width="1.03" height="8.01" fill="#e3c5d1" stroke="none" stroke-width="0.5"/>
<rect x="111.62" y="375.20" width="0.96" height="8.01" fill="#debcca" stroke="none" stroke-width="0.5"/>
<rect x="112.52" y="375.20" width="1.16" height="8.01" fill="#fbd4ce" stroke="none" stroke-width="0.5"/>
<rect x="113.62" y="375.20" width="1.09" height="8.01" fill="#f3bfba" stroke="none" stroke-width="0.5"/>
<rect x="114.65" y="375.20" width="1.43" height="8.01" fill="#ceb2cc" stroke="none" stroke-width="0.5"/>
<rect x="116.02" y="375.20" width="0.99" height="8.01" fill="#f2b3ab" stroke="none" stroke-width="0.5"/>
<rect x="116.96" y="375.20" width="2.10" height="8.01" fill="#e2bec7" stroke="none" stroke-width="0.5"/>
<rect x="118.99" y="375.20" width="1.76" height="8.01" fill="#e7c2ca" stroke="none" stroke-width="0.5"/>
<rect x="120.69" y="375.20" width="1.15" height="8.01" fill="#e2c2cd" stroke="none" stroke-width="0.5"/>
<rect x="121.78" y="375.20" width="1.29" height="8.01" fill="#ebcbd2" stroke="none" stroke-width="0.5"/>
<rect x="123.01" y="375.20" width="1.41" height="8.01" fill="#cba8c2" stroke="none" stroke-width="0.5"/>
<rect x="124.36" y="375.20" width="1.43" height="8.01" fill="#e9a5a4" stroke="none" stroke-width="0.5"/>
<rect x="125.74" y="375.20" width="1.12" height="8.01" fill="#dbc0d3" stroke="none" stroke-width="0.5"/>
<rect x="126.80" y="375.20" width="2.06" height="8.01" fill="#d4bbd4" stroke="none" stroke-width="0.5"/>
<rect x="128.80" y="375.20" width="2.25" height="8.01" fill="#dfc8da" stroke="none" stroke-width="0.5"/>
<rect x="130.99" y="375.20" width="1.57" height="8.01" fill="#f1caca" stroke="none" stroke-width="0.5"/>
<rect x="132.50" y="375.20" width="1.59" height="8.01" fill="#dfccdf" stroke="none" stroke-width="0.5"/>
<rect x="134.03" y="375.20" width="1.07" height="8.01" fill="#f0d5d9" stroke="none" stroke-width="0.5"/>
<rect x="135.04" y="375.20" width="1.09" height="8.01" fill="#dcbfd1" stroke="none" stroke-width="0.5"/>
<rect x="136.07" y="375.20" width="1.41" height="8.01" fill="#d5bad2" stroke="none" stroke-width="0.5"/>
<rect x="137.42" y="375.20" width="1.30" height="8.01" fill="#d7c0d8" stroke="none" stroke-width="0.5"/>
<rect x="138.66" y="375.20" width="2.04" height="8.01" fill="#f2d8db" stroke="none" stroke-width="0.5"/>
<rect x="140.64" y="375.20" width="1.17" height="8.01" fill="#e0cddf" stroke="none" stroke-width="0.5"/>
<rect x="141.75" y="375.20" width="0.99" height="8.01" fill="#f4c7c5" stroke="none" stroke-width="0.5"/>
<rect x="142.68" y="375.20" width="2.20" height="8.01" fill="#e2c9d7" stroke="none" stroke-width="0.5"/>
<rect x="144.81" y="375.20" width="1.65" height="8.01" fill="#efbab8" stroke="none" stroke-width="0.5"/>
<rect x="146.40" y="375.20" width="1.15" height="8.01" fill="#edbdbf" stroke="none" stroke-width="0.5"/>
<rect x="147.49" y="375.20" width="1.67" height="8.01" fill="#fbd6d0" stroke="none" stroke-width="0.5"/>
<rect x="149.10" y="375.20" width="1.00" height="8.01" fill="#a898cb" stroke="none" stroke-width="0.5"/>
<rect x="150.03" y="375.20" width="1.65" height="8.01" fill="#e1afb8" stroke="none" stroke-width="0.5"/>
<rect x="151.62" y="375.20" width="2.23" height="8.01" fill="#f5c1bb" stroke="none" stroke-width="0.5"/>
<rect x="153.79" y="375.20" width="2.08" height="8.01" fill="#d2b1c7" stroke="none" stroke-width="0.5"/>
<rect x="155.81" y="375.20" width="1.87" height="8.01" fill="#c6a8c5" stroke="none" stroke-width="0.5"/>
<rect x="157.62" y="375.20" width="1.30" height="8.01" fill="#edbec0" stroke="none" stroke-width="0.5"/>
<rect x="158.86" y="375.20" width="1.44" height="8.01" fill="#c8afcf" stroke="none" stroke-width="0.5"/>
<rect x="160.23" y="375.20" width="1.18" height="8.01" fill="#dccee4" stroke="none" stroke-width="0.5"/>
<rect x="161.35" y="375.20" width="1.96" height="8.01" fill="#c1a7cb" stroke="none" stroke-width="0.5"/>
<rect x="163.26" y="375.20" width="1.65" height="8.01" fill="#ae90bc" stroke="none" stroke-width="0.5"/>
<rect x="164.85" y="375.20" width="1.97" height="8.01" fill="#e0becc" stroke="none" stroke-width="0.5"/>
<rect x="166.76" y="375.20" width="1.39" height="8.01" fill="#ceacc7" stroke="none" stroke-width="0.5"/>
<rect x="168.09" y="375.20" width="1.25" height="8.01" fill="#ddb5c3" stroke="none" stroke-width="0.5"/>
<rect x="169.28" y="375.20" width="2.01" height="8.01" fill="#c4a0bf" stroke="none" stroke-width="0.5"/>
<rect x="171.23" y="375.20" width="2.24" height="8.01" fill="#e1c9d8" stroke="none" stroke-width="0.5"/>
<rect x="173.41" y="375.20" width="2.07" height="8.01" fill="#d6b8ce" stroke="none" stroke-width="0.5"/>
<rect x="175.42" y="375.20" width="2.01" height="8.01" fill="#ccb5d4" stroke="none" stroke-width="0.5"/>
<rect x="177.37" y="375.20" width="2.02" height="8.01" fill="#dabed1" stroke="none" stroke-width="0.5"/>
<rect x="179.33" y="375.20" width="1.92" height="8.01" fill="#e2b9c4" stroke="none" stroke-width="0.5"/>
<rect x="181.20" y="375.20" width="1.25" height="8.01" fill="#dbcee2" stroke="none" stroke-width="0.5"/>
<rect x="182.39" y="375.20" width="1.63" height="8.01" fill="#d3bfd9" stroke="none" stroke-width="0.5"/>
<rect x="183.96" y="375.20" width="1.42" height="8.01" fill="#eed5dc" stroke="none" stroke-width="0.5"/>
<rect x="185.33" y="375.20" width="1.00" height="8.01" fill="#b497c3" stroke="none" stroke-width="0.5"/>
<rect x="186.26" y="375.20" width="1.00" height="8.01" fill="#e6d0dd" stroke="none" stroke-width="0.5"/>
<rect x="187.20" y="375.20" width="1.32" height="8.01" fill="#e6c6d2" stroke="none" stroke-width="0.5"/>
<rect x="188.46" y="375.20" width="1.30" height="8.01" fill="#d9b5c7" stroke="none" stroke-width="0.5"/>
<rect x="189.70" y="375.20" width="1.86" height="8.01" fill="#e2d5e8" stroke="none" stroke-width="0.5"/>
<rect x="191.50" y="375.20" width="2.20" height="8.01" fill="#d4b7ce" stroke="none" stroke-width="0.5"/>
<rect x="193.64" y="375.20" width="1.54" height="8.01" fill="#d7c8e1" stroke="none" stroke-width="0.5"/>
<rect x="195.13" y="375.20" width="2.18" height="8.01" fill="#d4b7cf" stroke="none" stroke-width="0.5"/>
<rect x="197.24" y="375.20" width="2.24" height="8.01" fill="#d0bfdc" stroke="none" stroke-width="0.5"/>
<rect x="199.43" y="375.20" width="2.20" height="8.01" fill="#dbc4d9" stroke="none" stroke-width="0.5"/>
<rect x="201.57" y="375.20" width="1.43" height="8.01" fill="#f4cfce" stroke="none" stroke-width="0.5"/>
<rect x="202.94" y="375.20" width="1.25" height="8.01" fill="#dacfe6" stroke="none" stroke-width="0.5"/>
<rect x="204.13" y="375.20" width="1.25" height="8.01" fill="#dcb6c5" stroke="none" stroke-width="0.5"/>
<rect x="205.33" y="375.20" width="1.22" height="8.01" fill="#d8bed3" stroke="none" stroke-width="0.5"/>
<rect x="206.48" y="375.20" width="1.23" height="8.01" fill="#f3c8c7" stroke="none" stroke-width="0.5"/>
<rect x="207.65" y="375.20" width="1.77" height="8.01" fill="#ebc7cd" stroke="none" stroke-width="0.5"/>
<rect x="209.36" y="375.20" width="2.13" height="8.01" fill="#d1a8bf" stroke="none" stroke-width="0.5"/>
<rect x="211.43" y="375.20" width="1.93" height="8.01" fill="#ecd8e1" stroke="none" stroke-width="0.5"/>
<text x="214.70" y="380.08" font-size="2.5" text-anchor="start" fill="#555">EPHA3</text>
<rect x="108.20" y="383.15" width="1.17" height="8.01" fill="#f5d9da" stroke="none" stroke-width="0.5"/>
<rect x="109.31" y="383.15" width="1.40" height="8.01" fill="#e5d1df" stroke="none" stroke-width="0.5"/>
<rect x="110.65" y="383.15" width="1.03" height="8.01" fill="#f4dfe4" stroke="none" stroke-width="0.5"/>
<rect x="111.62" y="383.15" width="0.96" height="8.01" fill="#eaced7" stroke="none" stroke-width="0.5"/>
<rect x="112.52" y="383.15" width="1.16" height="8.01" fill="#e9c9d1" stroke="none" stroke-width="0.5"/>
<rect x="113.62" y="383.15" width="1.09" height="8.01" fill="#f7cec9" stroke="none" stroke-width="0.5"/>
<rect x="114.65" y="383.15" width="1.43" height="8.01" fill="#f1cccd" stroke="none" stroke-width="0.5"/>
<rect x="116.02" y="383.15" width="0.99" height="8.01" fill="#fac7be" stroke="none" stroke-width="0.5"/>
<rect x="116.96" y="383.15" width="2.10" height="8.01" fill="#efd6db" stroke="none" stroke-width="0.5"/>
<rect x="118.99" y="383.15" width="1.76" height="8.01" fill="#f2dade" stroke="none" stroke-width="0.5"/>
<rect x="120.69" y="383.15" width="1.15" height="8.01" fill="#f3dee2" stroke="none" stroke-width="0.5"/>
<rect x="121.78" y="383.15" width="1.29" height="8.01" fill="#f1cfd2" stroke="none" stroke-width="0.5"/>
<rect x="123.01" y="383.15" width="1.41" height="8.01" fill="#f0d8de" stroke="none" stroke-width="0.5"/>
<rect x="124.36" y="383.15" width="1.43" height="8.01" fill="#f4d0d1" stroke="none" stroke-width="0.5"/>
<rect x="125.74" y="383.15" width="1.12" height="8.01" fill="#e7cbd6" stroke="none" stroke-width="0.5"/>
<rect x="126.80" y="383.15" width="2.06" height="8.01" fill="#e1d4e7" stroke="none" stroke-width="0.5"/>
<rect x="128.80" y="383.15" width="2.25" height="8.01" fill="#d1b2cc" stroke="none" stroke-width="0.5"/>
<rect x="130.99" y="383.15" width="1.57" height="8.01" fill="#e9ccd6" stroke="none" stroke-width="0.5"/>
<rect x="132.50" y="383.15" width="1.59" height="8.01" fill="#e9d5e1" stroke="none" stroke-width="0.5"/>
<rect x="134.03" y="383.15" width="1.07" height="8.01" fill="#ead8e3" stroke="none" stroke-width="0.5"/>
<rect x="135.04" y="383.15" width="1.09" height="8.01" fill="#e1c7d6" stroke="none" stroke-width="0.5"/>
<rect x="136.07" y="383.15" width="1.41" height="8.01" fill="#ddcce1" stroke="none" stroke-width="0.5"/>
<rect x="137.42" y="383.15" width="1.30" height="8.01" fill="#f9d9d6" stroke="none" stroke-width="0.5"/>
<rect x="138.66" y="383.15" width="2.04" height="8.01" fill="#f5d8d9" stroke="none" stroke-width="0.5"/>
<rect x="140.64" y="383.15" width="1.17" height="8.01" fill="#e9dae7" stroke="none" stroke-width="0.5"/>
<rect x="141.75" y="383.15" width="0.99" height="8.01" fill="#f7b9af" stroke="none" stroke-width="0.5"/>
<rect x="142.68" y="383.15" width="2.20" height="8.01" fill="#ead3dd" stroke="none" stroke-width="0.5"/>
<rect x="144.81" y="383.15" width="1.65" height="8.01" fill="#f7dddd" stroke="none" stroke-width="0.5"/>
<rect x="146.40" y="383.15" width="1.15" height="8.01" fill="#f3e3e8" stroke="none" stroke-width="0.5"/>
<rect x="147.49" y="383.15" width="1.67" height="8.01" fill="#f8dad9" stroke="none" stroke-width="0.5"/>
<rect x="149.10" y="383.15" width="1.00" height="8.01" fill="#ccbcdb" stroke="none" stroke-width="0.5"/>
<rect x="150.03" y="383.15" width="1.65" height="8.01" fill="#edd7e0" stroke="none" stroke-width="0.5"/>
<rect x="151.62" y="383.15" width="2.23" height="8.01" fill="#f4cfce" stroke="none" stroke-width="0.5"/>
<rect x="153.79" y="383.15" width="2.08" height="8.01" fill="#f4dadc" stroke="none" stroke-width="0.5"/>
<rect x="155.81" y="383.15" width="1.87" height="8.01" fill="#e9dae7" stroke="none" stroke-width="0.5"/>
<rect x="157.62" y="383.15" width="1.30" height="8.01" fill="#ddc6d9" stroke="none" stroke-width="0.5"/>
<rect x="158.86" y="383.15" width="1.44" height="8.01" fill="#e7c4cd" stroke="none" stroke-width="0.5"/>
<rect x="160.23" y="383.15" width="1.18" height="8.01" fill="#ddc9dc" stroke="none" stroke-width="0.5"/>
<rect x="161.35" y="383.15" width="1.96" height="8.01" fill="#ddc8dc" stroke="none" stroke-width="0.5"/>
<rect x="163.26" y="383.15" width="1.65" height="8.01" fill="#d9c3da" stroke="none" stroke-width="0.5"/>
<rect x="164.85" y="383.15" width="1.97" height="8.01" fill="#dfd4ea" stroke="none" stroke-width="0.5"/>
<rect x="166.76" y="383.15" width="1.39" height="8.01" fill="#f3dfe4" stroke="none" stroke-width="0.5"/>
<rect x="168.09" y="383.15" width="1.25" height="8.01" fill="#e5cdda" stroke="none" stroke-width="0.5"/>
<rect x="169.28" y="383.15" width="2.01" height="8.01" fill="#e9dfec" stroke="none" stroke-width="0.5"/>
<rect x="171.23" y="383.15" width="2.24" height="8.01" fill="#decfe4" stroke="none" stroke-width="0.5"/>
<rect x="173.41" y="383.15" width="2.07" height="8.01" fill="#e5d3e2" stroke="none" stroke-width="0.5"/>
<rect x="175.42" y="383.15" width="2.01" height="8.01" fill="#edd1d8" stroke="none" stroke-width="0.5"/>
<rect x="177.37" y="383.15" width="2.02" height="8.01" fill="#e0c6d7" stroke="none" stroke-width="0.5"/>
<rect x="179.33" y="383.15" width="1.92" height="8.01" fill="#f3d4d6" stroke="none" stroke-width="0.5"/>
<rect x="181.20" y="383.15" width="1.25" height="8.01" fill="#e3cfdf" stroke="none" stroke-width="0.5"/>
<rect x="182.39" y="383.15" width="1.63" height="8.01" fill="#d8cce5" stroke="none" stroke-width="0.5"/>
<rect x="183.96" y="383.15" width="1.42" height="8.01" fill="#e0c4d4" stroke="none" stroke-width="0.5"/>
<rect x="185.33" y="383.15" width="1.00" height="8.01" fill="#e9d5e1" stroke="none" stroke-width="0.5"/>
<rect x="186.26" y="383.15" width="1.00" height="8.01" fill="#eed6dd" stroke="none" stroke-width="0.5"/>
<rect x="187.20" y="383.15" width="1.32" height="8.01" fill="#eacfd8" stroke="none" stroke-width="0.5"/>
<rect x="188.46" y="383.15" width="1.30" height="8.01" fill="#f5dfe2" stroke="none" stroke-width="0.5"/>
<rect x="189.70" y="383.15" width="1.86" height="8.01" fill="#dcc8db" stroke="none" stroke-width="0.5"/>
<rect x="191.50" y="383.15" width="2.20" height="8.01" fill="#dccfe6" stroke="none" stroke-width="0.5"/>
<rect x="193.64" y="383.15" width="1.54" height="8.01" fill="#eee5ef" stroke="none" stroke-width="0.5"/>
<rect x="195.13" y="383.15" width="2.18" height="8.01" fill="#e0cadc" stroke="none" stroke-width="0.5"/>
<rect x="197.24" y="383.15" width="2.24" height="8.01" fill="#e0c9da" stroke="none" stroke-width="0.5"/>
<rect x="199.43" y="383.15" width="2.20" height="8.01" fill="#ebd8e2" stroke="none" stroke-width="0.5"/>
<rect x="201.57" y="383.15" width="1.43" height="8.01" fill="#f3dce0" stroke="none" stroke-width="0.5"/>
<rect x="202.94" y="383.15" width="1.25" height="8.01" fill="#e4d4e4" stroke="none" stroke-width="0.5"/>
<rect x="204.13" y="383.15" width="1.25" height="8.01" fill="#e8ccd5" stroke="none" stroke-width="0.5"/>
<rect x="205.33" y="383.15" width="1.22" height="8.01" fill="#e5c1cb" stroke="none" stroke-width="0.5"/>
<rect x="206.48" y="383.15" width="1.23" height="8.01" fill="#f5e1e5" stroke="none" stroke-width="0.5"/>
<rect x="207.65" y="383.15" width="1.77" height="8.01" fill="#eedce4" stroke="none" stroke-width="0.5"/>
<rect x="209.36" y="383.15" width="2.13" height="8.01" fill="#e4d2e2" stroke="none" stroke-width="0.5"/>
<rect x="211.43" y="383.15" width="1.93" height="8.01" fill="#eedce5" stroke="none" stroke-width="0.5"/>
<text x="214.70" y="388.03" font-size="2.5" text-anchor="start" fill="#555">SCG3</text>
<rect x="108.20" y="391.10" width="1.17" height="8.01" fill="#f8ecef" stroke="none" stroke-width="0.5"/>
<rect x="109.31" y="391.10" width="1.40" height="8.01" fill="#fbecec" stroke="none" stroke-width="0.5"/>
<rect x="110.65" y="391.10" width="1.03" height="8.01" fill="#f9eff1" stroke="none" stroke-width="0.5"/>
<rect x="111.62" y="391.10" width="0.96" height="8.01" fill="#f7e0e1" stroke="none" stroke-width="0.5"/>
<rect x="112.52" y="391.10" width="1.16" height="8.01" fill="#f8eef1" stroke="none" stroke-width="0.5"/>
<rect x="113.62" y="391.10" width="1.09" height="8.01" fill="#fde7e3" stroke="none" stroke-width="0.5"/>
<rect x="114.65" y="391.10" width="1.43" height="8.01" fill="#f6edf2" stroke="none" stroke-width="0.5"/>
<rect x="116.02" y="391.10" width="0.99" height="8.01" fill="#fbe5e4" stroke="none" stroke-width="0.5"/>
<rect x="116.96" y="391.10" width="2.10" height="8.01" fill="#f0e3ec" stroke="none" stroke-width="0.5"/>
<rect x="118.99" y="391.10" width="1.76" height="8.01" fill="#f7eef2" stroke="none" stroke-width="0.5"/>
<rect x="120.69" y="391.10" width="1.15" height="8.01" fill="#f9edef" stroke="none" stroke-width="0.5"/>
<rect x="121.78" y="391.10" width="1.29" height="8.01" fill="#f7e7e9" stroke="none" stroke-width="0.5"/>
<rect x="123.01" y="391.10" width="1.41" height="8.01" fill="#f6ebef" stroke="none" stroke-width="0.5"/>
<rect x="124.36" y="391.10" width="1.43" height="8.01" fill="#fbeceb" stroke="none" stroke-width="0.5"/>
<rect x="125.74" y="391.10" width="1.12" height="8.01" fill="#f5d8da" stroke="none" stroke-width="0.5"/>
<rect x="126.80" y="391.10" width="2.06" height="8.01" fill="#f9e7e7" stroke="none" stroke-width="0.5"/>
<rect x="128.80" y="391.10" width="2.25" height="8.01" fill="#ece2ef" stroke="none" stroke-width="0.5"/>
<rect x="130.99" y="391.10" width="1.57" height="8.01" fill="#f5e5e9" stroke="none" stroke-width="0.5"/>
<rect x="132.50" y="391.10" width="1.59" height="8.01" fill="#f6e9ed" stroke="none" stroke-width="0.5"/>
<rect x="134.03" y="391.10" width="1.07" height="8.01" fill="#fbf1f1" stroke="none" stroke-width="0.5"/>
<rect x="135.04" y="391.10" width="1.09" height="8.01" fill="#ede4ef" stroke="none" stroke-width="0.5"/>
<rect x="136.07" y="391.10" width="1.41" height="8.01" fill="#e5dbec" stroke="none" stroke-width="0.5"/>
<rect x="137.42" y="391.10" width="1.30" height="8.01" fill="#f0e4ec" stroke="none" stroke-width="0.5"/>
<rect x="138.66" y="391.10" width="2.04" height="8.01" fill="#f0e2ea" stroke="none" stroke-width="0.5"/>
<rect x="140.64" y="391.10" width="1.17" height="8.01" fill="#f5e8ee" stroke="none" stroke-width="0.5"/>
<rect x="141.75" y="391.10" width="0.99" height="8.01" fill="#fbe8e7" stroke="none" stroke-width="0.5"/>
<rect x="142.68" y="391.10" width="2.20" height="8.01" fill="#fbeeef" stroke="none" stroke-width="0.5"/>
<rect x="144.81" y="391.10" width="1.65" height="8.01" fill="#f9e1e1" stroke="none" stroke-width="0.5"/>
<rect x="146.40" y="391.10" width="1.15" height="8.01" fill="#f8eaec" stroke="none" stroke-width="0.5"/>
<rect x="147.49" y="391.10" width="1.67" height="8.01" fill="#f8e9ec" stroke="none" stroke-width="0.5"/>
<rect x="149.10" y="391.10" width="1.00" height="8.01" fill="#eae3f1" stroke="none" stroke-width="0.5"/>
<rect x="150.03" y="391.10" width="1.65" height="8.01" fill="#f2e8f0" stroke="none" stroke-width="0.5"/>
<rect x="151.62" y="391.10" width="2.23" height="8.01" fill="#efe5f0" stroke="none" stroke-width="0.5"/>
<rect x="153.79" y="391.10" width="2.08" height="8.01" fill="#f8ecee" stroke="none" stroke-width="0.5"/>
<rect x="155.81" y="391.10" width="1.87" height="8.01" fill="#f4ebf2" stroke="none" stroke-width="0.5"/>
<rect x="157.62" y="391.10" width="1.30" height="8.01" fill="#fcecea" stroke="none" stroke-width="0.5"/>
<rect x="158.86" y="391.10" width="1.44" height="8.01" fill="#eee3ee" stroke="none" stroke-width="0.5"/>
<rect x="160.23" y="391.10" width="1.18" height="8.01" fill="#feeeeb" stroke="none" stroke-width="0.5"/>
<rect x="161.35" y="391.10" width="1.96" height="8.01" fill="#eae0ed" stroke="none" stroke-width="0.5"/>
<rect x="163.26" y="391.10" width="1.65" height="8.01" fill="#f5edf2" stroke="none" stroke-width="0.5"/>
<rect x="164.85" y="391.10" width="1.97" height="8.01" fill="#f1e7ef" stroke="none" stroke-width="0.5"/>
<rect x="166.76" y="391.10" width="1.39" height="8.01" fill="#ebd7e1" stroke="none" stroke-width="0.5"/>
<rect x="168.09" y="391.10" width="1.25" height="8.01" fill="#f5e2e5" stroke="none" stroke-width="0.5"/>
<rect x="169.28" y="391.10" width="2.01" height="8.01" fill="#f3eaf0" stroke="none" stroke-width="0.5"/>
<rect x="171.23" y="391.10" width="2.24" height="8.01" fill="#f1e4ec" stroke="none" stroke-width="0.5"/>
<rect x="173.41" y="391.10" width="2.07" height="8.01" fill="#eee7f2" stroke="none" stroke-width="0.5"/>
<rect x="175.42" y="391.10" width="2.01" height="8.01" fill="#ede4ef" stroke="none" stroke-width="0.5"/>
<rect x="177.37" y="391.10" width="2.02" height="8.01" fill="#f8e8ea" stroke="none" stroke-width="0.5"/>
<rect x="179.33" y="391.10" width="1.92" height="8.01" fill="#f8ecee" stroke="none" stroke-width="0.5"/>
<rect x="181.20" y="391.10" width="1.25" height="8.01" fill="#f1e3ea" stroke="none" stroke-width="0.5"/>
<rect x="182.39" y="391.10" width="1.63" height="8.01" fill="#e0d6ea" stroke="none" stroke-width="0.5"/>
<rect x="183.96" y="391.10" width="1.42" height="8.01" fill="#f6ecf1" stroke="none" stroke-width="0.5"/>
<rect x="185.33" y="391.10" width="1.00" height="8.01" fill="#e8dbea" stroke="none" stroke-width="0.5"/>
<rect x="186.26" y="391.10" width="1.00" height="8.01" fill="#f7e8eb" stroke="none" stroke-width="0.5"/>
<rect x="187.20" y="391.10" width="1.32" height="8.01" fill="#f9eaeb" stroke="none" stroke-width="0.5"/>
<rect x="188.46" y="391.10" width="1.30" height="8.01" fill="#f4e6eb" stroke="none" stroke-width="0.5"/>
<rect x="189.70" y="391.10" width="1.86" height="8.01" fill="#e9e1f0" stroke="none" stroke-width="0.5"/>
<rect x="191.50" y="391.10" width="2.20" height="8.01" fill="#f2e0e6" stroke="none" stroke-width="0.5"/>
<rect x="193.64" y="391.10" width="1.54" height="8.01" fill="#f4ebf1" stroke="none" stroke-width="0.5"/>
<rect x="195.13" y="391.10" width="2.18" height="8.01" fill="#f1e7f0" stroke="none" stroke-width="0.5"/>
<rect x="197.24" y="391.10" width="2.24" height="8.01" fill="#f4eaf1" stroke="none" stroke-width="0.5"/>
<rect x="199.43" y="391.10" width="2.20" height="8.01" fill="#f2e1e7" stroke="none" stroke-width="0.5"/>
<rect x="201.57" y="391.10" width="1.43" height="8.01" fill="#fbecec" stroke="none" stroke-width="0.5"/>
<rect x="202.94" y="391.10" width="1.25" height="8.01" fill="#f9edef" stroke="none" stroke-width="0.5"/>
<rect x="204.13" y="391.10" width="1.25" height="8.01" fill="#f5dcde" stroke="none" stroke-width="0.5"/>
<rect x="205.33" y="391.10" width="1.22" height="8.01" fill="#eedfe9" stroke="none" stroke-width="0.5"/>
<rect x="206.48" y="391.10" width="1.23" height="8.01" fill="#fcf1f1" stroke="none" stroke-width="0.5"/>
<rect x="207.65" y="391.10" width="1.77" height="8.01" fill="#f4e5ea" stroke="none" stroke-width="0.5"/>
<rect x="209.36" y="391.10" width="2.13" height="8.01" fill="#f8edf0" stroke="none" stroke-width="0.5"/>
<rect x="211.43" y="391.10" width="1.93" height="8.01" fill="#f9f0f2" stroke="none" stroke-width="0.5"/>
<text x="214.70" y="395.98" font-size="2.5" text-anchor="start" fill="#555">PCDH9</text>
<rect x="108.20" y="276.20" width="52.00" height="2.80" fill="#6cbf47" stroke="none" stroke-width="0.5"/>
<rect x="160.20" y="276.20" width="53.10" height="2.80" fill="#2b3a8c" stroke="none" stroke-width="0.5"/>
<text x="214.70" y="278.80" font-size="2.5" text-anchor="start" fill="#222" font-weight="bold" textLength="13.2" lengthAdjust="spacingAndGlyphs">RiskScore</text>
<line x1="96.80" y1="283.78" x2="108.20" y2="283.78" stroke="#999" stroke-width="0.4"/>
<line x1="96.80" y1="291.73" x2="108.20" y2="291.73" stroke="#999" stroke-width="0.4"/>
<line x1="96.80" y1="283.78" x2="96.80" y2="291.73" stroke="#999" stroke-width="0.4"/>
<line x1="100.50" y1="299.68" x2="108.20" y2="299.68" stroke="#999" stroke-width="0.4"/>
<line x1="100.50" y1="307.62" x2="108.20" y2="307.62" stroke="#999" stroke-width="0.4"/>
<line x1="100.50" y1="299.68" x2="100.50" y2="307.62" stroke="#999" stroke-width="0.4"/>
<line x1="95.80" y1="287.75" x2="96.80" y2="287.75" stroke="#999" stroke-width="0.4"/>
<line x1="95.80" y1="303.65" x2="100.50" y2="303.65" stroke="#999" stroke-width="0.4"/>
<line x1="95.80" y1="287.75" x2="95.80" y2="303.65" stroke="#999" stroke-width="0.4"/>
<line x1="97.30" y1="315.57" x2="108.20" y2="315.57" stroke="#999" stroke-width="0.4"/>
<line x1="97.30" y1="323.53" x2="108.20" y2="323.53" stroke="#999" stroke-width="0.4"/>
<line x1="97.30" y1="315.57" x2="97.30" y2="323.53" stroke="#999" stroke-width="0.4"/>
<line x1="97.30" y1="331.48" x2="108.20" y2="331.48" stroke="#999" stroke-width="0.4"/>
<line x1="97.30" y1="339.43" x2="108.20" y2="339.43" stroke="#999" stroke-width="0.4"/>
<line x1="97.30" y1="331.48" x2="97.30" y2="339.43" stroke="#999" stroke-width="0.4"/>
<line x1="95.20" y1="319.55" x2="97.30" y2="319.55" stroke="#999" stroke-width="0.4"/>
<line x1="95.20" y1="335.45" x2="97.30" y2="335.45" stroke="#999" stroke-width="0.4"/>
<line x1="95.20" y1="319.55" x2="95.20" y2="335.45" stroke="#999" stroke-width="0.4"/>
<line x1="96.60" y1="347.38" x2="108.20" y2="347.38" stroke="#999" stroke-width="0.4"/>
<line x1="96.60" y1="355.33" x2="108.20" y2="355.33" stroke="#999" stroke-width="0.4"/>
<line x1="96.60" y1="347.38" x2="96.60" y2="355.33" stroke="#999" stroke-width="0.4"/>
<line x1="98.40" y1="363.28" x2="108.20" y2="363.28" stroke="#999" stroke-width="0.4"/>
<line x1="98.40" y1="371.23" x2="108.20" y2="371.23" stroke="#999" stroke-width="0.4"/>
<line x1="98.40" y1="363.28" x2="98.40" y2="371.23" stroke="#999" stroke-width="0.4"/>
<line x1="95.60" y1="351.35" x2="96.60" y2="351.35" stroke="#999" stroke-width="0.4"/>
<line x1="95.60" y1="367.25" x2="98.40" y2="367.25" stroke="#999" stroke-width="0.4"/>
<line x1="95.60" y1="351.35" x2="95.60" y2="367.25" stroke="#999" stroke-width="0.4"/>
<line x1="95.40" y1="379.18" x2="108.20" y2="379.18" stroke="#999" stroke-width="0.4"/>
<line x1="95.40" y1="387.12" x2="108.20" y2="387.12" stroke="#999" stroke-width="0.4"/>
<line x1="95.40" y1="379.18" x2="95.40" y2="387.12" stroke="#999" stroke-width="0.4"/>
<line x1="94.60" y1="383.15" x2="95.40" y2="383.15" stroke="#999" stroke-width="0.4"/>
<line x1="94.60" y1="395.08" x2="108.20" y2="395.08" stroke="#999" stroke-width="0.4"/>
<line x1="94.60" y1="383.15" x2="94.60" y2="395.08" stroke="#999" stroke-width="0.4"/>
<line x1="94.30" y1="359.30" x2="95.60" y2="359.30" stroke="#999" stroke-width="0.4"/>
<line x1="94.30" y1="389.11" x2="94.60" y2="389.11" stroke="#999" stroke-width="0.4"/>
<line x1="94.30" y1="359.30" x2="94.30" y2="389.11" stroke="#999" stroke-width="0.4"/>
<line x1="94.00" y1="295.70" x2="95.80" y2="295.70" stroke="#999" stroke-width="0.4"/>
<line x1="94.00" y1="327.50" x2="95.20" y2="327.50" stroke="#999" stroke-width="0.4"/>
<line x1="94.00" y1="295.70" x2="94.00" y2="327.50" stroke="#999" stroke-width="0.4"/>
<line x1="93.70" y1="311.60" x2="94.00" y2="311.60" stroke="#999" stroke-width="0.4"/>
<line x1="93.70" y1="374.21" x2="94.30" y2="374.21" stroke="#999" stroke-width="0.4"/>
<line x1="93.70" y1="311.60" x2="93.70" y2="374.21" stroke="#999" stroke-width="0.4"/>
<text x="232.10" y="331.60" font-size="2.6" text-anchor="start" fill="#222" font-weight="bold" textLength="11.2" lengthAdjust="spacingAndGlyphs">matrix_1</text>
<defs><linearGradient id="lg" x1="0" y1="0" x2="0" y2="1"><stop offset="0.00" stop-color="#cd2626"/><stop offset="0.05" stop-color="#d64439"/><stop offset="0.10" stop-color="#df5c4d"/><stop offset="0.15" stop-color="#e77262"/><stop offset="0.20" stop-color="#ed8777"/><stop offset="0.25" stop-color="#f39b8c"/><stop offset="0.30" stop-color="#f8afa2"/><stop offset="0.35" stop-color="#fcc3b9"/><stop offset="0.40" stop-color="#fed7d0"/><stop offset="0.45" stop-color="#ffebe7"/><stop offset="0.50" stop-color="#ffffff"/><stop offset="0.55" stop-color="#eae4f2"/><stop offset="0.60" stop-color="#d4c9e6"/><stop offset="0.65" stop-color="#bfaed9"/><stop offset="0.70" stop-color="#aa95cd"/><stop offset="0.75" stop-color="#947bc0"/><stop offset="0.80" stop-color="#7e63b3"/><stop offset="0.85" stop-color="#674ba6"/><stop offset="0.90" stop-color="#4f339a"/><stop offset="0.95" stop-color="#331b8d"/><stop offset="1.00" stop-color="#000080"/></linearGradient></defs>
<rect x="232.10" y="332.80" width="3.20" height="16.80" fill="url(#lg)" stroke="none" stroke-width="0.5"/>
<text x="236.20" y="334.70" font-size="2.2" text-anchor="start" fill="#444">4</text>
<text x="236.20" y="338.65" font-size="2.2" text-anchor="start" fill="#444">2</text>
<text x="236.20" y="342.60" font-size="2.2" text-anchor="start" fill="#444">0</text>
<text x="236.20" y="346.55" font-size="2.2" text-anchor="start" fill="#444">-2</text>
<text x="236.20" y="350.50" font-size="2.2" text-anchor="start" fill="#444">-4</text>
<text x="245.00" y="331.60" font-size="2.6" text-anchor="start" fill="#222" font-weight="bold" textLength="13.0" lengthAdjust="spacingAndGlyphs">RiskScore</text>
<rect x="245.00" y="333.20" width="3.60" height="2.50" fill="#6cbf47" stroke="none" stroke-width="0.5"/>
<text x="249.60" y="335.40" font-size="2.4" text-anchor="start" fill="#444">High</text>
<rect x="245.00" y="336.60" width="3.60" height="2.50" fill="#2b3a8c" stroke="none" stroke-width="0.5"/>
<text x="249.60" y="338.80" font-size="2.4" text-anchor="start" fill="#444">Low</text>
</svg></body></html>
